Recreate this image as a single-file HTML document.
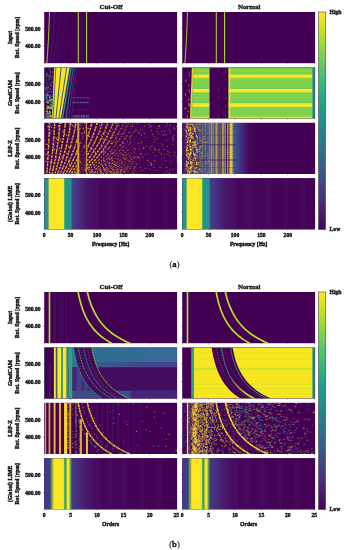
<!DOCTYPE html>
<html><head><meta charset="utf-8"><title>Figure</title>
<style>
html,body{margin:0;padding:0;background:#fff;}
body{width:347px;height:550px;overflow:hidden;}
svg{display:block;}
text{font-family:"Liberation Serif","DejaVu Serif",serif;font-weight:bold;fill:#151515;stroke:#151515;stroke-width:0.42px;}
</style></head><body>
<svg width="347" height="550" viewBox="0 0 347 550">
<defs>
<linearGradient id="vir" x1="0" y1="1" x2="0" y2="0">
<stop offset="0%" stop-color="#440154"/>
<stop offset="10%" stop-color="#482475"/>
<stop offset="20%" stop-color="#414487"/>
<stop offset="30%" stop-color="#355f8d"/>
<stop offset="40%" stop-color="#2a788e"/>
<stop offset="50%" stop-color="#21918c"/>
<stop offset="60%" stop-color="#22a884"/>
<stop offset="70%" stop-color="#44bf70"/>
<stop offset="80%" stop-color="#7ad151"/>
<stop offset="90%" stop-color="#bddf26"/>
<stop offset="100%" stop-color="#fde725"/>
</linearGradient>
</defs>
<rect x="0" y="0" width="347" height="550" fill="#ffffff"/>
<rect x="44.2" y="12" width="132.9" height="51.2" fill="#440154"/>
<clipPath id="c1"><rect x="44.2" y="12" width="132.9" height="51.2"/></clipPath>
<g clip-path="url(#c1)">
<polyline points="54.8,12 54.54,16.27 54.26,20.53 53.94,24.8 53.59,29.07 53.2,33.33 52.78,37.6 52.32,41.87 51.83,46.13 51.31,50.4 50.75,54.67 50.16,58.93 49.53,63.2" fill="none" stroke="#4c2c7c" stroke-width="0.7" opacity="0.75"/>
<polyline points="60.09,12 59.72,16.27 59.29,20.53 58.81,24.8 58.28,29.07 57.7,33.33 57.07,37.6 56.39,41.87 55.65,46.13 54.87,50.4 54.03,54.67 53.14,58.93 52.2,63.2" fill="none" stroke="#4c2c7c" stroke-width="0.7" opacity="0.6"/>
<polyline points="62.74,12 62.3,16.27 61.81,20.53 61.25,24.8 60.63,29.07 59.95,33.33 59.22,37.6 58.42,41.87 57.56,46.13 56.64,50.4 55.67,54.67 54.63,58.93 53.53,63.2" fill="none" stroke="#4c2c7c" stroke-width="0.7" opacity="0.35"/>
<polyline points="66.71,12 66.18,16.27 65.58,20.53 64.9,24.8 64.15,29.07 63.33,33.33 62.43,37.6 61.46,41.87 60.42,46.13 59.31,50.4 58.12,54.67 56.86,58.93 55.53,63.2" fill="none" stroke="#4c2c7c" stroke-width="0.7" opacity="0.45"/>
<polyline points="70.69,12 70.06,16.27 69.35,20.53 68.55,24.8 67.67,29.07 66.7,33.33 65.65,37.6 64.51,41.87 63.29,46.13 61.98,50.4 60.58,54.67 59.1,58.93 57.53,63.2" fill="none" stroke="#4c2c7c" stroke-width="0.7" opacity="0.2"/>
<polyline points="75.99,12 75.23,16.27 74.38,20.53 73.42,24.8 72.37,29.07 71.2,33.33 69.94,37.6 68.57,41.87 67.1,46.13 65.53,50.4 63.86,54.67 62.08,58.93 60.2,63.2" fill="none" stroke="#4c2c7c" stroke-width="0.7" opacity="0.15"/>
<polyline points="49.5,12 49.37,16.27 49.23,20.53 49.07,24.8 48.89,29.07 48.7,33.33 48.49,37.6 48.26,41.87 48.02,46.13 47.76,50.4 47.48,54.67 47.18,58.93 46.87,63.2" fill="none" stroke="#a8d835" stroke-width="0.95"/>
<rect x="77.76" y="12" width="1.1" height="51.2" fill="#a4d437"/>
<rect x="86" y="12" width="1.1" height="51.2" fill="#a4d437"/>
</g>
<rect x="182.2" y="12" width="132.9" height="51.2" fill="#440154"/>
<clipPath id="c2"><rect x="182.2" y="12" width="132.9" height="51.2"/></clipPath>
<g clip-path="url(#c2)">
<polyline points="187.5,12 187.37,16.27 187.23,20.53 187.07,24.8 186.89,29.07 186.7,33.33 186.49,37.6 186.26,41.87 186.02,46.13 185.76,50.4 185.48,54.67 185.18,58.93 184.87,63.2" fill="none" stroke="#a8d835" stroke-width="0.95"/>
<rect x="215.76" y="12" width="1.1" height="51.2" fill="#a4d437"/>
<rect x="224" y="12" width="1.1" height="51.2" fill="#a4d437"/>
</g>
<rect x="44.2" y="67.4" width="132.9" height="51.2" fill="#440154"/>
<clipPath id="c3"><rect x="44.2" y="67.4" width="132.9" height="51.2"/></clipPath>
<g clip-path="url(#c3)">
<path d="M47.75 87.72h1.4M45.17 94.8h1.4M47.38 113.57h1.4M45.94 89.67h1.4M45.34 95.56h1.4M45.93 74.11h1.4M46.53 97.17h1.4M45.68 87.81h1.4M45.95 111h1.4M47.22 95.04h1.4M50.21 108.87h1.4M46 96.57h1.4M46.27 95.4h1.4M45.66 98.97h1.4M49.78 89.37h1.4M47.27 114.26h1.4M47.1 107.78h1.4M51.48 72.01h1.4M47.33 111.83h1.4M51.15 98.47h1.4M45.22 88.89h1.4M48.24 114.75h1.4M49.14 101.44h1.4M48.46 107.51h1.4M48.21 102.8h1.4M50.4 107.9h1.4M45.94 115.32h1.4M49.8 71.16h1.4M51.4 100.39h1.4M51.52 82.19h1.4M49.99 85.32h1.4M49.46 98.57h1.4M49.16 106.47h1.4M46.64 87.87h1.4M48.4 76.25h1.4M49.65 112.25h1.4M48.33 95.52h1.4M51.12 85.91h1.4M50.06 75.48h1.4M46.05 100.96h1.4M45.58 97.47h1.4M47.08 75.21h1.4M50.27 96.33h1.4M46.59 93.78h1.4M50.55 105.04h1.4M50 107.05h1.4M48.58 95.98h1.4M49.5 73.1h1.4M51.1 77.47h1.4M46.34 73.42h1.4" stroke="#2a8f8c" stroke-width="1.4" fill="none" opacity="0.75"/>
<path d="M49.95 67.91h1.4M46.44 115.54h1.4M49.93 111.79h1.4M50.28 99.75h1.4M47.4 91.7h1.4M45.95 117.75h1.4M49.58 83.55h1.4M46 85.1h1.4M47.28 102.64h1.4M49.92 115.64h1.4M50.26 102.54h1.4M45.86 82.86h1.4M51.56 102.85h1.4M47.32 113.49h1.4M47.57 94.64h1.4M48.4 99.85h1.4M50.71 117.34h1.4M48.1 79.92h1.4M49.84 79.28h1.4M50.39 104.6h1.4M45.89 91.61h1.4M46.59 115.92h1.4M49.91 104.2h1.4M47.76 86.2h1.4M46 91.5h1.4" stroke="#3b6a8c" stroke-width="1.4" fill="none" opacity="0.75"/>
<path d="M47 99.23h1.2M50.74 91.97h1.2M51.04 100.19h1.2M48.56 113.57h1.2M48.61 77.91h1.2M46.33 99.82h1.2M45.9 116.68h1.2M49.56 105.22h1.2M45.82 76.43h1.2M45.93 97.56h1.2M49.91 75.24h1.2M48.5 91.71h1.2M46.96 95.42h1.2M45.11 116.64h1.2M50.8 105.52h1.2M46.33 111.66h1.2M48.77 69.31h1.2M46.19 79.98h1.2M50.23 95.23h1.2M48.03 113.58h1.2" stroke="#3fae7a" stroke-width="1.2" fill="none" opacity="0.7"/>
<path d="M47.93 106.61h1.4M49.38 116.07h1.4M48.35 116.36h1.4M48.86 108.17h1.4M49 97.3h1.4M48.47 100.78h1.4M45.72 113.84h1.4M46.79 106.94h1.4M50.27 108.7h1.4M47.75 107.89h1.4M49.2 113.53h1.4M46.37 108.78h1.4M47.27 102.77h1.4M50.57 107.66h1.4M49.24 113.01h1.4M51.45 106.3h1.4M49.56 107.62h1.4M48.93 111.59h1.4M48.55 108.21h1.4M48.71 116.86h1.4M50.11 115.48h1.4M51.64 102.4h1.4M49.22 116.9h1.4M50.99 99.81h1.4M46.47 106.27h1.4M46.16 102h1.4M46.16 111.09h1.4M50.64 115.92h1.4M46.67 112.08h1.4M49.86 99.93h1.4M51.26 117.41h1.4M47.08 117.09h1.4M48.21 107.23h1.4M51.94 114.55h1.4" stroke="#bfcf30" stroke-width="1.4" fill="none" opacity="0.78"/>
<polygon points="53.8,67.4 70,67.4 61.1,118.6 51.7,118.6" fill="#2d8a8c"/>
<polygon points="54.3,67.4 69.4,67.4 60.7,118.6 52.1,118.6" fill="#fde725"/>
<line x1="55.85" y1="67.4" x2="53.1" y2="118.6" stroke="#34587f" stroke-width="0.8"/>
<line x1="61.2" y1="67.4" x2="55.85" y2="118.6" stroke="#34587f" stroke-width="1"/>
<line x1="66.7" y1="67.4" x2="58.85" y2="118.6" stroke="#34587f" stroke-width="1"/>
<polygon points="70.6,67.4 71.8,67.4 63.1,118.6 61.7,118.6" fill="#2a9a89"/>
<polygon points="72.8,67.4 73.8,67.4 66.6,118.6 65.2,118.6" fill="#31688e" opacity="0.9"/>
<polygon points="74.6,67.4 75.3,67.4 69,118.6 68.2,118.6" fill="#3b528b" opacity="0.8"/>
<polygon points="76.4,67.4 77,67.4 71.6,118.6 71,118.6" fill="#3b528b" opacity="0.6"/>
<rect x="72.6" y="97.15" width="0.8" height="1.5" fill="#3f74a0" opacity="0.8"/>
<rect x="74.4" y="97.15" width="1" height="1.5" fill="#3f74a0" opacity="0.8"/>
<rect x="76.4" y="97.15" width="1" height="1.5" fill="#3f74a0" opacity="0.8"/>
<rect x="78.1" y="97.15" width="1" height="1.5" fill="#3f74a0" opacity="0.8"/>
<rect x="79.6" y="97.15" width="1" height="1.5" fill="#3f74a0" opacity="0.8"/>
<rect x="81.3" y="97.15" width="0.8" height="1.5" fill="#3f74a0" opacity="0.8"/>
<rect x="83.1" y="97.15" width="1" height="1.5" fill="#3f74a0" opacity="0.8"/>
<rect x="84.6" y="97.15" width="1" height="1.5" fill="#3f74a0" opacity="0.8"/>
<rect x="86.6" y="97.15" width="1" height="1.5" fill="#3f74a0" opacity="0.8"/>
<rect x="88.3" y="97.15" width="1.3" height="1.5" fill="#3f74a0" opacity="0.8"/>
<rect x="72.6" y="101.65" width="1" height="1.7" fill="#4484a8" opacity="0.9"/>
<rect x="74.3" y="101.65" width="1.3" height="1.7" fill="#4484a8" opacity="0.9"/>
<rect x="76.6" y="101.65" width="1" height="1.7" fill="#4484a8" opacity="0.9"/>
<rect x="78.6" y="101.65" width="0.8" height="1.7" fill="#4484a8" opacity="0.9"/>
<rect x="79.9" y="101.65" width="0.8" height="1.7" fill="#4484a8" opacity="0.9"/>
<rect x="81.2" y="101.65" width="0.8" height="1.7" fill="#4484a8" opacity="0.9"/>
<rect x="82.7" y="101.65" width="1" height="1.7" fill="#4484a8" opacity="0.9"/>
<rect x="84.2" y="101.65" width="0.8" height="1.7" fill="#4484a8" opacity="0.9"/>
<rect x="85.7" y="101.65" width="0.8" height="1.7" fill="#4484a8" opacity="0.9"/>
<rect x="87.2" y="101.65" width="1.3" height="1.7" fill="#4484a8" opacity="0.9"/>
<rect x="72.6" y="109.4" width="1" height="1.2" fill="#3f4f8a" opacity="0.6"/>
<rect x="74.1" y="109.4" width="1.3" height="1.2" fill="#3f4f8a" opacity="0.6"/>
<rect x="76.4" y="109.4" width="1.3" height="1.2" fill="#3f4f8a" opacity="0.6"/>
<rect x="78.4" y="109.4" width="1.3" height="1.2" fill="#3f4f8a" opacity="0.6"/>
<rect x="80.4" y="109.4" width="0.8" height="1.2" fill="#3f4f8a" opacity="0.6"/>
<rect x="81.9" y="109.4" width="0.8" height="1.2" fill="#3f4f8a" opacity="0.6"/>
<rect x="83.7" y="109.4" width="0.8" height="1.2" fill="#3f4f8a" opacity="0.6"/>
<rect x="85.2" y="109.4" width="0.8" height="1.2" fill="#3f4f8a" opacity="0.6"/>
<rect x="86.7" y="109.4" width="0.8" height="1.2" fill="#3f4f8a" opacity="0.6"/>
<rect x="88.5" y="109.4" width="0.8" height="1.2" fill="#3f4f8a" opacity="0.6"/>
<rect x="72.6" y="115" width="0.8" height="2.6" fill="#4484a8" opacity="0.9"/>
<rect x="74.4" y="115" width="0.8" height="2.6" fill="#4484a8" opacity="0.9"/>
<rect x="75.7" y="115" width="1" height="2.6" fill="#4484a8" opacity="0.9"/>
<rect x="77.2" y="115" width="1" height="2.6" fill="#4484a8" opacity="0.9"/>
<rect x="78.7" y="115" width="1" height="2.6" fill="#4484a8" opacity="0.9"/>
<rect x="80.7" y="115" width="1" height="2.6" fill="#4484a8" opacity="0.9"/>
<rect x="82.4" y="115" width="1.3" height="2.6" fill="#4484a8" opacity="0.9"/>
<rect x="84.2" y="115" width="0.8" height="2.6" fill="#4484a8" opacity="0.9"/>
<rect x="86" y="115" width="1.3" height="2.6" fill="#4484a8" opacity="0.9"/>
<rect x="87.8" y="115" width="0.8" height="2.6" fill="#4484a8" opacity="0.9"/>
</g>
<rect x="182.2" y="67.4" width="132.9" height="51.2" fill="#440154"/>
<clipPath id="c4"><rect x="182.2" y="67.4" width="132.9" height="51.2"/></clipPath>
<g clip-path="url(#c4)">
<rect x="185.3" y="79.4" width="1" height="2.2" fill="#a8a04a" opacity="0.8"/>
<rect x="185.2" y="93.4" width="1" height="2.2" fill="#a8a04a" opacity="0.8"/>
<rect x="184.6" y="107.4" width="1" height="2.4" fill="#a8a04a" opacity="0.8"/>
<rect x="187" y="115.4" width="1" height="2" fill="#a8a04a" opacity="0.8"/>
<rect x="188.3" y="84.4" width="1" height="2.2" fill="#a8a04a" opacity="0.8"/>
<rect x="188.4" y="89.2" width="1" height="2.2" fill="#a8a04a" opacity="0.8"/>
<rect x="188.2" y="98.7" width="1" height="2.2" fill="#a8a04a" opacity="0.8"/>
<rect x="188.3" y="102.9" width="1" height="2.6" fill="#a8a04a" opacity="0.8"/>
<rect x="187.6" y="110.4" width="1" height="2" fill="#a8a04a" opacity="0.8"/>
<rect x="189.7" y="71.4" width="1" height="5.5" fill="#e0cf2c" opacity="0.8"/>
<rect x="189.3" y="91.4" width="1" height="2" fill="#a8a04a" opacity="0.8"/>
<rect x="189" y="104.4" width="1" height="2" fill="#a8a04a" opacity="0.8"/>
<rect x="190.6" y="67.4" width="19.1" height="51.2" fill="#7cd250"/>
<rect x="190.6" y="70" width="19.1" height="1.4" fill="#98d640"/>
<rect x="190.6" y="74.6" width="19.1" height="3.1" fill="#fde725"/>
<rect x="190.6" y="78.4" width="19.1" height="0.8" fill="#a5d93a"/>
<rect x="190.6" y="88.9" width="19.1" height="3.4" fill="#fde725"/>
<rect x="190.6" y="103.2" width="19.1" height="3.6" fill="#fde725"/>
<rect x="190.6" y="82" width="19.1" height="0.6" fill="#8dd646"/>
<rect x="190.6" y="87.6" width="19.1" height="1" fill="#6ccd5a"/>
<rect x="190.6" y="97" width="19.1" height="0.6" fill="#8dd646"/>
<rect x="190.6" y="102" width="19.1" height="1" fill="#6ccd5a"/>
<rect x="190.6" y="111" width="19.1" height="0.6" fill="#8dd646"/>
<rect x="190.6" y="116.6" width="19.1" height="2.1" fill="#d5e22a"/>
<rect x="209.2" y="67.4" width="0.8" height="51.2" fill="#2a8d8c"/>
<polygon points="190,67.4 192.6,67.4 190.6,118.6 190,118.6" fill="#440154"/>
<polyline points="192.5,67.4 192.1,81.4 191.5,94.4 191,107.4 190.7,118.6" fill="none" stroke="#e9d829" stroke-width="1.4"/>
<polyline points="193.5,67.4 193.1,81.4 192.5,94.4 192,107.4 191.7,118.6" fill="none" stroke="#a0b545" stroke-width="0.6"/>
<rect x="228.6" y="67.4" width="84.4" height="51.2" fill="#7cd250"/>
<rect x="228.6" y="70" width="84.4" height="1.4" fill="#98d640"/>
<rect x="228.6" y="74.6" width="84.4" height="3.1" fill="#fde725"/>
<rect x="228.6" y="78.4" width="84.4" height="0.8" fill="#a5d93a"/>
<rect x="228.6" y="88.9" width="84.4" height="3.4" fill="#fde725"/>
<rect x="228.6" y="103.2" width="84.4" height="3.6" fill="#fde725"/>
<rect x="228.6" y="82" width="84.4" height="0.6" fill="#8dd646"/>
<rect x="228.6" y="87.6" width="84.4" height="1" fill="#6ccd5a"/>
<rect x="228.6" y="97" width="84.4" height="0.6" fill="#8dd646"/>
<rect x="228.6" y="102" width="84.4" height="1" fill="#6ccd5a"/>
<rect x="228.6" y="111" width="84.4" height="0.6" fill="#8dd646"/>
<rect x="228.6" y="116.6" width="84.4" height="2.1" fill="#d5e22a"/>
<rect x="228.6" y="67.4" width="1.7" height="51.2" fill="#eadf28"/>
<rect x="312.8" y="67.4" width="2.4" height="51.2" fill="#2f6f8e"/>
<rect x="312.4" y="67.4" width="0.7" height="51.2" fill="#35a07f"/>
<rect x="218.2" y="69.4" width="0.7" height="3" fill="#5a4a80" opacity="0.7"/>
<rect x="218.2" y="78.4" width="0.7" height="3" fill="#5a4a80" opacity="0.7"/>
<rect x="218.2" y="87.4" width="0.7" height="3" fill="#5a4a80" opacity="0.7"/>
<rect x="218.2" y="96.4" width="0.7" height="3" fill="#5a4a80" opacity="0.7"/>
<rect x="218.2" y="105.4" width="0.7" height="3" fill="#5a4a80" opacity="0.7"/>
<rect x="218.2" y="114.4" width="0.7" height="3" fill="#5a4a80" opacity="0.7"/>
<rect x="225" y="69.4" width="0.7" height="3" fill="#5a4a80" opacity="0.7"/>
<rect x="225" y="78.4" width="0.7" height="3" fill="#5a4a80" opacity="0.7"/>
<rect x="225" y="87.4" width="0.7" height="3" fill="#5a4a80" opacity="0.7"/>
<rect x="225" y="96.4" width="0.7" height="3" fill="#5a4a80" opacity="0.7"/>
<rect x="225" y="105.4" width="0.7" height="3" fill="#5a4a80" opacity="0.7"/>
<rect x="225" y="114.4" width="0.7" height="3" fill="#5a4a80" opacity="0.7"/>
</g>
<rect x="44.2" y="122.8" width="132.9" height="51.2" fill="#440154"/>
<clipPath id="c5"><rect x="44.2" y="122.8" width="132.9" height="51.2"/></clipPath>
<g clip-path="url(#c5)">
<polyline points="49.5,122.8 49.35,127.92 49.17,133.04 48.97,138.16 48.74,143.28 48.49,148.4 48.21,153.52 47.91,158.64 47.59,163.76 47.24,168.88 46.87,174" fill="none" stroke="#e3a92c" stroke-width="1.5" stroke-dasharray="1.6 1.2 2.6 1.0" stroke-dashoffset="0.2" opacity="0.95"/>
<polyline points="49.5,122.8 49.35,127.92 49.17,133.04 48.97,138.16 48.74,143.28 48.49,148.4 48.21,153.52 47.91,158.64 47.59,163.76 47.24,168.88 46.87,174" fill="none" stroke="#f6d826" stroke-width="1" stroke-dasharray="1.2 4.5" stroke-dashoffset="5.6" opacity="0.95"/>
<polyline points="54.8,122.8 54.49,127.92 54.14,133.04 53.73,138.16 53.28,143.28 52.78,148.4 52.23,153.52 51.63,158.64 50.98,163.76 50.28,168.88 49.53,174" fill="none" stroke="#e3a92c" stroke-width="1.5" stroke-dasharray="1.6 1.2 2.6 1.0" stroke-dashoffset="2.1" opacity="0.95"/>
<polyline points="54.8,122.8 54.49,127.92 54.14,133.04 53.73,138.16 53.28,143.28 52.78,148.4 52.23,153.52 51.63,158.64 50.98,163.76 50.28,168.88 49.53,174" fill="none" stroke="#f6d826" stroke-width="1" stroke-dasharray="1.2 4.5" stroke-dashoffset="1.7" opacity="0.95"/>
<polyline points="60.09,122.8 59.64,127.92 59.11,133.04 58.5,138.16 57.82,143.28 57.07,148.4 56.24,153.52 55.34,158.64 54.37,163.76 53.32,168.88 52.2,174" fill="none" stroke="#e3a92c" stroke-width="1.5" stroke-dasharray="2.4 1.0" stroke-dashoffset="1.1" opacity="0.95"/>
<polyline points="60.09,122.8 59.64,127.92 59.11,133.04 58.5,138.16 57.82,143.28 57.07,148.4 56.24,153.52 55.34,158.64 54.37,163.76 53.32,168.88 52.2,174" fill="none" stroke="#f6d826" stroke-width="1" stroke-dasharray="1.2 4.5" stroke-dashoffset="6.0" opacity="0.95"/>
<polyline points="65.39,122.8 64.78,127.92 64.07,133.04 63.27,138.16 62.36,143.28 61.36,148.4 60.26,153.52 59.06,158.64 57.76,163.76 56.36,168.88 54.87,174" fill="none" stroke="#e3a92c" stroke-width="1.5" stroke-dasharray="2.0 1.1" stroke-dashoffset="0.1" opacity="0.95"/>
<polyline points="65.39,122.8 64.78,127.92 64.07,133.04 63.27,138.16 62.36,143.28 61.36,148.4 60.26,153.52 59.06,158.64 57.76,163.76 56.36,168.88 54.87,174" fill="none" stroke="#f6d826" stroke-width="1" stroke-dasharray="1 3.5 1.6 5" stroke-dashoffset="3.0" opacity="0.95"/>
<polyline points="70.69,122.8 69.93,127.92 69.04,133.04 68.03,138.16 66.9,143.28 65.65,148.4 64.27,153.52 62.77,158.64 61.15,163.76 59.4,168.88 57.53,174" fill="none" stroke="#e3a92c" stroke-width="1.5" stroke-dasharray="2.4 1.0" stroke-dashoffset="2.1" opacity="0.95"/>
<polyline points="70.69,122.8 69.93,127.92 69.04,133.04 68.03,138.16 66.9,143.28 65.65,148.4 64.27,153.52 62.77,158.64 61.15,163.76 59.4,168.88 57.53,174" fill="none" stroke="#f6d826" stroke-width="1" stroke-dasharray="1.2 4.5" stroke-dashoffset="5.6" opacity="0.95"/>
<polyline points="75.99,122.8 75.07,127.92 74.01,133.04 72.8,138.16 71.44,143.28 69.94,148.4 68.29,153.52 66.49,158.64 64.54,163.76 62.44,168.88 60.2,174" fill="none" stroke="#e3a92c" stroke-width="1.5" stroke-dasharray="2.0 1.1" stroke-dashoffset="2.6" opacity="0.95"/>
<polyline points="75.99,122.8 75.07,127.92 74.01,133.04 72.8,138.16 71.44,143.28 69.94,148.4 68.29,153.52 66.49,158.64 64.54,163.76 62.44,168.88 60.2,174" fill="none" stroke="#f6d826" stroke-width="1" stroke-dasharray="1 3.5 1.6 5" stroke-dashoffset="2.6" opacity="0.95"/>
<polyline points="81.28,122.8 80.22,127.92 78.98,133.04 77.57,138.16 75.99,143.28 74.23,148.4 72.3,153.52 70.2,158.64 67.93,163.76 65.48,168.88 62.86,174" fill="none" stroke="#e3a92c" stroke-width="1.5" stroke-dasharray="3.0 1.2 1.5 1.1" stroke-dashoffset="2.2" opacity="0.95"/>
<polyline points="81.28,122.8 80.22,127.92 78.98,133.04 77.57,138.16 75.99,143.28 74.23,148.4 72.3,153.52 70.2,158.64 67.93,163.76 65.48,168.88 62.86,174" fill="none" stroke="#f6d826" stroke-width="1" stroke-dasharray="1.5 6 1 3" stroke-dashoffset="5.8" opacity="0.95"/>
<polyline points="86.58,122.8 85.36,127.92 83.95,133.04 82.34,138.16 80.53,143.28 78.52,148.4 76.32,153.52 73.92,158.64 71.32,163.76 68.52,168.88 65.53,174" fill="none" stroke="#e3a92c" stroke-width="1.5" stroke-dasharray="1.6 1.2 2.6 1.0" stroke-dashoffset="2.8" opacity="0.95"/>
<polyline points="86.58,122.8 85.36,127.92 83.95,133.04 82.34,138.16 80.53,143.28 78.52,148.4 76.32,153.52 73.92,158.64 71.32,163.76 68.52,168.88 65.53,174" fill="none" stroke="#f6d826" stroke-width="1" stroke-dasharray="1.2 4.5" stroke-dashoffset="2.1" opacity="0.95"/>
<polyline points="91.88,122.8 90.51,127.92 88.92,133.04 87.1,138.16 85.07,143.28 82.81,148.4 80.33,153.52 77.63,158.64 74.71,163.76 71.56,168.88 68.2,174" fill="none" stroke="#e3a92c" stroke-width="1.5" stroke-dasharray="2.4 1.0" stroke-dashoffset="1.6" opacity="0.95"/>
<polyline points="91.88,122.8 90.51,127.92 88.92,133.04 87.1,138.16 85.07,143.28 82.81,148.4 80.33,153.52 77.63,158.64 74.71,163.76 71.56,168.88 68.2,174" fill="none" stroke="#f6d826" stroke-width="1" stroke-dasharray="1.5 6 1 3" stroke-dashoffset="5.9" opacity="0.95"/>
<polyline points="97.18,122.8 95.65,127.92 93.88,133.04 91.87,138.16 89.61,143.28 87.1,148.4 84.35,153.52 81.34,158.64 78.1,163.76 74.6,168.88 70.86,174" fill="none" stroke="#e3a92c" stroke-width="1.5" stroke-dasharray="2.4 1.0" stroke-dashoffset="0.1" opacity="0.95"/>
<polyline points="97.18,122.8 95.65,127.92 93.88,133.04 91.87,138.16 89.61,143.28 87.1,148.4 84.35,153.52 81.34,158.64 78.1,163.76 74.6,168.88 70.86,174" fill="none" stroke="#f6d826" stroke-width="1" stroke-dasharray="1 3.5 1.6 5" stroke-dashoffset="4.4" opacity="0.95"/>
<polyline points="102.47,122.8 100.8,127.92 98.85,133.04 96.64,138.16 94.15,143.28 91.39,148.4 88.36,153.52 85.06,158.64 81.49,163.76 77.64,168.88 73.53,174" fill="none" stroke="#e3a92c" stroke-width="1.5" stroke-dasharray="1.6 1.2 2.6 1.0" stroke-dashoffset="1.7" opacity="0.95"/>
<polyline points="102.47,122.8 100.8,127.92 98.85,133.04 96.64,138.16 94.15,143.28 91.39,148.4 88.36,153.52 85.06,158.64 81.49,163.76 77.64,168.88 73.53,174" fill="none" stroke="#f6d826" stroke-width="1" stroke-dasharray="1.2 4.5" stroke-dashoffset="0.5" opacity="0.95"/>
<polyline points="107.77,122.8 105.94,127.92 103.82,133.04 101.4,138.16 98.69,143.28 95.68,148.4 92.37,153.52 88.77,158.64 84.88,163.76 80.68,168.88 76.2,174" fill="none" stroke="#e3a92c" stroke-width="1.5" stroke-dasharray="3.0 1.2 1.5 1.1" stroke-dashoffset="3.5" opacity="0.95"/>
<polyline points="107.77,122.8 105.94,127.92 103.82,133.04 101.4,138.16 98.69,143.28 95.68,148.4 92.37,153.52 88.77,158.64 84.88,163.76 80.68,168.88 76.2,174" fill="none" stroke="#f6d826" stroke-width="1" stroke-dasharray="1 3.5 1.6 5" stroke-dashoffset="5.8" opacity="0.95"/>
<polyline points="113.07,122.8 111.09,127.92 108.79,133.04 106.17,138.16 103.23,143.28 99.97,148.4 96.39,153.52 92.49,158.64 88.27,163.76 83.73,168.88 78.86,174" fill="none" stroke="#e3a92c" stroke-width="1.5" stroke-dasharray="2.4 1.0" stroke-dashoffset="2.8" opacity="0.95"/>
<polyline points="113.07,122.8 111.09,127.92 108.79,133.04 106.17,138.16 103.23,143.28 99.97,148.4 96.39,153.52 92.49,158.64 88.27,163.76 83.73,168.88 78.86,174" fill="none" stroke="#f6d826" stroke-width="1" stroke-dasharray="1.2 4.5" stroke-dashoffset="2.8" opacity="0.95"/>
<polyline points="118.37,122.8 116.24,127.92 113.76,133.04 110.94,138.16 107.77,143.28 104.26,148.4 100.4,153.52 96.2,158.64 91.66,163.76 86.77,168.88 81.53,174" fill="none" stroke="#e3a92c" stroke-width="1.5" stroke-dasharray="2.4 1.0" stroke-dashoffset="1.1" opacity="0.95"/>
<polyline points="118.37,122.8 116.24,127.92 113.76,133.04 110.94,138.16 107.77,143.28 104.26,148.4 100.4,153.52 96.2,158.64 91.66,163.76 86.77,168.88 81.53,174" fill="none" stroke="#f6d826" stroke-width="1" stroke-dasharray="1.2 4.5" stroke-dashoffset="1.6" opacity="0.95"/>
<polyline points="123.66,122.8 121.38,127.92 118.73,133.04 115.7,138.16 112.31,143.28 108.55,148.4 104.42,153.52 99.92,158.64 95.05,163.76 89.81,168.88 84.2,174" fill="none" stroke="#e3a92c" stroke-width="1.1" stroke-dasharray="1.4 1.4 2.4 1.8" stroke-dashoffset="1.3" opacity="0.80"/>
<polyline points="123.66,122.8 121.38,127.92 118.73,133.04 115.7,138.16 112.31,143.28 108.55,148.4 104.42,153.52 99.92,158.64 95.05,163.76 89.81,168.88 84.2,174" fill="none" stroke="#f6d826" stroke-width="1" stroke-dasharray="1.2 4.5" stroke-dashoffset="5.8" opacity="0.80"/>
<polyline points="128.96,122.8 126.53,127.92 123.7,133.04 120.47,138.16 116.85,143.28 112.84,148.4 108.43,153.52 103.63,158.64 98.44,163.76 92.85,168.88 86.86,174" fill="none" stroke="#e3a92c" stroke-width="1.1" stroke-dasharray="1.6 1.6" stroke-dashoffset="1.4" opacity="0.80"/>
<polyline points="128.96,122.8 126.53,127.92 123.7,133.04 120.47,138.16 116.85,143.28 112.84,148.4 108.43,153.52 103.63,158.64 98.44,163.76 92.85,168.88 86.86,174" fill="none" stroke="#f6d826" stroke-width="1" stroke-dasharray="1.2 4.5" stroke-dashoffset="2.0" opacity="0.80"/>
<polyline points="134.26,122.8 131.67,127.92 128.66,133.04 125.24,138.16 121.39,143.28 117.13,148.4 112.45,153.52 107.35,158.64 101.83,163.76 95.89,168.88 89.53,174" fill="none" stroke="#e3a92c" stroke-width="1.1" stroke-dasharray="2.0 1.8" stroke-dashoffset="1.1" opacity="0.80"/>
<polyline points="134.26,122.8 131.67,127.92 128.66,133.04 125.24,138.16 121.39,143.28 117.13,148.4 112.45,153.52 107.35,158.64 101.83,163.76 95.89,168.88 89.53,174" fill="none" stroke="#f6d826" stroke-width="1" stroke-dasharray="1 3.5 1.6 5" stroke-dashoffset="1.2" opacity="0.80"/>
<polyline points="139.56,122.8 136.82,127.92 133.63,133.04 130.01,138.16 125.93,143.28 121.42,148.4 116.46,153.52 111.06,158.64 105.22,163.76 98.93,168.88 92.2,174" fill="none" stroke="#e3a92c" stroke-width="1.1" stroke-dasharray="1.6 1.6" stroke-dashoffset="1.1" opacity="0.80"/>
<polyline points="139.56,122.8 136.82,127.92 133.63,133.04 130.01,138.16 125.93,143.28 121.42,148.4 116.46,153.52 111.06,158.64 105.22,163.76 98.93,168.88 92.2,174" fill="none" stroke="#f6d826" stroke-width="1" stroke-dasharray="1.2 4.5" stroke-dashoffset="0.9" opacity="0.80"/>
<polyline points="144.85,122.8 141.96,127.92 138.6,133.04 134.77,138.16 130.48,143.28 125.71,148.4 120.48,153.52 114.78,158.64 108.61,163.76 101.97,168.88 94.86,174" fill="none" stroke="#e3a92c" stroke-width="1.1" stroke-dasharray="2.0 1.8" stroke-dashoffset="0.1" opacity="0.80"/>
<polyline points="144.85,122.8 141.96,127.92 138.6,133.04 134.77,138.16 130.48,143.28 125.71,148.4 120.48,153.52 114.78,158.64 108.61,163.76 101.97,168.88 94.86,174" fill="none" stroke="#f6d826" stroke-width="1" stroke-dasharray="1.5 6 1 3" stroke-dashoffset="3.8" opacity="0.80"/>
<polyline points="150.15,122.8 147.11,127.92 143.57,133.04 139.54,138.16 135.02,143.28 130,148.4 124.49,153.52 118.49,158.64 112,163.76 105.01,168.88 97.53,174" fill="none" stroke="#e3a92c" stroke-width="1.1" stroke-dasharray="1.4 1.4 2.4 1.8" stroke-dashoffset="3.8" opacity="0.80"/>
<polyline points="150.15,122.8 147.11,127.92 143.57,133.04 139.54,138.16 135.02,143.28 130,148.4 124.49,153.52 118.49,158.64 112,163.76 105.01,168.88 97.53,174" fill="none" stroke="#f6d826" stroke-width="1" stroke-dasharray="1.2 4.5" stroke-dashoffset="3.9" opacity="0.80"/>
<polyline points="155.45,122.8 152.25,127.92 148.54,133.04 144.31,138.16 139.56,143.28 134.29,148.4 128.51,153.52 122.2,158.64 115.38,163.76 108.05,168.88 100.19,174" fill="none" stroke="#e3a92c" stroke-width="1.1" stroke-dasharray="2.0 1.8" stroke-dashoffset="2.9" opacity="0.80"/>
<polyline points="155.45,122.8 152.25,127.92 148.54,133.04 144.31,138.16 139.56,143.28 134.29,148.4 128.51,153.52 122.2,158.64 115.38,163.76 108.05,168.88 100.19,174" fill="none" stroke="#f6d826" stroke-width="1" stroke-dasharray="1.5 6 1 3" stroke-dashoffset="0.9" opacity="0.80"/>
<polyline points="160.75,122.8 157.4,127.92 153.51,133.04 149.07,138.16 144.1,143.28 138.58,148.4 132.52,153.52 125.92,158.64 118.77,163.76 111.09,168.88 102.86,174" fill="none" stroke="#e3a92c" stroke-width="1.1" stroke-dasharray="1.6 1.6" stroke-dashoffset="3.3" opacity="0.80"/>
<polyline points="160.75,122.8 157.4,127.92 153.51,133.04 149.07,138.16 144.1,143.28 138.58,148.4 132.52,153.52 125.92,158.64 118.77,163.76 111.09,168.88 102.86,174" fill="none" stroke="#f6d826" stroke-width="1" stroke-dasharray="1 3.5 1.6 5" stroke-dashoffset="5.4" opacity="0.80"/>
<polyline points="166.04,122.8 162.54,127.92 158.48,133.04 153.84,138.16 148.64,143.28 142.87,148.4 136.53,153.52 129.63,158.64 122.16,163.76 114.13,168.88 105.53,174" fill="none" stroke="#e3a92c" stroke-width="1.1" stroke-dasharray="1.4 1.4 2.4 1.8" stroke-dashoffset="2.8" opacity="0.80"/>
<polyline points="166.04,122.8 162.54,127.92 158.48,133.04 153.84,138.16 148.64,143.28 142.87,148.4 136.53,153.52 129.63,158.64 122.16,163.76 114.13,168.88 105.53,174" fill="none" stroke="#f6d826" stroke-width="1" stroke-dasharray="1 3.5 1.6 5" stroke-dashoffset="0.8" opacity="0.80"/>
<polyline points="171.34,122.8 167.69,127.92 163.44,133.04 158.61,138.16 153.18,143.28 147.16,148.4 140.55,153.52 133.35,158.64 125.55,163.76 117.17,168.88 108.19,174" fill="none" stroke="#e3a92c" stroke-width="1.1" stroke-dasharray="1.4 1.4 2.4 1.8" stroke-dashoffset="2.3" opacity="0.80"/>
<polyline points="171.34,122.8 167.69,127.92 163.44,133.04 158.61,138.16 153.18,143.28 147.16,148.4 140.55,153.52 133.35,158.64 125.55,163.76 117.17,168.88 108.19,174" fill="none" stroke="#f6d826" stroke-width="1" stroke-dasharray="1 3.5 1.6 5" stroke-dashoffset="4.1" opacity="0.80"/>
<polyline points="176.64,122.8 172.83,127.92 168.41,133.04 163.37,138.16 157.72,143.28 151.45,148.4 144.56,153.52 137.06,158.64 128.94,163.76 120.21,168.88 110.86,174" fill="none" stroke="#e3a92c" stroke-width="1.1" stroke-dasharray="1.6 1.6" stroke-dashoffset="0.1" opacity="0.80"/>
<polyline points="176.64,122.8 172.83,127.92 168.41,133.04 163.37,138.16 157.72,143.28 151.45,148.4 144.56,153.52 137.06,158.64 128.94,163.76 120.21,168.88 110.86,174" fill="none" stroke="#f6d826" stroke-width="1" stroke-dasharray="1.2 4.5" stroke-dashoffset="3.8" opacity="0.80"/>
<polyline points="181.94,122.8 177.98,127.92 173.38,133.04 168.14,138.16 162.26,143.28 155.74,148.4 148.58,153.52 140.78,158.64 132.33,163.76 123.25,168.88 113.53,174" fill="none" stroke="#e3a92c" stroke-width="1.1" stroke-dasharray="2.0 1.8" stroke-dashoffset="3.3" opacity="0.80"/>
<polyline points="181.94,122.8 177.98,127.92 173.38,133.04 168.14,138.16 162.26,143.28 155.74,148.4 148.58,153.52 140.78,158.64 132.33,163.76 123.25,168.88 113.53,174" fill="none" stroke="#f6d826" stroke-width="1" stroke-dasharray="1 3.5 1.6 5" stroke-dashoffset="0.3" opacity="0.80"/>
<polyline points="187.24,122.8 183.12,127.92 178.35,133.04 172.91,138.16 166.8,143.28 160.03,148.4 152.59,153.52 144.49,158.64 135.72,163.76 126.29,168.88 116.19,174" fill="none" stroke="#e3a92c" stroke-width="1.1" stroke-dasharray="1.4 1.4 2.4 1.8" stroke-dashoffset="2.1" opacity="0.80"/>
<polyline points="187.24,122.8 183.12,127.92 178.35,133.04 172.91,138.16 166.8,143.28 160.03,148.4 152.59,153.52 144.49,158.64 135.72,163.76 126.29,168.88 116.19,174" fill="none" stroke="#f6d826" stroke-width="1" stroke-dasharray="1.2 4.5" stroke-dashoffset="2.9" opacity="0.80"/>
<polyline points="192.53,122.8 188.27,127.92 183.32,133.04 177.67,138.16 171.34,143.28 164.32,148.4 156.61,153.52 148.21,158.64 139.11,163.76 129.33,168.88 118.86,174" fill="none" stroke="#e3a92c" stroke-width="1.1" stroke-dasharray="2.0 1.8" stroke-dashoffset="3.2" opacity="0.80"/>
<polyline points="192.53,122.8 188.27,127.92 183.32,133.04 177.67,138.16 171.34,143.28 164.32,148.4 156.61,153.52 148.21,158.64 139.11,163.76 129.33,168.88 118.86,174" fill="none" stroke="#f6d826" stroke-width="1" stroke-dasharray="1 3.5 1.6 5" stroke-dashoffset="5.6" opacity="0.80"/>
<polyline points="197.83,122.8 193.42,127.92 188.29,133.04 182.44,138.16 175.88,143.28 168.61,148.4 160.62,153.52 151.92,158.64 142.5,163.76 132.37,168.88 121.53,174" fill="none" stroke="#e3a92c" stroke-width="1.1" stroke-dasharray="1.4 1.4 2.4 1.8" stroke-dashoffset="2.1" opacity="0.50"/>
<polyline points="197.83,122.8 193.42,127.92 188.29,133.04 182.44,138.16 175.88,143.28 168.61,148.4 160.62,153.52 151.92,158.64 142.5,163.76 132.37,168.88 121.53,174" fill="none" stroke="#f6d826" stroke-width="1" stroke-dasharray="1 3.5 1.6 5" stroke-dashoffset="4.4" opacity="0.50"/>
<polyline points="203.13,122.8 198.56,127.92 193.25,133.04 187.21,138.16 180.42,143.28 172.9,148.4 164.64,153.52 155.63,158.64 145.89,163.76 135.41,168.88 124.19,174" fill="none" stroke="#e3a92c" stroke-width="1.1" stroke-dasharray="1.6 1.6" stroke-dashoffset="3.4" opacity="0.50"/>
<polyline points="203.13,122.8 198.56,127.92 193.25,133.04 187.21,138.16 180.42,143.28 172.9,148.4 164.64,153.52 155.63,158.64 145.89,163.76 135.41,168.88 124.19,174" fill="none" stroke="#f6d826" stroke-width="1" stroke-dasharray="1.2 4.5" stroke-dashoffset="4.4" opacity="0.50"/>
<polyline points="208.43,122.8 203.71,127.92 198.22,133.04 191.98,138.16 184.96,143.28 177.19,148.4 168.65,153.52 159.35,158.64 149.28,163.76 138.45,168.88 126.86,174" fill="none" stroke="#e3a92c" stroke-width="1.1" stroke-dasharray="1.6 1.6" stroke-dashoffset="3.0" opacity="0.50"/>
<polyline points="208.43,122.8 203.71,127.92 198.22,133.04 191.98,138.16 184.96,143.28 177.19,148.4 168.65,153.52 159.35,158.64 149.28,163.76 138.45,168.88 126.86,174" fill="none" stroke="#f6d826" stroke-width="1" stroke-dasharray="1.5 6 1 3" stroke-dashoffset="3.0" opacity="0.50"/>
<polyline points="213.72,122.8 208.85,127.92 203.19,133.04 196.74,138.16 189.51,143.28 181.48,148.4 172.67,153.52 163.06,158.64 152.67,163.76 141.49,168.88 129.52,174" fill="none" stroke="#e3a92c" stroke-width="1.1" stroke-dasharray="1.6 1.6" stroke-dashoffset="1.9" opacity="0.50"/>
<polyline points="213.72,122.8 208.85,127.92 203.19,133.04 196.74,138.16 189.51,143.28 181.48,148.4 172.67,153.52 163.06,158.64 152.67,163.76 141.49,168.88 129.52,174" fill="none" stroke="#f6d826" stroke-width="1" stroke-dasharray="1 3.5 1.6 5" stroke-dashoffset="1.7" opacity="0.50"/>
<polyline points="219.02,122.8 214,127.92 208.16,133.04 201.51,138.16 194.05,143.28 185.77,148.4 176.68,153.52 166.78,158.64 156.06,163.76 144.53,168.88 132.19,174" fill="none" stroke="#e3a92c" stroke-width="1.1" stroke-dasharray="1.4 1.4 2.4 1.8" stroke-dashoffset="2.5" opacity="0.50"/>
<polyline points="219.02,122.8 214,127.92 208.16,133.04 201.51,138.16 194.05,143.28 185.77,148.4 176.68,153.52 166.78,158.64 156.06,163.76 144.53,168.88 132.19,174" fill="none" stroke="#f6d826" stroke-width="1" stroke-dasharray="1.2 4.5" stroke-dashoffset="0.5" opacity="0.50"/>
<polyline points="224.32,122.8 219.14,127.92 213.13,133.04 206.28,138.16 198.59,143.28 190.06,148.4 180.7,153.52 170.49,158.64 159.45,163.76 147.57,168.88 134.86,174" fill="none" stroke="#e3a92c" stroke-width="1.1" stroke-dasharray="2.0 1.8" stroke-dashoffset="1.0" opacity="0.50"/>
<polyline points="224.32,122.8 219.14,127.92 213.13,133.04 206.28,138.16 198.59,143.28 190.06,148.4 180.7,153.52 170.49,158.64 159.45,163.76 147.57,168.88 134.86,174" fill="none" stroke="#f6d826" stroke-width="1" stroke-dasharray="1 3.5 1.6 5" stroke-dashoffset="4.2" opacity="0.50"/>
<polyline points="229.62,122.8 224.29,127.92 218.1,133.04 211.04,138.16 203.13,143.28 194.35,148.4 184.71,153.52 174.21,158.64 162.84,163.76 150.61,168.88 137.52,174" fill="none" stroke="#e3a92c" stroke-width="1.1" stroke-dasharray="1.6 1.6" stroke-dashoffset="1.9" opacity="0.50"/>
<polyline points="229.62,122.8 224.29,127.92 218.1,133.04 211.04,138.16 203.13,143.28 194.35,148.4 184.71,153.52 174.21,158.64 162.84,163.76 150.61,168.88 137.52,174" fill="none" stroke="#f6d826" stroke-width="1" stroke-dasharray="1.5 6 1 3" stroke-dashoffset="1.6" opacity="0.50"/>
<polyline points="234.91,122.8 229.43,127.92 223.07,133.04 215.81,138.16 207.67,143.28 198.64,148.4 188.72,153.52 177.92,158.64 166.23,163.76 153.65,168.88 140.19,174" fill="none" stroke="#e3a92c" stroke-width="1.1" stroke-dasharray="1.4 1.4 2.4 1.8" stroke-dashoffset="0.9" opacity="0.50"/>
<polyline points="234.91,122.8 229.43,127.92 223.07,133.04 215.81,138.16 207.67,143.28 198.64,148.4 188.72,153.52 177.92,158.64 166.23,163.76 153.65,168.88 140.19,174" fill="none" stroke="#f6d826" stroke-width="1" stroke-dasharray="1.5 6 1 3" stroke-dashoffset="1.7" opacity="0.50"/>
<polyline points="240.21,122.8 234.58,127.92 228.03,133.04 220.58,138.16 212.21,143.28 202.93,148.4 192.74,153.52 181.64,158.64 169.62,163.76 156.69,168.88 142.86,174" fill="none" stroke="#e3a92c" stroke-width="1.1" stroke-dasharray="2.0 1.8" stroke-dashoffset="1.9" opacity="0.50"/>
<polyline points="240.21,122.8 234.58,127.92 228.03,133.04 220.58,138.16 212.21,143.28 202.93,148.4 192.74,153.52 181.64,158.64 169.62,163.76 156.69,168.88 142.86,174" fill="none" stroke="#f6d826" stroke-width="1" stroke-dasharray="1.2 4.5" stroke-dashoffset="6.0" opacity="0.50"/>
<polyline points="245.51,122.8 239.72,127.92 233,133.04 225.34,138.16 216.75,143.28 207.22,148.4 196.75,153.52 185.35,158.64 173.01,163.76 159.74,168.88 145.52,174" fill="none" stroke="#e3a92c" stroke-width="1.1" stroke-dasharray="2.0 1.8" stroke-dashoffset="3.9" opacity="0.50"/>
<polyline points="245.51,122.8 239.72,127.92 233,133.04 225.34,138.16 216.75,143.28 207.22,148.4 196.75,153.52 185.35,158.64 173.01,163.76 159.74,168.88 145.52,174" fill="none" stroke="#f6d826" stroke-width="1" stroke-dasharray="1.5 6 1 3" stroke-dashoffset="0.1" opacity="0.50"/>
<polyline points="250.81,122.8 244.87,127.92 237.97,133.04 230.11,138.16 221.29,143.28 211.51,148.4 200.77,153.52 189.06,158.64 176.4,163.76 162.78,168.88 148.19,174" fill="none" stroke="#e3a92c" stroke-width="1.1" stroke-dasharray="1.6 1.6" stroke-dashoffset="3.3" opacity="0.50"/>
<polyline points="250.81,122.8 244.87,127.92 237.97,133.04 230.11,138.16 221.29,143.28 211.51,148.4 200.77,153.52 189.06,158.64 176.4,163.76 162.78,168.88 148.19,174" fill="none" stroke="#f6d826" stroke-width="1" stroke-dasharray="1.5 6 1 3" stroke-dashoffset="6.0" opacity="0.50"/>
<polyline points="256.1,122.8 250.01,127.92 242.94,133.04 234.88,138.16 225.83,143.28 215.8,148.4 204.78,153.52 192.78,158.64 179.79,163.76 165.82,168.88 150.86,174" fill="none" stroke="#e3a92c" stroke-width="1.1" stroke-dasharray="1.6 1.6" stroke-dashoffset="3.7" opacity="0.50"/>
<polyline points="256.1,122.8 250.01,127.92 242.94,133.04 234.88,138.16 225.83,143.28 215.8,148.4 204.78,153.52 192.78,158.64 179.79,163.76 165.82,168.88 150.86,174" fill="none" stroke="#f6d826" stroke-width="1" stroke-dasharray="1.2 4.5" stroke-dashoffset="0.4" opacity="0.50"/>
<polyline points="261.4,122.8 255.16,127.92 247.91,133.04 239.65,138.16 230.37,143.28 220.09,148.4 208.8,153.52 196.49,158.64 183.18,163.76 168.86,168.88 153.52,174" fill="none" stroke="#e3a92c" stroke-width="1.1" stroke-dasharray="1.6 1.6" stroke-dashoffset="3.0" opacity="0.50"/>
<polyline points="261.4,122.8 255.16,127.92 247.91,133.04 239.65,138.16 230.37,143.28 220.09,148.4 208.8,153.52 196.49,158.64 183.18,163.76 168.86,168.88 153.52,174" fill="none" stroke="#f6d826" stroke-width="1" stroke-dasharray="1.5 6 1 3" stroke-dashoffset="5.7" opacity="0.50"/>
<polyline points="266.7,122.8 260.31,127.92 252.88,133.04 244.41,138.16 234.91,143.28 224.38,148.4 212.81,153.52 200.21,158.64 186.57,163.76 171.9,168.88 156.19,174" fill="none" stroke="#e3a92c" stroke-width="1.1" stroke-dasharray="1.4 1.4 2.4 1.8" stroke-dashoffset="3.3" opacity="0.50"/>
<polyline points="266.7,122.8 260.31,127.92 252.88,133.04 244.41,138.16 234.91,143.28 224.38,148.4 212.81,153.52 200.21,158.64 186.57,163.76 171.9,168.88 156.19,174" fill="none" stroke="#f6d826" stroke-width="1" stroke-dasharray="1 3.5 1.6 5" stroke-dashoffset="1.7" opacity="0.50"/>
<polyline points="272,122.8 265.45,127.92 257.84,133.04 249.18,138.16 239.45,143.28 228.67,148.4 216.83,153.52 203.92,158.64 189.96,163.76 174.94,168.88 158.86,174" fill="none" stroke="#e3a92c" stroke-width="1.1" stroke-dasharray="1.4 1.4 2.4 1.8" stroke-dashoffset="1.5" opacity="0.50"/>
<polyline points="272,122.8 265.45,127.92 257.84,133.04 249.18,138.16 239.45,143.28 228.67,148.4 216.83,153.52 203.92,158.64 189.96,163.76 174.94,168.88 158.86,174" fill="none" stroke="#f6d826" stroke-width="1" stroke-dasharray="1.5 6 1 3" stroke-dashoffset="5.4" opacity="0.50"/>
<polyline points="277.29,122.8 270.6,127.92 262.81,133.04 253.95,138.16 244,143.28 232.96,148.4 220.84,153.52 207.64,158.64 193.35,163.76 177.98,168.88 161.52,174" fill="none" stroke="#e3a92c" stroke-width="1.1" stroke-dasharray="2.0 1.8" stroke-dashoffset="0.1" opacity="0.50"/>
<polyline points="277.29,122.8 270.6,127.92 262.81,133.04 253.95,138.16 244,143.28 232.96,148.4 220.84,153.52 207.64,158.64 193.35,163.76 177.98,168.88 161.52,174" fill="none" stroke="#f6d826" stroke-width="1" stroke-dasharray="1.2 4.5" stroke-dashoffset="5.7" opacity="0.50"/>
<polyline points="282.59,122.8 275.74,127.92 267.78,133.04 258.71,138.16 248.54,143.28 237.25,148.4 224.86,153.52 211.35,158.64 196.74,163.76 181.02,168.88 164.19,174" fill="none" stroke="#e3a92c" stroke-width="1.1" stroke-dasharray="2.0 1.8" stroke-dashoffset="1.2" opacity="0.50"/>
<polyline points="282.59,122.8 275.74,127.92 267.78,133.04 258.71,138.16 248.54,143.28 237.25,148.4 224.86,153.52 211.35,158.64 196.74,163.76 181.02,168.88 164.19,174" fill="none" stroke="#f6d826" stroke-width="1" stroke-dasharray="1.2 4.5" stroke-dashoffset="2.5" opacity="0.50"/>
<polyline points="287.89,122.8 280.89,127.92 272.75,133.04 263.48,138.16 253.08,143.28 241.54,148.4 228.87,153.52 215.07,158.64 200.13,163.76 184.06,168.88 166.85,174" fill="none" stroke="#e3a92c" stroke-width="1.1" stroke-dasharray="2.0 1.8" stroke-dashoffset="0.5" opacity="0.50"/>
<polyline points="287.89,122.8 280.89,127.92 272.75,133.04 263.48,138.16 253.08,143.28 241.54,148.4 228.87,153.52 215.07,158.64 200.13,163.76 184.06,168.88 166.85,174" fill="none" stroke="#f6d826" stroke-width="1" stroke-dasharray="1.5 6 1 3" stroke-dashoffset="0.0" opacity="0.50"/>
<polyline points="293.19,122.8 286.03,127.92 277.72,133.04 268.25,138.16 257.62,143.28 245.83,148.4 232.88,153.52 218.78,158.64 203.52,163.76 187.1,168.88 169.52,174" fill="none" stroke="#e3a92c" stroke-width="1.1" stroke-dasharray="2.0 1.8" stroke-dashoffset="0.5" opacity="0.50"/>
<polyline points="293.19,122.8 286.03,127.92 277.72,133.04 268.25,138.16 257.62,143.28 245.83,148.4 232.88,153.52 218.78,158.64 203.52,163.76 187.1,168.88 169.52,174" fill="none" stroke="#f6d826" stroke-width="1" stroke-dasharray="1.2 4.5" stroke-dashoffset="4.3" opacity="0.50"/>
<polyline points="298.48,122.8 291.18,127.92 282.69,133.04 273.01,138.16 262.16,143.28 250.12,148.4 236.9,153.52 222.5,158.64 206.91,163.76 190.14,168.88 172.19,174" fill="none" stroke="#e3a92c" stroke-width="1.1" stroke-dasharray="2.0 1.8" stroke-dashoffset="1.5" opacity="0.50"/>
<polyline points="298.48,122.8 291.18,127.92 282.69,133.04 273.01,138.16 262.16,143.28 250.12,148.4 236.9,153.52 222.5,158.64 206.91,163.76 190.14,168.88 172.19,174" fill="none" stroke="#f6d826" stroke-width="1" stroke-dasharray="1.5 6 1 3" stroke-dashoffset="2.3" opacity="0.50"/>
<polyline points="303.78,122.8 296.32,127.92 287.66,133.04 277.78,138.16 266.7,143.28 254.41,148.4 240.91,153.52 226.21,158.64 210.3,163.76 193.18,168.88 174.85,174" fill="none" stroke="#e3a92c" stroke-width="1.1" stroke-dasharray="2.0 1.8" stroke-dashoffset="3.7" opacity="0.50"/>
<polyline points="303.78,122.8 296.32,127.92 287.66,133.04 277.78,138.16 266.7,143.28 254.41,148.4 240.91,153.52 226.21,158.64 210.3,163.76 193.18,168.88 174.85,174" fill="none" stroke="#f6d826" stroke-width="1" stroke-dasharray="1.5 6 1 3" stroke-dashoffset="5.1" opacity="0.50"/>
<polyline points="309.08,122.8 301.47,127.92 292.62,133.04 282.55,138.16 271.24,143.28 258.7,148.4 244.93,153.52 229.92,158.64 213.69,163.76 196.22,168.88 177.52,174" fill="none" stroke="#e3a92c" stroke-width="1.1" stroke-dasharray="1.6 1.6" stroke-dashoffset="0.2" opacity="0.50"/>
<polyline points="309.08,122.8 301.47,127.92 292.62,133.04 282.55,138.16 271.24,143.28 258.7,148.4 244.93,153.52 229.92,158.64 213.69,163.76 196.22,168.88 177.52,174" fill="none" stroke="#f6d826" stroke-width="1" stroke-dasharray="1 3.5 1.6 5" stroke-dashoffset="1.7" opacity="0.50"/>
<polyline points="314.38,122.8 306.61,127.92 297.59,133.04 287.31,138.16 275.78,143.28 262.99,148.4 248.94,153.52 233.64,158.64 217.08,163.76 199.26,168.88 180.19,174" fill="none" stroke="#e3a92c" stroke-width="1.1" stroke-dasharray="1.6 1.6" stroke-dashoffset="3.9" opacity="0.50"/>
<polyline points="314.38,122.8 306.61,127.92 297.59,133.04 287.31,138.16 275.78,143.28 262.99,148.4 248.94,153.52 233.64,158.64 217.08,163.76 199.26,168.88 180.19,174" fill="none" stroke="#f6d826" stroke-width="1" stroke-dasharray="1.5 6 1 3" stroke-dashoffset="3.1" opacity="0.50"/>
<polyline points="319.68,122.8 311.76,127.92 302.56,133.04 292.08,138.16 280.32,143.28 267.28,148.4 252.96,153.52 237.35,158.64 220.47,163.76 202.3,168.88 182.85,174" fill="none" stroke="#e3a92c" stroke-width="1.1" stroke-dasharray="2.0 1.8" stroke-dashoffset="3.1" opacity="0.50"/>
<polyline points="319.68,122.8 311.76,127.92 302.56,133.04 292.08,138.16 280.32,143.28 267.28,148.4 252.96,153.52 237.35,158.64 220.47,163.76 202.3,168.88 182.85,174" fill="none" stroke="#f6d826" stroke-width="1" stroke-dasharray="1.5 6 1 3" stroke-dashoffset="5.3" opacity="0.50"/>
<polyline points="324.97,122.8 316.9,127.92 307.53,133.04 296.85,138.16 284.86,143.28 271.57,148.4 256.97,153.52 241.07,158.64 223.86,163.76 205.34,168.88 185.52,174" fill="none" stroke="#e3a92c" stroke-width="1.1" stroke-dasharray="1.4 1.4 2.4 1.8" stroke-dashoffset="2.2" opacity="0.50"/>
<polyline points="324.97,122.8 316.9,127.92 307.53,133.04 296.85,138.16 284.86,143.28 271.57,148.4 256.97,153.52 241.07,158.64 223.86,163.76 205.34,168.88 185.52,174" fill="none" stroke="#f6d826" stroke-width="1" stroke-dasharray="1 3.5 1.6 5" stroke-dashoffset="0.5" opacity="0.50"/>
<polyline points="330.27,122.8 322.05,127.92 312.5,133.04 301.62,138.16 289.4,143.28 275.86,148.4 260.99,153.52 244.78,158.64 227.25,163.76 208.38,168.88 188.19,174" fill="none" stroke="#e3a92c" stroke-width="1.1" stroke-dasharray="2.0 1.8" stroke-dashoffset="2.5" opacity="0.50"/>
<polyline points="330.27,122.8 322.05,127.92 312.5,133.04 301.62,138.16 289.4,143.28 275.86,148.4 260.99,153.52 244.78,158.64 227.25,163.76 208.38,168.88 188.19,174" fill="none" stroke="#f6d826" stroke-width="1" stroke-dasharray="1.2 4.5" stroke-dashoffset="3.9" opacity="0.50"/>
<polyline points="335.57,122.8 327.19,127.92 317.47,133.04 306.38,138.16 293.94,143.28 280.15,148.4 265,153.52 248.5,158.64 230.64,163.76 211.42,168.88 190.85,174" fill="none" stroke="#e3a92c" stroke-width="1.1" stroke-dasharray="2.0 1.8" stroke-dashoffset="0.2" opacity="0.50"/>
<polyline points="335.57,122.8 327.19,127.92 317.47,133.04 306.38,138.16 293.94,143.28 280.15,148.4 265,153.52 248.5,158.64 230.64,163.76 211.42,168.88 190.85,174" fill="none" stroke="#f6d826" stroke-width="1" stroke-dasharray="1 3.5 1.6 5" stroke-dashoffset="0.8" opacity="0.50"/>
<polyline points="340.87,122.8 332.34,127.92 322.43,133.04 311.15,138.16 298.48,143.28 284.44,148.4 269.02,153.52 252.21,158.64 234.03,163.76 214.46,168.88 193.52,174" fill="none" stroke="#e3a92c" stroke-width="1.1" stroke-dasharray="2.0 1.8" stroke-dashoffset="1.4" opacity="0.50"/>
<polyline points="340.87,122.8 332.34,127.92 322.43,133.04 311.15,138.16 298.48,143.28 284.44,148.4 269.02,153.52 252.21,158.64 234.03,163.76 214.46,168.88 193.52,174" fill="none" stroke="#f6d826" stroke-width="1" stroke-dasharray="1.5 6 1 3" stroke-dashoffset="1.5" opacity="0.50"/>
<polyline points="346.16,122.8 337.49,127.92 327.4,133.04 315.92,138.16 303.03,143.28 288.73,148.4 273.03,153.52 255.93,158.64 237.42,163.76 217.5,168.88 196.18,174" fill="none" stroke="#e3a92c" stroke-width="1.1" stroke-dasharray="2.0 1.8" stroke-dashoffset="2.6" opacity="0.50"/>
<polyline points="346.16,122.8 337.49,127.92 327.4,133.04 315.92,138.16 303.03,143.28 288.73,148.4 273.03,153.52 255.93,158.64 237.42,163.76 217.5,168.88 196.18,174" fill="none" stroke="#f6d826" stroke-width="1" stroke-dasharray="1.5 6 1 3" stroke-dashoffset="2.9" opacity="0.50"/>
<polyline points="351.46,122.8 342.63,127.92 332.37,133.04 320.68,138.16 307.57,143.28 293.02,148.4 277.04,153.52 259.64,158.64 240.81,163.76 220.54,168.88 198.85,174" fill="none" stroke="#e3a92c" stroke-width="1.1" stroke-dasharray="1.6 1.6" stroke-dashoffset="0.7" opacity="0.50"/>
<polyline points="351.46,122.8 342.63,127.92 332.37,133.04 320.68,138.16 307.57,143.28 293.02,148.4 277.04,153.52 259.64,158.64 240.81,163.76 220.54,168.88 198.85,174" fill="none" stroke="#f6d826" stroke-width="1" stroke-dasharray="1.2 4.5" stroke-dashoffset="0.5" opacity="0.50"/>
<polyline points="356.76,122.8 347.78,127.92 337.34,133.04 325.45,138.16 312.11,143.28 297.31,148.4 281.06,153.52 263.35,158.64 244.2,163.76 223.58,168.88 201.52,174" fill="none" stroke="#e3a92c" stroke-width="1.1" stroke-dasharray="1.4 1.4 2.4 1.8" stroke-dashoffset="0.9" opacity="0.50"/>
<polyline points="356.76,122.8 347.78,127.92 337.34,133.04 325.45,138.16 312.11,143.28 297.31,148.4 281.06,153.52 263.35,158.64 244.2,163.76 223.58,168.88 201.52,174" fill="none" stroke="#f6d826" stroke-width="1" stroke-dasharray="1.5 6 1 3" stroke-dashoffset="6.0" opacity="0.50"/>
<polyline points="362.06,122.8 352.92,127.92 342.31,133.04 330.22,138.16 316.65,143.28 301.6,148.4 285.07,153.52 267.07,158.64 247.59,163.76 226.62,168.88 204.18,174" fill="none" stroke="#e3a92c" stroke-width="1.1" stroke-dasharray="2.0 1.8" stroke-dashoffset="0.6" opacity="0.50"/>
<polyline points="362.06,122.8 352.92,127.92 342.31,133.04 330.22,138.16 316.65,143.28 301.6,148.4 285.07,153.52 267.07,158.64 247.59,163.76 226.62,168.88 204.18,174" fill="none" stroke="#f6d826" stroke-width="1" stroke-dasharray="1.2 4.5" stroke-dashoffset="1.5" opacity="0.50"/>
<polyline points="367.35,122.8 358.07,127.92 347.28,133.04 334.98,138.16 321.19,143.28 305.89,148.4 289.09,153.52 270.78,158.64 250.98,163.76 229.66,168.88 206.85,174" fill="none" stroke="#e3a92c" stroke-width="1.1" stroke-dasharray="2.0 1.8" stroke-dashoffset="2.2" opacity="0.50"/>
<polyline points="367.35,122.8 358.07,127.92 347.28,133.04 334.98,138.16 321.19,143.28 305.89,148.4 289.09,153.52 270.78,158.64 250.98,163.76 229.66,168.88 206.85,174" fill="none" stroke="#f6d826" stroke-width="1" stroke-dasharray="1.5 6 1 3" stroke-dashoffset="1.4" opacity="0.50"/>
<linearGradient id="fade" x1="0" y1="0" x2="1" y2="0"><stop offset="0" stop-color="#440154" stop-opacity="0"/><stop offset="0.4" stop-color="#440154" stop-opacity="0.08"/><stop offset="0.52" stop-color="#440154" stop-opacity="0.3"/><stop offset="0.62" stop-color="#440154" stop-opacity="0.62"/><stop offset="0.7" stop-color="#440154" stop-opacity="0.9"/><stop offset="0.78" stop-color="#440154" stop-opacity="1"/><stop offset="1" stop-color="#440154" stop-opacity="1"/></linearGradient>
<rect x="44.2" y="122.8" width="132.9" height="51.2" fill="url(#fade)"/>
<rect x="79.31" y="122.8" width="6.64" height="51.2" fill="#440154" opacity="0.72"/>
<path d="M124.25 152.3h1M140.81 153.3h1M123.36 155.3h1M131.34 135.3h1M123.47 172.3h1M168.54 129.3h1M146.29 146.3h1M110.13 137.3h1M158.41 126.3h1M169.5 169.3h1M106.66 132.3h1M149.81 149.3h1M169.49 131.3h1M148.85 125.3h1M104.39 145.3h1M142.33 157.3h1M146.74 160.3h1M130.9 153.3h1M105.23 174.3h1M115.08 129.3h1M147.56 160.3h1M172.52 169.3h1M116.24 123.3h1M142.95 148.3h1M115.81 172.3h1M114.57 135.3h1M163.5 134.3h1M108.85 163.3h1M169.03 173.3h1M158.52 152.3h1M151.99 134.3h1M125.75 136.3h1M141.19 133.3h1M121.41 170.3h1M115.8 143.3h1M132.54 161.3h1M175.76 157.3h1M165.41 167.3h1M106.13 169.3h1M168.7 173.3h1M149.59 127.3h1M116.71 125.3h1M111.98 133.3h1M114.54 124.3h1M155.01 170.3h1M166.64 171.3h1M173.04 129.3h1M119.01 125.3h1M125.15 129.3h1M161.93 164.3h1M127.47 150.3h1M129.78 141.3h1M129.48 168.3h1M110.83 141.3h1M104.29 135.3h1M158.91 126.3h1M173.98 155.3h1M172.6 137.3h1M139.94 167.3h1M111.82 143.3h1M106.04 136.3h1M135.41 157.3h1M131.85 163.3h1M129.6 143.3h1M158.29 133.3h1M154.43 139.3h1M154.98 155.3h1M149.2 169.3h1M129.62 138.3h1M116.2 165.3h1M157.66 150.3h1M112.17 129.3h1M168.73 152.3h1M133.29 173.3h1M120.42 163.3h1M133.7 170.3h1M166.38 167.3h1M137.29 143.3h1M155.28 149.3h1M122.43 150.3h1M105.63 149.3h1M128.12 123.3h1M139.91 129.3h1M173.55 135.3h1M111.57 159.3h1M119.14 153.3h1M150.8 146.3h1M134.11 152.3h1M154.09 148.3h1M130.11 126.3h1M132.04 126.3h1M153.4 160.3h1M120.56 170.3h1M174.25 152.3h1M113.63 172.3h1M162.4 135.3h1M163.89 149.3h1M161.05 153.3h1M127.55 154.3h1M161.36 131.3h1M129.36 160.3h1M122.43 129.3h1M129.46 132.3h1M133.54 157.3h1M165.35 135.3h1M136.17 130.3h1M138.7 158.3h1M122.17 133.3h1M167.1 123.3h1M127.58 167.3h1M152.7 152.3h1M134.73 166.3h1M111.05 153.3h1M169.63 125.3h1M134.5 131.3h1M167.02 146.3h1M119.56 150.3h1M125.55 154.3h1M161.93 144.3h1M143.96 126.3h1M112.11 125.3h1M148.8 162.3h1M153.84 136.3h1M114.31 142.3h1M123.01 142.3h1M106.7 124.3h1M150.98 126.3h1M138.86 149.3h1M110.25 153.3h1M115.26 123.3h1M104.88 165.3h1M174.65 128.3h1M113.05 153.3h1M156.64 138.3h1M158.45 126.3h1M157.4 128.3h1M144.84 154.3h1M108.04 125.3h1M149.27 147.3h1M165.07 161.3h1M138.45 133.3h1M116.16 174.3h1M132.32 173.3h1M124.03 171.3h1M124.85 123.3h1M163.69 173.3h1M176.58 132.3h1M166.25 174.3h1M160.85 154.3h1M110.4 158.3h1M172.12 137.3h1M108.4 148.3h1M104.88 147.3h1M110.59 174.3h1M108.77 148.3h1M169.59 156.3h1M141.1 135.3h1M125.33 159.3h1M122.16 154.3h1M111.94 163.3h1M119.77 172.3h1M163.89 131.3h1M131.77 124.3h1M144.83 168.3h1M110.76 143.3h1M150.9 165.3h1M117.52 133.3h1M121.34 169.3h1M165.23 126.3h1M176.04 126.3h1M136.37 164.3h1" stroke="#e3a92c" stroke-width="1" fill="none" opacity="0.6"/>
<path d="M116.24 173.3h1M120.32 145.3h1M115.95 140.3h1M137.23 156.3h1M143.25 148.3h1M141.82 142.3h1M151.05 164.3h1M111.88 137.3h1M172.93 139.3h1M123.59 158.3h1M114.29 164.3h1M110.58 171.3h1M139.98 154.3h1M164.37 154.3h1M137.8 157.3h1M154.45 161.3h1M167.48 151.3h1M113.39 152.3h1M122.25 143.3h1M105.81 139.3h1M160.63 167.3h1M120.87 134.3h1M133.37 168.3h1M143.81 133.3h1M134.71 149.3h1M114.86 165.3h1M125.66 158.3h1M166.21 140.3h1M154.32 150.3h1M139.31 174.3h1M124.7 138.3h1M105.04 127.3h1M138.25 132.3h1M150.64 163.3h1M105.7 125.3h1M129.34 136.3h1M156.19 131.3h1M153.31 167.3h1M136.75 123.3h1M105.27 164.3h1M131 159.3h1M125.52 126.3h1M128.41 161.3h1M105.33 132.3h1M122.14 147.3h1M123.74 133.3h1M119.26 139.3h1M110.16 143.3h1M129.34 156.3h1M167.34 154.3h1M150.84 130.3h1M141.62 170.3h1M153.55 142.3h1" stroke="#f2cf27" stroke-width="1" fill="none" opacity="0.6"/>
<path d="M140.06 174.3h1M122.59 143.3h1M169.48 133.3h1M175.94 160.3h1M114.75 165.3h1M108.29 158.3h1M143.45 147.3h1M113.19 170.3h1M170.36 163.3h1M163.8 157.3h1M109.01 171.3h1M166 174.3h1M159.59 143.3h1M148.09 153.3h1M149.27 124.3h1M106.48 156.3h1M145.47 168.3h1M173.01 141.3h1M112.21 163.3h1M133.45 148.3h1M158.53 150.3h1M126.18 168.3h1M132.21 132.3h1M158.81 149.3h1M152.89 164.3h1M152.39 134.3h1M145.17 137.3h1M150.66 165.3h1M115.34 142.3h1M108.36 159.3h1M166.47 134.3h1M110.79 158.3h1M119.74 128.3h1M123.48 137.3h1M172.11 144.3h1M160.95 158.3h1M122.54 126.3h1M140.92 140.3h1M133.28 158.3h1M171.37 161.3h1M108.58 155.3h1M150.39 163.3h1M111.59 134.3h1M134.93 129.3h1M152 146.3h1M142.27 130.3h1M134.9 167.3h1M158.67 167.3h1M172.17 139.3h1M151.65 174.3h1M148.07 137.3h1M164.94 174.3h1M132.03 173.3h1M118.22 134.3h1M133.54 156.3h1M111.28 151.3h1M173.25 127.3h1M108.52 158.3h1" stroke="#9c7c4c" stroke-width="1" fill="none" opacity="0.6"/>
<path d="M148.86 165.3h1M157.38 133.3h1M162.33 146.3h1M107.02 139.3h1M127.36 123.3h1" stroke="#3a8a8a" stroke-width="1" fill="none" opacity="0.6"/>
<path d="M150.59 146.3h1M131.28 147.3h1M133.5 139.3h1M154.19 156.3h1M118 169.3h1M172.19 169.3h1M173.72 137.3h1M169.16 161.3h1M150.48 173.3h1M147.49 165.3h1M126.7 150.3h1M111.06 136.3h1M106.96 135.3h1" stroke="#6a4a78" stroke-width="1" fill="none" opacity="0.6"/>
<path d="M59.7 159.3h1M45.4 149.3h1M88.95 136.3h1M64.49 126.3h1M78.66 146.3h1M95.12 128.3h1M96.57 124.3h1M72.6 160.3h1M57.63 132.3h1M94.99 152.3h1M50.93 127.3h1M100.81 135.3h1M57.61 161.3h1M76.45 152.3h1M63.18 138.3h1M58.29 138.3h1M68.91 164.3h1M83.03 128.3h1M84.24 146.3h1M65.94 148.3h1M62.9 135.3h1M50.74 162.3h1M55.44 137.3h1M52.98 148.3h1M45.62 161.3h1M47.31 126.3h1M75.69 152.3h1M103.3 151.3h1M44.37 140.3h1M69.41 130.3h1M89.73 147.3h1M93.49 174.3h1M47.16 153.3h1M76.69 151.3h1M66.05 153.3h1M68.49 147.3h1M47.95 126.3h1M89.04 161.3h1M60.54 162.3h1M88.99 167.3h1M99.01 154.3h1M48.94 135.3h1M53.8 149.3h1M46.23 158.3h1M56.7 149.3h1M86.79 151.3h1M84.65 170.3h1M90.63 171.3h1M94.65 141.3h1M56.15 138.3h1M78.9 143.3h1M59.3 138.3h1M58.08 174.3h1M72.03 125.3h1M58.17 126.3h1M102.58 160.3h1M84.09 123.3h1M79.97 162.3h1M46.45 144.3h1M56.44 139.3h1M55.31 142.3h1M46.09 154.3h1M49.67 133.3h1M69.27 126.3h1M78.19 145.3h1M66.03 135.3h1M68.5 123.3h1M68.57 146.3h1M53.95 123.3h1M88.43 133.3h1M61.2 156.3h1M48.23 147.3h1M92.49 174.3h1M95.6 162.3h1M94.98 153.3h1M53.59 145.3h1M51.26 161.3h1M95.14 172.3h1M69.4 160.3h1M67.55 146.3h1M70.5 124.3h1M103.37 152.3h1M94.39 174.3h1M50.62 131.3h1M66.12 174.3h1M74.81 125.3h1M52.02 169.3h1M87.42 128.3h1" stroke="#e3a92c" stroke-width="1" fill="none"/>
<path d="M59.11 148.3h1M85.12 169.3h1M58.15 125.3h1M62.43 131.3h1M75.9 150.3h1M46.25 144.3h1M63.95 134.3h1M68.85 174.3h1M60.74 123.3h1M79.93 174.3h1M103.47 139.3h1M52.18 152.3h1M60.26 139.3h1M93.33 149.3h1M84.04 132.3h1M60.47 141.3h1M73.16 126.3h1M81.42 133.3h1M74.44 147.3h1M103.97 169.3h1" stroke="#f2cf27" stroke-width="1" fill="none"/>
<path d="M74.4 163.3h1M70.11 142.3h1M69.71 171.3h1M48.59 156.3h1M102.53 138.3h1M90.81 123.3h1M45.51 154.3h1M92.02 170.3h1M57.49 171.3h1M71.18 168.3h1M84.07 147.3h1M100.8 124.3h1M101.43 147.3h1M73.99 123.3h1M88.51 167.3h1M80.64 143.3h1M71.85 173.3h1M53.84 150.3h1M58.33 141.3h1M72.69 137.3h1M99.06 125.3h1M48.71 155.3h1M71.15 139.3h1M88.13 136.3h1M48 129.3h1M53.59 130.3h1M52.75 174.3h1M49.54 162.3h1M82.38 128.3h1M59.02 169.3h1M55.76 158.3h1M84.54 165.3h1M90.01 172.3h1M91.25 124.3h1" stroke="#9c7c4c" stroke-width="1" fill="none"/>
<path d="M98.82 126.3h1M88.16 128.3h1M50.64 168.3h1M57.29 148.3h1M58.01 130.3h1M71.77 146.3h1M68.34 138.3h1M47.05 174.3h1M81.64 123.3h1M91.33 152.3h1M49.59 125.3h1M70 133.3h1M69.57 162.3h1M56.59 146.3h1M61 151.3h1M58.33 129.3h1M79.45 124.3h1M61.9 163.3h1M139.61 143.3h1M92.93 137.3h1M99.91 132.3h1M52.11 144.3h1" stroke="#3a8a8a" stroke-width="1" fill="none"/>
<path d="M48.25 154.3h1M45.29 172.3h1M51.8 125.3h1M50.78 131.3h1" stroke="#6a4a78" stroke-width="1" fill="none"/>
<rect x="77.31" y="122.8" width="1.9" height="51.2" fill="#dcae2e" opacity="0.92"/>
<rect x="85.95" y="122.8" width="1.1" height="51.2" fill="#d39a35" opacity="0.9"/>
</g>
<rect x="182.2" y="122.8" width="132.9" height="51.2" fill="#440154"/>
<clipPath id="c6"><rect x="182.2" y="122.8" width="132.9" height="51.2"/></clipPath>
<g clip-path="url(#c6)">
<linearGradient id="lz" x1="0" y1="0" x2="1" y2="0"><stop offset="0" stop-color="#440154"/><stop offset="0.03" stop-color="#46237a"/><stop offset="0.10" stop-color="#3f3d86"/><stop offset="0.2" stop-color="#3b4c8a"/><stop offset="0.36" stop-color="#404187"/><stop offset="0.41" stop-color="#3b4c8a"/><stop offset="0.45" stop-color="#46287a"/><stop offset="0.5" stop-color="#450a5c"/><stop offset="0.56" stop-color="#440154"/><stop offset="1" stop-color="#440154"/></linearGradient>
<rect x="182.2" y="122.8" width="132.9" height="51.2" fill="url(#lz)"/>
<rect x="196.6" y="122.8" width="1.2" height="51.2" fill="#b98f45" opacity="0.41"/>
<rect x="199.3" y="122.8" width="1.2" height="51.2" fill="#b98f45" opacity="0.36"/>
<rect x="202" y="122.8" width="1.2" height="51.2" fill="#b98f45" opacity="0.53"/>
<rect x="204.7" y="122.8" width="1.2" height="51.2" fill="#b98f45" opacity="0.49"/>
<rect x="207.4" y="122.8" width="1.2" height="51.2" fill="#b98f45" opacity="0.39"/>
<rect x="209" y="122.8" width="1" height="51.2" fill="#d6a136" opacity="0.50"/>
<rect x="210.7" y="122.8" width="1.7" height="51.2" fill="#d6a136" opacity="0.81"/>
<rect x="213.2" y="122.8" width="1" height="51.2" fill="#d6a136" opacity="0.68"/>
<rect x="215.4" y="122.8" width="2.2" height="51.2" fill="#d6a136" opacity="0.85"/>
<rect x="218.6" y="122.8" width="0.8" height="51.2" fill="#d6a136" opacity="0.32"/>
<rect x="220.4" y="122.8" width="0.8" height="51.2" fill="#d6a136" opacity="0.32"/>
<rect x="222" y="122.8" width="1.9" height="51.2" fill="#d6a136" opacity="0.83"/>
<rect x="224.6" y="122.8" width="1.2" height="51.2" fill="#d6a136" opacity="0.81"/>
<rect x="227" y="122.8" width="1.5" height="51.2" fill="#d6a136" opacity="0.83"/>
<rect x="226" y="122.8" width="0.8" height="51.2" fill="#3a0a50"/>
<rect x="228.7" y="122.8" width="0.9" height="51.2" fill="#3a0a50" opacity="0.8"/>
<polyline points="230.4,122.8 231.8,123.8 230.4,124.8 231.8,125.8 230.4,126.8 231.8,127.8 230.4,128.8 231.8,129.8 230.4,130.8 231.8,131.8 230.4,132.8 231.8,133.8 230.4,134.8 231.8,135.8 230.4,136.8 231.8,137.8 230.4,138.8 231.8,139.8 230.4,140.8 231.8,141.8 230.4,142.8 231.8,143.8 230.4,144.8 231.8,145.8 230.4,146.8 231.8,147.8 230.4,148.8 231.8,149.8 230.4,150.8 231.8,151.8 230.4,152.8 231.8,153.8 230.4,154.8 231.8,155.8 230.4,156.8 231.8,157.8 230.4,158.8 231.8,159.8 230.4,160.8 231.8,161.8 230.4,162.8 231.8,163.8 230.4,164.8 231.8,165.8 230.4,166.8 231.8,167.8 230.4,168.8 231.8,169.8 230.4,170.8 231.8,171.8 230.4,172.8 231.8,173.8 230.4,174.8" fill="none" stroke="#ecc32a" stroke-width="1.9"/>
<rect x="232.9" y="122.8" width="1.4" height="51.2" fill="#3f8a8a" opacity="0.55"/>
<rect x="234.6" y="122.8" width="1.2" height="51.2" fill="#3b6a90" opacity="0.45"/>
<rect x="194.2" y="134.6" width="42" height="0.8" fill="#3f1466" opacity="0.35"/>
<rect x="194.2" y="144.3" width="42" height="1" fill="#3f1466" opacity="0.70"/>
<rect x="194.2" y="159.5" width="42" height="1" fill="#3f1466" opacity="0.70"/>
<rect x="194.2" y="167" width="42" height="0.8" fill="#3f1466" opacity="0.30"/>
<polyline points="186.47,122.8 187.26,123.8 187.97,124.8 187.98,125.8 187.72,126.8 187.97,127.8 188.62,128.8 188.79,129.8 188.09,130.8 187.25,131.8 187.07,132.8 187.37,133.8 187.31,134.8 186.74,135.8 186.41,136.8 186.95,137.8 187.88,138.8 188.25,139.8 187.98,140.8 187.85,141.8 188.3,142.8 188.73,143.8 188.38,144.8 187.44,145.8 186.87,146.8 187.06,147.8 187.33,148.8 187.05,149.8 186.56,150.8 186.73,151.8 187.62,152.8 188.36,153.8 188.31,154.8 187.93,155.8 188.02,156.8 188.5,157.8 188.52,158.8 187.73,159.8 186.87,160.8 186.74,161.8 187.16,162.8 187.26,163.8 186.86,164.8 186.68,165.8 187.32,166.8 188.26,167.8 188.58,168.8 188.19,169.8 187.9,170.8 188.18,171.8 188.47,172.8 188.01,173.8 187.06,174.8" fill="none" stroke="#e2ad2c" stroke-width="1.5" stroke-dasharray="5 1.2 2.5 0.8" stroke-dashoffset="2.1"/>
<polyline points="191.99,122.8 191.61,123.8 190.76,124.8 190.34,125.8 190.44,126.8 190.28,127.8 189.52,128.8 188.85,129.8 189.06,130.8 189.94,131.8 190.54,132.8 190.53,133.8 190.53,134.8 191.13,135.8 191.87,136.8 191.85,137.8 191,138.8 190.22,139.8 190.1,140.8 190.21,141.8 189.8,142.8 189.06,143.8 188.89,144.8 189.64,145.8 190.57,146.8 190.85,147.8 190.7,148.8 190.91,149.8 191.59,150.8 191.91,151.8 191.31,152.8 190.3,153.8 189.82,154.8 189.95,155.8 189.93,156.8 189.37,157.8 188.93,158.8 189.36,159.8 190.4,160.8 191.07,161.8 191.01,162.8 190.88,163.8 191.27,164.8 191.78,165.8 191.54,166.8 190.54,167.8 189.69,168.8 189.62,169.8 189.86,170.8 189.66,171.8 189.15,172.8 189.2,173.8 190.11,174.8" fill="none" stroke="#efc828" stroke-width="1.7" stroke-dasharray="4 1" stroke-dashoffset="1.4"/>
<polyline points="191.69,122.8 192.47,123.8 193.38,124.8 193.66,125.8 193.57,126.8 193.88,127.8 194.63,128.8 194.93,129.8 194.28,130.8 193.27,131.8 192.8,132.8 192.89,133.8 192.77,134.8 192.13,135.8 191.7,136.8 192.18,137.8 193.24,138.8 193.9,139.8 193.87,140.8 193.83,141.8 194.31,142.8 194.83,143.8 194.53,144.8 193.49,145.8 192.65,146.8 192.56,147.8 192.73,148.8 192.43,149.8 191.9,150.8 192,151.8 192.96,152.8 193.95,153.8 194.2,154.8 193.97,155.8 194.07,156.8 194.55,157.8 194.62,158.8 193.79,159.8 192.7,160.8 192.26,161.8 192.5,162.8 192.59,163.8 192.21,164.8 192.01,165.8 192.67,166.8 193.81,167.8 194.44,168.8 194.26,169.8 194,170.8 194.23,171.8 194.5,172.8 194.04,173.8 192.92,174.8" fill="none" stroke="#e2ad2c" stroke-width="1.6" stroke-dasharray="5 1.2 2.5 0.8" stroke-dashoffset="4.0"/>
<polyline points="197.5,122.8 197.04,123.8 196.2,124.8 195.86,125.8 196.01,126.8 195.87,127.8 195.13,128.8 194.53,129.8 194.82,130.8 195.7,131.8 196.24,132.8 196.15,133.8 196.13,134.8 196.72,135.8 197.4,136.8 197.3,137.8 196.43,138.8 195.71,139.8 195.68,140.8 195.82,141.8 195.42,142.8 194.72,143.8 194.63,144.8 195.42,145.8 196.29,146.8 196.48,147.8 196.28,148.8 196.48,149.8 197.13,150.8 197.39,151.8 196.74,152.8 195.77,153.8 195.38,154.8 195.58,155.8 195.57,156.8 195.03,157.8 194.64,158.8 195.12,159.8 196.14,160.8 196.72,161.8 196.58,162.8 196.42,163.8 196.81,164.8 197.28,165.8 196.99,166.8 195.99,167.8 195.23,168.8 195.25,169.8 195.53,170.8 195.33,171.8 194.84,172.8 194.95,173.8 195.86,174.8" fill="none" stroke="#d9a532" stroke-width="1.2" stroke-dasharray="4 1" stroke-dashoffset="1.6"/>
<path d="M187.72 155.3h1M187.01 141.3h1M191.58 171.3h1M198.22 129.3h1M186.5 151.3h1M188.82 134.3h1M187.18 123.3h1M195.8 144.3h1M194.01 128.3h1M195.68 171.3h1M188.62 146.3h1M187.63 123.3h1M190.37 126.3h1M185.72 131.3h1M189.33 134.3h1M186.3 142.3h1M186.74 170.3h1M192.89 159.3h1M194.36 168.3h1M192.19 140.3h1M191.98 140.3h1M185.76 130.3h1M190.3 137.3h1M191.08 159.3h1M191.63 125.3h1M194.12 158.3h1M190.76 156.3h1M190.15 123.3h1M187.55 150.3h1M185.9 165.3h1M189.66 125.3h1M185.52 150.3h1M192.17 125.3h1M188.21 130.3h1M191.84 132.3h1M189.22 155.3h1M187.02 141.3h1M190.91 170.3h1M190.15 138.3h1M186 154.3h1M192.5 136.3h1M188.7 145.3h1M190.54 151.3h1M187.57 171.3h1M199.25 149.3h1M186.5 153.3h1M190.8 168.3h1M191.19 129.3h1M186.22 154.3h1M192.77 159.3h1M187.1 145.3h1M189.99 154.3h1M187.61 174.3h1M191.99 159.3h1M186.66 144.3h1M186.45 123.3h1M197.19 172.3h1M189.54 150.3h1M190.13 145.3h1M195.62 149.3h1M189.83 128.3h1M187.02 135.3h1M192.09 129.3h1M190.96 173.3h1M185.62 165.3h1M189.76 159.3h1M188.55 135.3h1M185.78 130.3h1M192.02 124.3h1M192.13 145.3h1M193.08 160.3h1M187.09 135.3h1M186.71 125.3h1M188.53 125.3h1M190.16 152.3h1M196.31 161.3h1M197.12 127.3h1M188.39 154.3h1M187.09 133.3h1M187.23 134.3h1M189.58 146.3h1M189.6 130.3h1M190.19 145.3h1M189.51 125.3h1M187.07 128.3h1M194.8 158.3h1M188.27 169.3h1M189.02 155.3h1M189.99 138.3h1M188.25 155.3h1M187.46 155.3h1M186.82 142.3h1M193.72 143.3h1M186.8 171.3h1M189.85 137.3h1M187.41 168.3h1M188.49 124.3h1M190.06 152.3h1M188.43 163.3h1M189.71 141.3h1M190.17 148.3h1M187.42 142.3h1M188.61 170.3h1M189.62 159.3h1M192.66 137.3h1M191.16 128.3h1M189.59 155.3h1M192.04 167.3h1M190.45 172.3h1M194.93 171.3h1M195.31 158.3h1M188.53 157.3h1M186.28 139.3h1M189.46 126.3h1M186.89 163.3h1M191.79 168.3h1M190.78 167.3h1M191.34 168.3h1M188.92 146.3h1M188.5 125.3h1M201.33 156.3h1M199.54 146.3h1M201.03 153.3h1M204.57 169.3h1M203 139.3h1M207.47 172.3h1M201.35 141.3h1M200.65 171.3h1M198.73 169.3h1M204.02 142.3h1M206.1 163.3h1M199.36 169.3h1M208.56 161.3h1M197.95 174.3h1M204.68 124.3h1M204.79 148.3h1M198.05 162.3h1M197.31 143.3h1M201.29 146.3h1M206.31 142.3h1M204.5 130.3h1M203.52 136.3h1M198.29 169.3h1M197.79 164.3h1M199.74 147.3h1" stroke="#e3a92c" stroke-width="1" fill="none"/>
<path d="M187.05 173.3h1M195.43 144.3h1M185.74 131.3h1M188.91 168.3h1M189.91 169.3h1M188.5 134.3h1M193.59 147.3h1M187.68 150.3h1M196.67 152.3h1M196.14 164.3h1M192.19 163.3h1M189.29 125.3h1M195.58 162.3h1M188.52 137.3h1M193.75 142.3h1M186.42 135.3h1M185.95 127.3h1M190.45 162.3h1M188.12 162.3h1M189.74 148.3h1M191.26 123.3h1M187.98 146.3h1M185.9 164.3h1M191.4 167.3h1M191.82 142.3h1M199.36 130.3h1M190.34 149.3h1M195.51 136.3h1M188.12 163.3h1M186.99 168.3h1M190.19 129.3h1M185.87 126.3h1M186.89 148.3h1M195.51 147.3h1M192.35 145.3h1M198.54 151.3h1M185.62 168.3h1M188.77 174.3h1M193.14 168.3h1M188.43 134.3h1M192.78 137.3h1M186.38 150.3h1M195.93 172.3h1M192.8 138.3h1M197.32 149.3h1M191.15 144.3h1M187.35 170.3h1M187.49 131.3h1M186.04 155.3h1M190.07 130.3h1" stroke="#f2cf27" stroke-width="1" fill="none"/>
<path d="M196.61 138.3h1M188.32 169.3h1M187.15 132.3h1M191.35 125.3h1M192.37 151.3h1M190.81 129.3h1M186.06 129.3h1M196.16 124.3h1M194.81 172.3h1M192.97 155.3h1M188.11 152.3h1M190.92 123.3h1M190.39 133.3h1M187.66 170.3h1M194.46 170.3h1M189.1 147.3h1M189.09 150.3h1M185.98 142.3h1M186.9 155.3h1M193.89 164.3h1M186.26 133.3h1M188.35 160.3h1M190.39 148.3h1M189.22 157.3h1M189.82 163.3h1M192.38 161.3h1M187.57 172.3h1M193.85 163.3h1M185.56 125.3h1M188.52 170.3h1M187.42 171.3h1M200.74 131.3h1M199.72 138.3h1M200.27 140.3h1M203.83 156.3h1M208.91 125.3h1M207.47 132.3h1M205.87 155.3h1M201.21 158.3h1M205.06 173.3h1M208.96 132.3h1M199.46 165.3h1M208.15 160.3h1M200.03 159.3h1M197.88 135.3h1M208.85 145.3h1M207.77 157.3h1M199.84 124.3h1M197.57 151.3h1M207.71 141.3h1M205.63 123.3h1M200.25 164.3h1M200.86 170.3h1M199.09 149.3h1M206.31 161.3h1M197.67 162.3h1M198.88 124.3h1M199.53 156.3h1M204.89 161.3h1M199.76 162.3h1M206.76 153.3h1M198.58 123.3h1M198.81 163.3h1M201.81 128.3h1M200.11 161.3h1M205.85 134.3h1M203.34 145.3h1M202.3 154.3h1M204.63 145.3h1" stroke="#9c7c4c" stroke-width="1" fill="none"/>
<path d="M207.12 133.3h1M201.72 162.3h1M200.98 152.3h1M208.25 143.3h1M207.52 161.3h1M204.6 163.3h1M201.01 168.3h1M203.04 138.3h1M201.86 148.3h1M205.65 127.3h1M200.83 134.3h1M200.08 152.3h1M201.13 166.3h1M203.71 146.3h1M198.2 174.3h1M202.52 143.3h1M205.09 145.3h1" stroke="#3a8a8a" stroke-width="1" fill="none"/>
<path d="M186.92 131.3h1M192.52 156.3h1M186.37 128.3h1M189.03 161.3h1M192.13 156.3h1M190.16 138.3h1M187.74 143.3h1M192.1 156.3h1M186.33 138.3h1M189.78 126.3h1M187.65 144.3h1M188.96 159.3h1M192.1 140.3h1M192.06 123.3h1M195.65 161.3h1M189.8 156.3h1M190.58 151.3h1M191.66 150.3h1M188.39 132.3h1M195.32 138.3h1M188.19 173.3h1M187.52 140.3h1M187.1 146.3h1M192.05 152.3h1M188.88 165.3h1M189.83 125.3h1M186.91 152.3h1M188.36 148.3h1M192.56 146.3h1M195.72 139.3h1M189.13 125.3h1M187.68 174.3h1M193.41 168.3h1M190.94 126.3h1M196.89 154.3h1M191.15 169.3h1M188.23 142.3h1M193.13 163.3h1M187.38 167.3h1M189 131.3h1M191.38 148.3h1M187.49 125.3h1M195.86 153.3h1M188.6 169.3h1M190.6 125.3h1M195.75 173.3h1M192.12 132.3h1M189.62 165.3h1M187.11 168.3h1M191.13 144.3h1M187.19 123.3h1M193.83 134.3h1M196.44 133.3h1M190.67 123.3h1M191.37 159.3h1M193.93 159.3h1M188.65 128.3h1M192.47 156.3h1M191.57 157.3h1M196.5 132.3h1M197.22 161.3h1M193.32 174.3h1M195.41 169.3h1M193.94 161.3h1M193.74 159.3h1M192.78 146.3h1M191.79 164.3h1M188.01 144.3h1M192.33 163.3h1M186.81 135.3h1M188.95 170.3h1M191.42 128.3h1M188.12 160.3h1M190.59 160.3h1M196.87 146.3h1M192.33 159.3h1M191.36 139.3h1M187.76 134.3h1M197.15 135.3h1M192.53 130.3h1M188.93 139.3h1M193.65 135.3h1M192.34 139.3h1M194.3 137.3h1M192.59 137.3h1M192.45 167.3h1M187.74 155.3h1M196.5 159.3h1M187.38 149.3h1M193.97 174.3h1M191.33 155.3h1M192.56 168.3h1M195.72 130.3h1M193.39 169.3h1M192.17 152.3h1M195.63 148.3h1M192.49 135.3h1M192.69 172.3h1M187.52 146.3h1M195.04 126.3h1M190.95 126.3h1M190.6 123.3h1M194.22 136.3h1M191.56 130.3h1M194.28 150.3h1M196.49 128.3h1M193.33 135.3h1M192.69 169.3h1M196.08 133.3h1M190.54 144.3h1M195.35 170.3h1M193.99 139.3h1M187.85 146.3h1M192.14 156.3h1M196.93 169.3h1M191.88 161.3h1M190.39 145.3h1M192.54 174.3h1M193.13 125.3h1M196.68 166.3h1M189.17 145.3h1M188.62 151.3h1M186.73 160.3h1M191.34 173.3h1M186.73 130.3h1M187.31 139.3h1M188.54 158.3h1M196.74 166.3h1M193.87 132.3h1M192.97 139.3h1M192.42 167.3h1M194.88 140.3h1M196.94 123.3h1M186.77 132.3h1M191.86 153.3h1M196.1 174.3h1M195.71 127.3h1M188.51 164.3h1" stroke="#45105c" stroke-width="1" fill="none"/>
<path d="M183.32 135.3h1M182.64 142.3h1M183.99 130.3h1M182.85 151.3h1M184.07 146.3h1M183.36 158.3h1M182.49 123.3h1M184.07 171.3h1M184.14 170.3h1M185.07 170.3h1M184.45 129.3h1M184.78 150.3h1M184.15 173.3h1M184.37 123.3h1M183.64 128.3h1M184.78 163.3h1M184.65 169.3h1M184.81 139.3h1M184.81 128.3h1M182.75 124.3h1M182.3 148.3h1M185.56 141.3h1M183.67 163.3h1M184.3 166.3h1M182.87 173.3h1M185.08 142.3h1M185.17 143.3h1M183.72 164.3h1M185.5 143.3h1M183.12 131.3h1" stroke="#3b528b" stroke-width="1" fill="none"/>
</g>
<linearGradient id="lg" x1="0" y1="0" x2="1" y2="0"><stop offset="0" stop-color="#433c84"/><stop offset="0.04" stop-color="#443882"/><stop offset="0.09" stop-color="#46287a"/><stop offset="0.16" stop-color="#471466"/><stop offset="0.28" stop-color="#450558"/><stop offset="1" stop-color="#440154"/></linearGradient>
<rect x="44.2" y="178.2" width="132.9" height="51.2" fill="#440154"/>
<clipPath id="c7"><rect x="44.2" y="178.2" width="132.9" height="51.2"/></clipPath>
<g clip-path="url(#c7)">
<rect x="71.2" y="178.2" width="105.9" height="51.2" fill="url(#lg)"/>
<rect x="44.2" y="178.2" width="27.6" height="51.2" fill="#25928b"/>
<rect x="48.6" y="178.2" width="15.4" height="51.2" fill="#fde725"/>
<rect x="64" y="178.2" width="0.8" height="51.2" fill="#5ec962" opacity="0.7"/>
<rect x="71.4" y="178.2" width="0.8" height="51.2" fill="#31708e"/>
<rect x="90.2" y="178.2" width="9" height="51.2" fill="#4c1d70" opacity="0.22"/>
<rect x="107.2" y="178.2" width="8" height="51.2" fill="#4c1d70" opacity="0.22"/>
<rect x="126.2" y="178.2" width="7" height="51.2" fill="#4c1d70" opacity="0.22"/>
<rect x="145.2" y="178.2" width="5" height="51.2" fill="#4c1d70" opacity="0.22"/>
<rect x="162.2" y="178.2" width="6" height="51.2" fill="#4c1d70" opacity="0.22"/>
</g>
<rect x="182.2" y="178.2" width="132.9" height="51.2" fill="#440154"/>
<clipPath id="c8"><rect x="182.2" y="178.2" width="132.9" height="51.2"/></clipPath>
<g clip-path="url(#c8)">
<rect x="209.2" y="178.2" width="105.9" height="51.2" fill="url(#lg)"/>
<rect x="182.2" y="178.2" width="27.6" height="51.2" fill="#25928b"/>
<rect x="186.6" y="178.2" width="15.4" height="51.2" fill="#fde725"/>
<rect x="202" y="178.2" width="0.8" height="51.2" fill="#5ec962" opacity="0.7"/>
<rect x="209.4" y="178.2" width="0.8" height="51.2" fill="#31708e"/>
<rect x="228.2" y="178.2" width="9" height="51.2" fill="#4c1d70" opacity="0.22"/>
<rect x="245.2" y="178.2" width="8" height="51.2" fill="#4c1d70" opacity="0.22"/>
<rect x="264.2" y="178.2" width="7" height="51.2" fill="#4c1d70" opacity="0.22"/>
<rect x="283.2" y="178.2" width="5" height="51.2" fill="#4c1d70" opacity="0.22"/>
<rect x="300.2" y="178.2" width="6" height="51.2" fill="#4c1d70" opacity="0.22"/>
</g>
<rect x="44.2" y="292" width="132.9" height="51.2" fill="#440154"/>
<clipPath id="c9"><rect x="44.2" y="292" width="132.9" height="51.2"/></clipPath>
<g clip-path="url(#c9)">
<rect x="54.36" y="292" width="0.8" height="51.2" fill="#4c2c7c" opacity="0.75"/>
<rect x="59.64" y="292" width="0.8" height="51.2" fill="#4c2c7c" opacity="0.6"/>
<rect x="62.28" y="292" width="0.8" height="51.2" fill="#4c2c7c" opacity="0.4"/>
<rect x="66.24" y="292" width="0.8" height="51.2" fill="#4c2c7c" opacity="0.55"/>
<rect x="70.2" y="292" width="0.8" height="51.2" fill="#4c2c7c" opacity="0.2"/>
<rect x="75.48" y="292" width="0.8" height="51.2" fill="#4c2c7c" opacity="0.15"/>
<rect x="48.68" y="292" width="1.6" height="51.2" fill="#b7de29"/>
<polyline points="78.2,292 78.43,293.28 78.67,294.56 78.93,295.84 79.2,297.12 79.49,298.4 79.79,299.68 80.11,300.96 80.45,302.24 80.8,303.52 81.17,304.8 81.57,306.08 81.98,307.36 82.41,308.64 82.87,309.92 83.35,311.2 83.86,312.48 84.4,313.76 84.96,315.04 85.55,316.32 86.18,317.6 86.84,318.88 87.54,320.16 88.28,321.44 89.06,322.72 89.89,324 90.76,325.28 91.7,326.56 92.68,327.84 93.74,329.12 94.86,330.4 96.05,331.68 97.33,332.96 98.7,334.24 100.16,335.52 101.74,336.8 103.43,338.08 105.27,339.36 107.25,340.64 109.4,341.92 111.74,343.2" fill="none" stroke="#b9df28" stroke-width="1.7"/>
<polyline points="87.35,292 87.65,293.28 87.96,294.56 88.28,295.84 88.63,297.12 88.99,298.4 89.38,299.68 89.78,300.96 90.21,302.24 90.66,303.52 91.13,304.8 91.63,306.08 92.16,307.36 92.71,308.64 93.29,309.92 93.9,311.2 94.54,312.48 95.22,313.76 95.94,315.04 96.69,316.32 97.49,317.6 98.33,318.88 99.21,320.16 100.15,321.44 101.14,322.72 102.19,324 103.31,325.28 104.49,326.56 105.74,327.84 107.08,329.12 108.5,330.4 110.02,331.68 111.64,332.96 113.37,334.24 115.24,335.52 117.23,336.8 119.39,338.08 121.71,339.36 124.23,340.64 126.96,341.92 129.93,343.2" fill="none" stroke="#b9df28" stroke-width="1.7"/>
</g>
<rect x="182.2" y="292" width="132.9" height="51.2" fill="#440154"/>
<clipPath id="c10"><rect x="182.2" y="292" width="132.9" height="51.2"/></clipPath>
<g clip-path="url(#c10)">
<rect x="186.68" y="292" width="1.6" height="51.2" fill="#b7de29"/>
<polyline points="216.2,292 216.43,293.28 216.67,294.56 216.93,295.84 217.2,297.12 217.49,298.4 217.79,299.68 218.11,300.96 218.45,302.24 218.8,303.52 219.17,304.8 219.57,306.08 219.98,307.36 220.41,308.64 220.87,309.92 221.35,311.2 221.86,312.48 222.4,313.76 222.96,315.04 223.55,316.32 224.18,317.6 224.84,318.88 225.54,320.16 226.28,321.44 227.06,322.72 227.89,324 228.76,325.28 229.7,326.56 230.68,327.84 231.74,329.12 232.86,330.4 234.05,331.68 235.33,332.96 236.7,334.24 238.16,335.52 239.74,336.8 241.43,338.08 243.27,339.36 245.25,340.64 247.4,341.92 249.74,343.2" fill="none" stroke="#b9df28" stroke-width="1.7"/>
<polyline points="225.35,292 225.65,293.28 225.96,294.56 226.28,295.84 226.63,297.12 226.99,298.4 227.38,299.68 227.78,300.96 228.21,302.24 228.66,303.52 229.13,304.8 229.63,306.08 230.16,307.36 230.71,308.64 231.29,309.92 231.9,311.2 232.54,312.48 233.22,313.76 233.94,315.04 234.69,316.32 235.49,317.6 236.33,318.88 237.21,320.16 238.15,321.44 239.14,322.72 240.19,324 241.31,325.28 242.49,326.56 243.74,327.84 245.08,329.12 246.5,330.4 248.02,331.68 249.64,332.96 251.37,334.24 253.24,335.52 255.23,336.8 257.39,338.08 259.71,339.36 262.23,340.64 264.96,341.92 267.93,343.2" fill="none" stroke="#b9df28" stroke-width="1.7"/>
</g>
<rect x="44.2" y="347.4" width="132.9" height="51.2" fill="#440154"/>
<clipPath id="c11"><rect x="44.2" y="347.4" width="132.9" height="51.2"/></clipPath>
<g clip-path="url(#c11)">
<linearGradient id="gb1" x1="0" y1="0" x2="1" y2="0"><stop offset="0" stop-color="#2c738e"/><stop offset="0.35" stop-color="#2f6c8f"/><stop offset="0.75" stop-color="#38699a"/><stop offset="1" stop-color="#3a689c"/></linearGradient>
<linearGradient id="gb2" x1="0" y1="0" x2="1" y2="0"><stop offset="0" stop-color="#3b5a8c"/><stop offset="0.4" stop-color="#3f4f8b"/><stop offset="0.8" stop-color="#4a3d8c"/><stop offset="1" stop-color="#4a3d8c"/></linearGradient>
<rect x="67.2" y="347.4" width="109.9" height="14.6" fill="url(#gb1)"/>
<rect x="67.2" y="362" width="109.9" height="5.6" fill="url(#gb2)"/>
<rect x="67.2" y="367.6" width="109.9" height="22.6" fill="#440c5e"/>
<rect x="67.2" y="390.2" width="109.9" height="8.5" fill="#46247b"/>
<rect x="71.2" y="347.4" width="1" height="20" fill="#2a7a8e" opacity="0.28"/>
<rect x="71.2" y="367.4" width="1" height="31.2" fill="#3b3a80" opacity="0.09"/>
<rect x="73.86" y="347.4" width="1" height="20" fill="#2a7a8e" opacity="0.28"/>
<rect x="73.86" y="367.4" width="1" height="31.2" fill="#3b3a80" opacity="0.09"/>
<rect x="76.52" y="347.4" width="1" height="20" fill="#2a7a8e" opacity="0.28"/>
<rect x="76.52" y="367.4" width="1" height="31.2" fill="#3b3a80" opacity="0.09"/>
<rect x="79.18" y="347.4" width="1" height="20" fill="#2a7a8e" opacity="0.28"/>
<rect x="79.18" y="367.4" width="1" height="31.2" fill="#3b3a80" opacity="0.09"/>
<rect x="81.84" y="347.4" width="1" height="20" fill="#2a7a8e" opacity="0.28"/>
<rect x="81.84" y="367.4" width="1" height="31.2" fill="#3b3a80" opacity="0.09"/>
<rect x="84.5" y="347.4" width="1" height="20" fill="#2a7a8e" opacity="0.28"/>
<rect x="84.5" y="367.4" width="1" height="31.2" fill="#3b3a80" opacity="0.09"/>
<rect x="87.16" y="347.4" width="1" height="20" fill="#2a7a8e" opacity="0.28"/>
<rect x="87.16" y="367.4" width="1" height="31.2" fill="#3b3a80" opacity="0.09"/>
<rect x="89.82" y="347.4" width="1" height="20" fill="#2a7a8e" opacity="0.28"/>
<rect x="89.82" y="367.4" width="1" height="31.2" fill="#3b3a80" opacity="0.09"/>
<rect x="92.48" y="347.4" width="1" height="20" fill="#2a7a8e" opacity="0.28"/>
<rect x="92.48" y="367.4" width="1" height="31.2" fill="#3b3a80" opacity="0.09"/>
<rect x="95.14" y="347.4" width="1" height="20" fill="#2a7a8e" opacity="0.28"/>
<rect x="95.14" y="367.4" width="1" height="31.2" fill="#3b3a80" opacity="0.09"/>
<rect x="97.8" y="347.4" width="1" height="20" fill="#2a7a8e" opacity="0.28"/>
<rect x="97.8" y="367.4" width="1" height="31.2" fill="#3b3a80" opacity="0.09"/>
<rect x="100.46" y="347.4" width="1" height="20" fill="#2a7a8e" opacity="0.28"/>
<rect x="100.46" y="367.4" width="1" height="31.2" fill="#3b3a80" opacity="0.09"/>
<rect x="103.12" y="347.4" width="1" height="20" fill="#2a7a8e" opacity="0.28"/>
<rect x="103.12" y="367.4" width="1" height="31.2" fill="#3b3a80" opacity="0.09"/>
<rect x="105.78" y="347.4" width="1" height="20" fill="#2a7a8e" opacity="0.28"/>
<rect x="105.78" y="367.4" width="1" height="31.2" fill="#3b3a80" opacity="0.09"/>
<rect x="108.44" y="347.4" width="1" height="20" fill="#2a7a8e" opacity="0.28"/>
<rect x="108.44" y="367.4" width="1" height="31.2" fill="#3b3a80" opacity="0.09"/>
<rect x="111.1" y="347.4" width="1" height="20" fill="#2a7a8e" opacity="0.28"/>
<rect x="111.1" y="367.4" width="1" height="31.2" fill="#3b3a80" opacity="0.09"/>
<rect x="113.76" y="347.4" width="1" height="20" fill="#2a7a8e" opacity="0.28"/>
<rect x="113.76" y="367.4" width="1" height="31.2" fill="#3b3a80" opacity="0.09"/>
<rect x="116.42" y="347.4" width="1" height="20" fill="#2a7a8e" opacity="0.28"/>
<rect x="116.42" y="367.4" width="1" height="31.2" fill="#3b3a80" opacity="0.09"/>
<rect x="119.08" y="347.4" width="1" height="20" fill="#2a7a8e" opacity="0.28"/>
<rect x="119.08" y="367.4" width="1" height="31.2" fill="#3b3a80" opacity="0.09"/>
<rect x="121.74" y="347.4" width="1" height="20" fill="#2a7a8e" opacity="0.28"/>
<rect x="121.74" y="367.4" width="1" height="31.2" fill="#3b3a80" opacity="0.09"/>
<rect x="124.4" y="347.4" width="1" height="20" fill="#2a7a8e" opacity="0.28"/>
<rect x="124.4" y="367.4" width="1" height="31.2" fill="#3b3a80" opacity="0.09"/>
<rect x="127.06" y="347.4" width="1" height="20" fill="#2a7a8e" opacity="0.28"/>
<rect x="127.06" y="367.4" width="1" height="31.2" fill="#3b3a80" opacity="0.09"/>
<rect x="129.72" y="347.4" width="1" height="20" fill="#2a7a8e" opacity="0.28"/>
<rect x="129.72" y="367.4" width="1" height="31.2" fill="#3b3a80" opacity="0.09"/>
<rect x="132.38" y="347.4" width="1" height="20" fill="#2a7a8e" opacity="0.28"/>
<rect x="132.38" y="367.4" width="1" height="31.2" fill="#3b3a80" opacity="0.09"/>
<rect x="135.04" y="347.4" width="1" height="20" fill="#2a7a8e" opacity="0.28"/>
<rect x="135.04" y="367.4" width="1" height="31.2" fill="#3b3a80" opacity="0.09"/>
<rect x="137.7" y="347.4" width="1" height="20" fill="#2a7a8e" opacity="0.28"/>
<rect x="137.7" y="367.4" width="1" height="31.2" fill="#3b3a80" opacity="0.09"/>
<rect x="140.36" y="347.4" width="1" height="20" fill="#2a7a8e" opacity="0.28"/>
<rect x="140.36" y="367.4" width="1" height="31.2" fill="#3b3a80" opacity="0.09"/>
<rect x="143.02" y="347.4" width="1" height="20" fill="#2a7a8e" opacity="0.28"/>
<rect x="143.02" y="367.4" width="1" height="31.2" fill="#3b3a80" opacity="0.09"/>
<rect x="145.68" y="347.4" width="1" height="20" fill="#2a7a8e" opacity="0.28"/>
<rect x="145.68" y="367.4" width="1" height="31.2" fill="#3b3a80" opacity="0.09"/>
<rect x="148.34" y="347.4" width="1" height="20" fill="#2a7a8e" opacity="0.28"/>
<rect x="148.34" y="367.4" width="1" height="31.2" fill="#3b3a80" opacity="0.09"/>
<rect x="151" y="347.4" width="1" height="20" fill="#2a7a8e" opacity="0.28"/>
<rect x="151" y="367.4" width="1" height="31.2" fill="#3b3a80" opacity="0.09"/>
<rect x="153.66" y="347.4" width="1" height="20" fill="#2a7a8e" opacity="0.28"/>
<rect x="153.66" y="367.4" width="1" height="31.2" fill="#3b3a80" opacity="0.09"/>
<rect x="156.32" y="347.4" width="1" height="20" fill="#2a7a8e" opacity="0.28"/>
<rect x="156.32" y="367.4" width="1" height="31.2" fill="#3b3a80" opacity="0.09"/>
<rect x="158.98" y="347.4" width="1" height="20" fill="#2a7a8e" opacity="0.28"/>
<rect x="158.98" y="367.4" width="1" height="31.2" fill="#3b3a80" opacity="0.09"/>
<rect x="161.64" y="347.4" width="1" height="20" fill="#2a7a8e" opacity="0.28"/>
<rect x="161.64" y="367.4" width="1" height="31.2" fill="#3b3a80" opacity="0.09"/>
<rect x="164.3" y="347.4" width="1" height="20" fill="#2a7a8e" opacity="0.28"/>
<rect x="164.3" y="367.4" width="1" height="31.2" fill="#3b3a80" opacity="0.09"/>
<rect x="166.96" y="347.4" width="1" height="20" fill="#2a7a8e" opacity="0.28"/>
<rect x="166.96" y="367.4" width="1" height="31.2" fill="#3b3a80" opacity="0.09"/>
<rect x="169.62" y="347.4" width="1" height="20" fill="#2a7a8e" opacity="0.28"/>
<rect x="169.62" y="367.4" width="1" height="31.2" fill="#3b3a80" opacity="0.09"/>
<rect x="172.28" y="347.4" width="1" height="20" fill="#2a7a8e" opacity="0.28"/>
<rect x="172.28" y="367.4" width="1" height="31.2" fill="#3b3a80" opacity="0.09"/>
<rect x="174.94" y="347.4" width="1" height="20" fill="#2a7a8e" opacity="0.28"/>
<rect x="174.94" y="367.4" width="1" height="31.2" fill="#3b3a80" opacity="0.09"/>
<rect x="70.6" y="347.4" width="9" height="20" fill="#2f7a8e" opacity="0.5"/>
<rect x="72" y="367.4" width="24" height="23.6" fill="#452c7a" opacity="0.9"/>
<rect x="77" y="367.4" width="4.6" height="23.6" fill="#3b4f8a" opacity="0.72"/>
<rect x="84.3" y="367.4" width="3.2" height="23.6" fill="#3b4f8a" opacity="0.72"/>
<rect x="90.5" y="367.4" width="2.5" height="23.6" fill="#3b4f8a" opacity="0.72"/>
<rect x="70.6" y="391" width="60" height="7.7" fill="#38608c" opacity="0.7"/>
<polygon points="73.62,347.4 73.82,348.68 74.03,349.96 74.25,351.24 74.49,352.52 74.74,353.8 75,355.08 75.27,356.36 75.57,357.64 75.87,358.92 76.19,360.2 76.53,361.48 76.89,362.76 77.27,364.04 77.66,365.32 78.08,366.6 78.52,367.88 78.98,369.16 79.47,370.44 79.98,371.72 80.53,373 81.1,374.28 81.7,375.56 82.34,376.84 83.02,378.12 83.73,379.4 84.49,380.68 85.3,381.96 86.15,383.24 87.06,384.52 88.03,385.8 89.07,387.08 90.17,388.36 91.36,389.64 92.63,390.92 93.99,392.2 95.46,393.48 97.04,394.76 98.76,396.04 100.62,397.32 102.65,398.6 128.89,398.6 126.19,397.32 123.72,396.04 121.44,394.76 119.34,393.48 117.4,392.2 115.6,390.92 113.93,389.64 112.38,388.36 110.93,387.08 109.58,385.8 108.32,384.52 107.13,383.24 106.02,381.96 104.98,380.68 104.01,379.4 103.09,378.12 102.22,376.84 101.41,375.56 100.65,374.28 99.92,373 99.24,371.72 98.6,370.44 98,369.16 97.43,367.88 96.89,366.6 96.39,365.32 95.91,364.04 95.46,362.76 95.04,361.48 94.64,360.2 94.27,358.92 93.91,357.64 93.58,356.36 93.28,355.08 92.99,353.8 92.72,352.52 92.47,351.24 92.24,349.96 92.02,348.68 91.83,347.4" fill="#45085a"/>
<polyline points="73.62,347.4 73.82,348.68 74.03,349.96 74.25,351.24 74.49,352.52 74.74,353.8 75,355.08 75.27,356.36 75.57,357.64 75.87,358.92 76.19,360.2 76.53,361.48 76.89,362.76 77.27,364.04 77.66,365.32 78.08,366.6 78.52,367.88 78.98,369.16 79.47,370.44 79.98,371.72 80.53,373 81.1,374.28 81.7,375.56 82.34,376.84 83.02,378.12 83.73,379.4 84.49,380.68 85.3,381.96 86.15,383.24 87.06,384.52 88.03,385.8 89.07,387.08 90.17,388.36 91.36,389.64 92.63,390.92 93.99,392.2 95.46,393.48 97.04,394.76 98.76,396.04 100.62,397.32 102.65,398.6" fill="none" stroke="#2e8f8b" stroke-width="0.8"/>
<polyline points="75.77,347.4 75.99,348.68 76.22,349.96 76.46,351.24 76.71,352.52 76.98,353.8 77.26,355.08 77.55,356.36 77.87,357.64 78.2,358.92 78.54,360.2 78.91,361.48 79.29,362.76 79.69,364.04 80.12,365.32 80.57,366.6 81.04,367.88 81.53,369.16 82.06,370.44 82.61,371.72 83.19,373 83.81,374.28 84.45,375.56 85.14,376.84 85.87,378.12 86.63,379.4 87.45,380.68 88.31,381.96 89.23,383.24 90.21,384.52 91.25,385.8 92.36,387.08 93.55,388.36 94.82,389.64 96.18,390.92 97.64,392.2 99.22,393.48 100.92,394.76 102.76,396.04 104.76,397.32 106.93,398.6" fill="none" stroke="#3a7a8c" stroke-width="0.55" stroke-dasharray="0.9 1.8"/>
<polyline points="78.2,347.4 78.43,348.68 78.67,349.96 78.93,351.24 79.2,352.52 79.49,353.8 79.79,355.08 80.11,356.36 80.45,357.64 80.8,358.92 81.17,360.2 81.57,361.48 81.98,362.76 82.41,364.04 82.87,365.32 83.35,366.6 83.86,367.88 84.4,369.16 84.96,370.44 85.55,371.72 86.18,373 86.84,374.28 87.54,375.56 88.28,376.84 89.06,378.12 89.89,379.4 90.76,380.68 91.7,381.96 92.68,383.24 93.74,384.52 94.86,385.8 96.05,387.08 97.33,388.36 98.7,389.64 100.16,390.92 101.74,392.2 103.43,393.48 105.27,394.76 107.25,396.04 109.4,397.32 111.74,398.6" fill="none" stroke="#6cc45c" stroke-width="0.85" stroke-dasharray="1.7 0.9"/>
<polyline points="81.04,347.4 81.29,348.68 81.55,349.96 81.83,351.24 82.13,352.52 82.44,353.8 82.77,355.08 83.11,356.36 83.48,357.64 83.86,358.92 84.27,360.2 84.69,361.48 85.14,362.76 85.61,364.04 86.1,365.32 86.63,366.6 87.18,367.88 87.76,369.16 88.37,370.44 89.01,371.72 89.69,373 90.41,374.28 91.16,375.56 91.96,376.84 92.81,378.12 93.71,379.4 94.66,380.68 95.67,381.96 96.74,383.24 97.88,384.52 99.09,385.8 100.39,387.08 101.77,388.36 103.25,389.64 104.84,390.92 106.55,392.2 108.39,393.48 110.37,394.76 112.52,396.04 114.85,397.32 117.39,398.6" fill="none" stroke="#3a6a8c" stroke-width="0.6" stroke-dasharray="0.9 1.6"/>
<polyline points="83.67,347.4 83.87,348.68 84.09,349.96 84.32,351.24 84.57,352.52 84.83,353.8 85.11,355.08 85.41,356.36 85.72,357.64 86.06,358.92 86.41,360.2 86.79,361.48 87.18,362.76 87.61,364.04 88.05,365.32 88.52,366.6 89.02,367.88 89.54,369.16 90.1,370.44 90.69,371.72 91.31,373 91.97,374.28 92.67,375.56 93.41,376.84 94.2,378.12 95.03,379.4 95.92,380.68 96.86,381.96 97.86,383.24 98.93,384.52 100.07,385.8 101.29,387.08 102.59,388.36 103.99,389.64 105.49,390.92 107.1,392.2 108.84,393.48 110.72,394.76 112.76,396.04 114.98,397.32 117.39,398.6" fill="none" stroke="#2e8f8b" stroke-width="0.7"/>
<polyline points="87.35,347.4 87.54,348.68 87.74,349.96 87.96,351.24 88.2,352.52 88.45,353.8 88.72,355.08 89.01,356.36 89.31,357.64 89.64,358.92 89.99,360.2 90.36,361.48 90.75,362.76 91.17,364.04 91.61,365.32 92.08,366.6 92.58,367.88 93.11,369.16 93.67,370.44 94.26,371.72 94.89,373 95.55,374.28 96.26,375.56 97.01,376.84 97.81,378.12 98.66,379.4 99.56,380.68 100.52,381.96 101.54,383.24 102.63,384.52 103.8,385.8 105.04,387.08 106.38,388.36 107.81,389.64 109.34,390.92 111,392.2 112.79,393.48 114.72,394.76 116.81,396.04 119.09,397.32 121.57,398.6" fill="none" stroke="#3a8a8c" stroke-width="0.6" stroke-dasharray="1.2 1.4"/>
<polyline points="91.83,347.4 92.02,348.68 92.24,349.96 92.47,351.24 92.72,352.52 92.99,353.8 93.28,355.08 93.58,356.36 93.91,357.64 94.27,358.92 94.64,360.2 95.04,361.48 95.46,362.76 95.91,364.04 96.39,365.32 96.89,366.6 97.43,367.88 98,369.16 98.6,370.44 99.24,371.72 99.92,373 100.65,374.28 101.41,375.56 102.22,376.84 103.09,378.12 104.01,379.4 104.98,380.68 106.02,381.96 107.13,383.24 108.32,384.52 109.58,385.8 110.93,387.08 112.38,388.36 113.93,389.64 115.6,390.92 117.4,392.2 119.34,393.48 121.44,394.76 123.72,396.04 126.19,397.32 128.89,398.6" fill="none" stroke="#9ad33c" stroke-width="0.95" stroke-dasharray="1.8 0.7"/>
<rect x="44.2" y="347.4" width="9.7" height="51.2" fill="#440154"/>
<rect x="44.2" y="347.4" width="0.6" height="51.2" fill="#3a9a70" opacity="0.8"/>
<rect x="49.4" y="363.4" width="1.2" height="35.2" fill="#472c7a" opacity="0.8"/>
<rect x="53.9" y="347.4" width="2" height="51.2" fill="#fde725"/>
<rect x="55.9" y="347.4" width="1.4" height="51.2" fill="#2f5f8e"/>
<rect x="57.3" y="347.4" width="3.7" height="51.2" fill="#fde725"/>
<rect x="61" y="347.4" width="2" height="51.2" fill="#2fa184"/>
<rect x="63" y="347.4" width="3.7" height="51.2" fill="#fde725"/>
<rect x="66.7" y="347.4" width="1.7" height="51.2" fill="#2a8a8c"/>
<rect x="68.4" y="347.4" width="3.9" height="51.2" fill="#2fa888"/>
<rect x="69.8" y="347.4" width="0.8" height="51.2" fill="#2a8f8c" opacity="0.7"/>
<rect x="72.3" y="347.4" width="1.2" height="20" fill="#2c7f8e"/>
<rect x="72.3" y="367.4" width="1.4" height="23.6" fill="#45287a"/>
<rect x="72.3" y="391" width="1.2" height="7.7" fill="#33638d"/>
</g>
<rect x="182.2" y="347.4" width="132.9" height="51.2" fill="#440154"/>
<clipPath id="c12"><rect x="182.2" y="347.4" width="132.9" height="51.2"/></clipPath>
<g clip-path="url(#c12)">
<rect x="193.4" y="347.4" width="121.7" height="51.2" fill="#f8e621"/>
<rect x="193.4" y="352.4" width="121.7" height="0.7" fill="#b2dc2f" opacity="0.2"/>
<rect x="193.4" y="358.9" width="121.7" height="0.7" fill="#b2dc2f" opacity="0.2"/>
<rect x="193.4" y="366.4" width="121.7" height="6" fill="#b2dc2f" opacity="0.14"/>
<rect x="193.4" y="368.4" width="121.7" height="0.8" fill="#b2dc2f" opacity="0.85"/>
<rect x="193.4" y="377.4" width="121.7" height="0.7" fill="#b2dc2f" opacity="0.22"/>
<rect x="193.4" y="383.7" width="121.7" height="0.8" fill="#b2dc2f" opacity="0.4"/>
<rect x="193.4" y="388" width="121.7" height="0.8" fill="#b2dc2f" opacity="0.35"/>
<rect x="193.4" y="393.4" width="121.7" height="0.7" fill="#b2dc2f" opacity="0.2"/>
<rect x="191.1" y="347.4" width="2.5" height="51.2" fill="#2c8e8c"/>
<rect x="191.8" y="347.4" width="1" height="51.2" fill="#36a882" opacity="0.8"/>
<polygon points="211.62,347.4 211.82,348.68 212.03,349.96 212.25,351.24 212.49,352.52 212.74,353.8 213,355.08 213.27,356.36 213.57,357.64 213.87,358.92 214.19,360.2 214.53,361.48 214.89,362.76 215.27,364.04 215.66,365.32 216.08,366.6 216.52,367.88 216.98,369.16 217.47,370.44 217.98,371.72 218.53,373 219.1,374.28 219.7,375.56 220.34,376.84 221.02,378.12 221.73,379.4 222.49,380.68 223.3,381.96 224.15,383.24 225.06,384.52 226.03,385.8 227.07,387.08 228.17,388.36 229.36,389.64 230.63,390.92 231.99,392.2 233.46,393.48 235.04,394.76 236.76,396.04 238.62,397.32 240.65,398.6 271.07,398.6 268.27,397.32 265.69,396.04 263.33,394.76 261.15,393.48 259.13,392.2 257.26,390.92 255.53,389.64 253.92,388.36 252.41,387.08 251.01,385.8 249.7,384.52 248.47,383.24 247.32,381.96 246.24,380.68 245.23,379.4 244.28,378.12 243.39,376.84 242.55,375.56 241.76,374.28 241.01,373 240.31,371.72 239.65,370.44 239.03,369.16 238.44,367.88 237.89,366.6 237.36,365.32 236.87,364.04 236.41,362.76 235.98,361.48 235.57,360.2 235.19,358.92 234.83,357.64 234.5,356.36 234.18,355.08 233.89,353.8 233.62,352.52 233.37,351.24 233.13,349.96 232.92,348.68 232.72,347.4" fill="#440154"/>
<polygon points="229.68,375.56 229.98,376.14 230.28,376.71 230.6,377.29 230.93,377.86 231.26,378.44 231.6,379.02 231.96,379.59 232.32,380.17 232.7,380.74 233.08,381.32 233.48,381.9 233.88,382.47 234.3,383.05 234.73,383.62 235.18,384.2 235.64,384.78 236.11,385.35 236.59,385.93 237.09,386.5 237.61,387.08 238.14,387.66 238.69,388.23 239.26,388.81 239.84,389.38 240.45,389.96 241.07,390.54 241.72,391.11 242.39,391.69 243.08,392.26 243.79,392.84 244.53,393.42 245.3,393.99 246.09,394.57 246.92,395.14 247.77,395.72 248.66,396.3 249.58,396.87 250.53,397.45 251.53,398.02 252.57,398.6 256.22,398.6 255.04,398.02 253.9,397.45 252.81,396.87 251.75,396.3 250.74,395.72 249.76,395.14 248.81,394.57 247.9,393.99 247.02,393.42 246.17,392.84 245.35,392.26 244.55,391.69 243.78,391.11 243.04,390.54 242.32,389.96 241.62,389.38 240.94,388.81 240.28,388.23 239.65,387.66 239.03,387.08 238.43,386.5 237.85,385.93 237.28,385.35 236.73,384.78 236.2,384.2 235.68,383.62 235.17,383.05 234.68,382.47 234.2,381.9 233.74,381.32 233.28,380.74 232.84,380.17 232.41,379.59 232,379.02 231.59,378.44 231.19,377.86 230.8,377.29 230.43,376.71 230.06,376.14 229.7,375.56" fill="#f8e621"/>
<polyline points="213.77,347.4 213.99,348.68 214.22,349.96 214.46,351.24 214.71,352.52 214.98,353.8 215.26,355.08 215.55,356.36 215.87,357.64 216.2,358.92 216.54,360.2 216.91,361.48 217.29,362.76 217.69,364.04 218.12,365.32 218.57,366.6 219.04,367.88 219.53,369.16 220.06,370.44 220.61,371.72 221.19,373 221.81,374.28 222.45,375.56 223.14,376.84 223.87,378.12 224.63,379.4 225.45,380.68 226.31,381.96 227.23,383.24 228.21,384.52 229.25,385.8 230.36,387.08 231.55,388.36 232.82,389.64 234.18,390.92 235.64,392.2 237.22,393.48 238.92,394.76 240.76,396.04 242.76,397.32 244.93,398.6" fill="none" stroke="#8a7a5a" stroke-width="0.6" stroke-dasharray="0.9 1.7"/>
<polyline points="216.2,347.4 216.43,348.68 216.67,349.96 216.93,351.24 217.2,352.52 217.49,353.8 217.79,355.08 218.11,356.36 218.45,357.64 218.8,358.92 219.17,360.2 219.57,361.48 219.98,362.76 220.41,364.04 220.87,365.32 221.35,366.6 221.86,367.88 222.4,369.16 222.96,370.44 223.55,371.72 224.18,373 224.84,374.28 225.54,375.56 226.28,376.84 227.06,378.12 227.89,379.4 228.76,380.68 229.7,381.96 230.68,383.24 231.74,384.52 232.86,385.8 234.05,387.08 235.33,388.36 236.7,389.64 238.16,390.92 239.74,392.2 241.43,393.48 243.27,394.76 245.25,396.04 247.4,397.32 249.74,398.6" fill="none" stroke="#a08a50" stroke-width="0.65" stroke-dasharray="1 1.5"/>
<polyline points="221.67,347.4 221.83,348.68 222.01,349.96 222.21,351.24 222.42,352.52 222.64,353.8 222.89,355.08 223.14,356.36 223.42,357.64 223.71,358.92 224.03,360.2 224.36,361.48 224.71,362.76 225.09,364.04 225.48,365.32 225.91,366.6 226.36,367.88 226.83,369.16 227.34,370.44 227.87,371.72 228.44,373 229.04,374.28 229.68,375.56 230.35,376.84 231.07,378.12 231.84,379.4 232.65,380.68 233.52,381.96 234.44,383.24 235.43,384.52 236.48,385.8 237.61,387.08 238.82,388.36 240.11,389.64 241.5,390.92 243,392.2 244.62,393.48 246.36,394.76 248.26,396.04 250.32,397.32 252.57,398.6" fill="none" stroke="#2fa184" stroke-width="0.9"/>
<polyline points="219.88,347.4 220.14,348.68 220.41,349.96 220.69,351.24 220.99,352.52 221.31,353.8 221.65,355.08 222,356.36 222.38,357.64 222.77,358.92 223.18,360.2 223.62,361.48 224.07,362.76 224.56,364.04 225.06,365.32 225.6,366.6 226.16,367.88 226.75,369.16 227.38,370.44 228.03,371.72 228.73,373 229.46,374.28 230.24,375.56 231.06,376.84 231.92,378.12 232.84,379.4 233.81,380.68 234.84,381.96 235.94,383.24 237.1,384.52 238.35,385.8 239.67,387.08 241.09,388.36 242.6,389.64 244.23,390.92 245.97,392.2 247.85,393.48 249.88,394.76 252.08,396.04 254.46,397.32 257.06,398.6" fill="none" stroke="#2d8a8c" stroke-width="0.6" stroke-dasharray="1 1.6"/>
<polyline points="224.3,347.4 224.56,348.68 224.83,349.96 225.13,351.24 225.44,352.52 225.76,353.8 226.11,355.08 226.48,356.36 226.86,357.64 227.27,358.92 227.7,360.2 228.16,361.48 228.64,362.76 229.14,364.04 229.67,365.32 230.23,366.6 230.83,367.88 231.45,369.16 232.11,370.44 232.8,371.72 233.54,373 234.31,374.28 235.13,375.56 236,376.84 236.92,378.12 237.9,379.4 238.93,380.68 240.03,381.96 241.19,383.24 242.43,384.52 243.76,385.8 245.17,387.08 246.68,388.36 248.3,389.64 250.03,390.92 251.89,392.2 253.9,393.48 256.07,394.76 258.42,396.04 260.97,397.32 263.75,398.6" fill="none" stroke="#8a7a5a" stroke-width="0.6" stroke-dasharray="0.9 1.8"/>
<polyline points="230.61,347.4 230.8,348.68 231.01,349.96 231.24,351.24 231.48,352.52 231.74,353.8 232.02,355.08 232.32,356.36 232.64,357.64 232.99,358.92 233.35,360.2 233.75,361.48 234.16,362.76 234.6,364.04 235.07,365.32 235.57,366.6 236.11,367.88 236.67,369.16 237.27,370.44 237.9,371.72 238.57,373 239.29,374.28 240.05,375.56 240.86,376.84 241.71,378.12 242.62,379.4 243.6,380.68 244.63,381.96 245.73,383.24 246.91,384.52 248.17,385.8 249.51,387.08 250.96,388.36 252.5,389.64 254.17,390.92 255.96,392.2 257.89,393.48 259.99,394.76 262.25,396.04 264.72,397.32 267.41,398.6" fill="none" stroke="#2fa184" stroke-width="0.9"/>
<rect x="312.8" y="347.4" width="2.3" height="51.2" fill="#2f6f8e"/>
<rect x="312.4" y="347.4" width="0.7" height="51.2" fill="#35a07f"/>
</g>
<rect x="44.2" y="402.8" width="132.9" height="51.2" fill="#440154"/>
<clipPath id="c13"><rect x="44.2" y="402.8" width="132.9" height="51.2"/></clipPath>
<g clip-path="url(#c13)">
<rect x="91.32" y="402.8" width="0.8" height="51.2" fill="#4a3a80" opacity="0.50"/>
<rect x="96.6" y="402.8" width="0.8" height="51.2" fill="#4a3a80" opacity="0.50"/>
<rect x="101.88" y="402.8" width="0.8" height="51.2" fill="#4a3a80" opacity="0.50"/>
<rect x="107.16" y="402.8" width="0.8" height="51.2" fill="#4a3a80" opacity="0.50"/>
<rect x="112.44" y="402.8" width="0.8" height="51.2" fill="#4a3a80" opacity="0.50"/>
<rect x="117.72" y="402.8" width="0.8" height="51.2" fill="#4a3a80" opacity="0.50"/>
<rect x="123" y="402.8" width="0.8" height="51.2" fill="#4a3a80" opacity="0.28"/>
<rect x="128.28" y="402.8" width="0.8" height="51.2" fill="#4a3a80" opacity="0.28"/>
<rect x="133.56" y="402.8" width="0.8" height="51.2" fill="#4a3a80" opacity="0.28"/>
<rect x="138.84" y="402.8" width="0.8" height="51.2" fill="#4a3a80" opacity="0.28"/>
<rect x="44.8" y="402.8" width="1.4" height="51.2" fill="#d9a532"/>
<rect x="48.6" y="402.8" width="1.7" height="51.2" fill="#e0ab2d"/>
<rect x="53.6" y="402.8" width="2" height="51.2" fill="#e6b52b"/>
<rect x="58.95" y="402.8" width="2" height="51.2" fill="#e3b02c"/>
<rect x="64.05" y="402.8" width="3.1" height="51.2" fill="#f5d626"/>
<rect x="69.25" y="402.8" width="1.9" height="51.2" fill="#dea92e"/>
<rect x="79.9" y="419.3" width="2" height="34.7" fill="#e0ab2d"/>
<rect x="86" y="432.3" width="1.9" height="21.7" fill="#efc928"/>
<polyline points="78.2,402.8 78.43,404.08 78.67,405.36 78.93,406.64 79.2,407.92 79.49,409.2 79.79,410.48 80.11,411.76 80.45,413.04 80.8,414.32 81.17,415.6 81.57,416.88 81.98,418.16 82.41,419.44 82.87,420.72 83.35,422 83.86,423.28 84.4,424.56 84.96,425.84 85.55,427.12 86.18,428.4 86.84,429.68 87.54,430.96 88.28,432.24 89.06,433.52 89.89,434.8 90.76,436.08 91.7,437.36 92.68,438.64 93.74,439.92 94.86,441.2 96.05,442.48 97.33,443.76 98.7,445.04 100.16,446.32 101.74,447.6 103.43,448.88 105.27,450.16 107.25,451.44 109.4,452.72 111.74,454" fill="none" stroke="#f0cd27" stroke-width="1.45" stroke-dasharray="3 0.5 1.5 0.4" stroke-dashoffset="4.0"/>
<polyline points="87.35,402.8 87.65,404.08 87.96,405.36 88.28,406.64 88.63,407.92 88.99,409.2 89.38,410.48 89.78,411.76 90.21,413.04 90.66,414.32 91.13,415.6 91.63,416.88 92.16,418.16 92.71,419.44 93.29,420.72 93.9,422 94.54,423.28 95.22,424.56 95.94,425.84 96.69,427.12 97.49,428.4 98.33,429.68 99.21,430.96 100.15,432.24 101.14,433.52 102.19,434.8 103.31,436.08 104.49,437.36 105.74,438.64 107.08,439.92 108.5,441.2 110.02,442.48 111.64,443.76 113.37,445.04 115.24,446.32 117.23,447.6 119.39,448.88 121.71,450.16 124.23,451.44 126.96,452.72 129.93,454" fill="none" stroke="#f0cd27" stroke-width="1.45" stroke-dasharray="3 0.5 1.5 0.4" stroke-dashoffset="3.8"/>
<path d="M67.78 403.3h1M67.41 405.3h1M67.48 407.3h1M67.49 410.3h1M67.78 412.3h1M67.51 413.3h1M67.75 414.3h1M67.67 415.3h1M67.42 418.3h1M67.75 420.3h1M67.44 424.3h1M67.44 425.3h1M67.75 426.3h1M67.68 431.3h1M67.43 433.3h1M67.79 434.3h1M67.51 443.3h1M67.62 448.3h1M67.62 454.3h1M75.47 403.3h1M75.35 412.3h1M75.57 415.3h1M75.41 419.3h1M75.24 421.3h1M75.66 431.3h1M75.31 442.3h1M75.51 444.3h1M75.76 452.3h1M120.62 453.3h1M105.41 446.3h1M172.55 454.3h1M119.1 414.3h1M175.66 450.3h1M168.48 434.3h1M165.51 446.3h1M135.98 431.3h1" stroke="#e3a92c" stroke-width="1" fill="none"/>
<path d="M67.75 417.3h1M67.72 422.3h1M67.45 423.3h1M67.48 428.3h1M67.6 430.3h1M67.67 436.3h1M67.61 437.3h1M67.74 440.3h1M67.51 442.3h1M67.56 445.3h1M67.53 447.3h1" stroke="#f2cf27" stroke-width="1" fill="none"/>
<path d="M72.61 404.3h1M72.59 437.3h1M72.19 447.3h1M75.66 406.3h1M75.42 407.3h1M75.57 408.3h1M75.38 411.3h1M75.75 420.3h1M75.71 433.3h1M75.54 435.3h1M75.63 436.3h1M75.72 448.3h1M75.28 451.3h1M75.42 453.3h1M78.93 422.3h1M78.92 426.3h1M79.28 433.3h1M79.22 438.3h1M78.89 439.3h1M78.99 446.3h1M78.89 449.3h1M78.87 453.3h1M76.67 414.75h1M76.9 415.6h1M78.71 421.57h1M79 422.43h1M79.63 424.13h1M79.95 424.99h1M81.39 428.4h1M81.78 429.25h1M82.19 430.11h1M90.63 442.91h1M94.88 447.17h1M97.96 449.73h1M104.34 454h1M82.51 407.07h1M82.71 407.92h1M84.1 413.04h1M86.13 419.01h1M94.31 434.37h1M96.28 436.93h1M97.74 438.64h1M100.16 441.2h1M118.98 454h1M153.94 417.3h1M102.6 432.3h1M165.73 439.3h1M160.91 428.3h1M145.82 430.3h1M84.62 434.3h1M126.7 424.3h1M91.92 428.3h1M92.37 420.3h1M149.34 431.3h1M95.41 446.3h1M99.75 425.3h1M163.79 413.3h1M93.84 418.3h1M152.63 446.3h1M146.1 407.3h1M125.46 421.3h1M112.57 448.3h1M153.97 412.3h1" stroke="#9c7c4c" stroke-width="1" fill="none"/>
<path d="M72.55 443.3h1M72.02 444.3h1M75.37 404.3h1M75.47 405.3h1M75.35 409.3h1M75.54 410.3h1M75.25 413.3h1M75.32 414.3h1M75.63 416.3h1M75.63 417.3h1M75.46 418.3h1M75.25 422.3h1M75.52 423.3h1M75.26 424.3h1M75.62 425.3h1M75.31 426.3h1M75.49 427.3h1M75.6 428.3h1M75.76 430.3h1M75.26 434.3h1M75.53 437.3h1M75.69 440.3h1M75.35 445.3h1M75.61 447.3h1M79.24 419.3h1M79.05 420.3h1M79.23 423.3h1M79.06 427.3h1M79.29 429.3h1M79.35 430.3h1M79.11 435.3h1M79.27 436.3h1M78.83 440.3h1M79.32 442.3h1M79.03 448.3h1M78.92 450.3h1M79.06 451.3h1M75.13 407.92h1M75.84 411.33h1M78.14 419.87h1M83.98 433.52h1M87.23 438.64h1M88.5 440.35h1M89.89 442.05h1M93.06 445.47h1M93.94 446.32h1M81.59 402.8h1M81.76 403.65h1M83.37 410.48h1M87.16 421.57h1M88.3 424.13h1M88.71 424.99h1M89.13 425.84h1M157.93 446.3h1M123.09 441.3h1M141.73 421.3h1M145.61 454.3h1M109.42 412.3h1M112.87 423.3h1M133.18 403.3h1M136.71 445.3h1M96.74 451.3h1M171.32 454.3h1M117.99 404.3h1" stroke="#3a8a8a" stroke-width="1" fill="none"/>
<path d="M72.64 408.3h1M72.48 409.3h1M72.53 413.3h1M72.35 415.3h1M72.11 431.3h1M72.43 434.3h1M72.19 442.3h1M72.59 446.3h1" stroke="#6a4a78" stroke-width="1" fill="none"/>
</g>
<rect x="182.2" y="402.8" width="132.9" height="51.2" fill="#440154"/>
<clipPath id="c14"><rect x="182.2" y="402.8" width="132.9" height="51.2"/></clipPath>
<g clip-path="url(#c14)">
<rect x="188.2" y="402.8" width="2.4" height="51.2" fill="#7a5560" opacity="0.55"/>
<path d="M248.62 424.3h1.6M272.04 454.3h1M240.23 411.3h1M287.43 437.3h1M261.66 447.3h1.6M265.25 415.3h1M251.56 438.3h1.6M288.79 409.3h1.6M244.91 430.3h1M274.06 442.3h1.6M237.54 445.3h2.2M253.78 417.3h1.6M267.93 435.3h1.6M257.4 415.3h1.6M264.35 448.3h1M285.91 417.3h1.6M295.01 422.3h1M239.03 434.3h1.6M270.92 447.3h2.2M304.2 453.3h1M247.88 434.3h1.6M280.52 416.3h1.6M255.7 448.3h2.2M238.22 419.3h1M243.18 453.3h1M296.71 448.3h1M260.34 431.3h1M248.13 432.3h2.2M279.82 443.3h2.2M256.79 410.3h2.2M246.91 438.3h1M279.04 440.3h1M259.07 419.3h1M270.93 434.3h1M255.95 423.3h2.2M264.75 416.3h1M253.92 432.3h1M262.9 414.3h2.2M256.21 410.3h1.6M258.29 428.3h1M289.92 447.3h2.2M265.07 447.3h1M258.62 411.3h1.6M307.86 452.3h1M260.22 432.3h1M277.83 414.3h1.6M286.82 437.3h1M256.15 450.3h1.6M260.91 407.3h1.6M257.27 451.3h1M264.18 448.3h1M243.54 437.3h2.2M263.03 452.3h1.6M247.41 433.3h1.6M271.92 429.3h1M298.15 412.3h1.6M270.8 431.3h1M260.67 454.3h1M247.31 428.3h2.2M255.56 442.3h1M284.31 443.3h1M250.66 431.3h1M265.49 419.3h2.2M297.18 443.3h1.6M252.67 453.3h1M271.78 406.3h1.6M288.38 446.3h1M266.43 403.3h1M273.91 451.3h1M264.28 409.3h1M252.19 417.3h2.2M255.62 434.3h1.6M266.49 416.3h1.6M255.41 412.3h1M238.84 417.3h1M243.97 427.3h1M278.15 403.3h2.2M256.34 447.3h1M267.35 452.3h1.6M256.09 445.3h1M270.93 427.3h2.2M261.33 441.3h1M238.77 424.3h1M296.4 421.3h2.2M258.59 446.3h1M248.51 406.3h1" stroke="#e3a92c" stroke-width="1" fill="none" opacity="0.72"/>
<path d="M287.22 450.3h2.2M269.44 444.3h1M277.34 450.3h1M276.28 426.3h1M264.14 424.3h2.2M302.99 428.3h1.6M291.74 437.3h1M294.56 406.3h1.6M250.8 418.3h1.6M248.35 403.3h1.6M277.41 451.3h1M264.53 452.3h1.6M312.86 412.3h2.2M252.78 419.3h1.6M288.65 440.3h1M239.33 417.3h1M300.21 450.3h1M297.71 438.3h1M264.66 451.3h1M258.23 417.3h1M277.77 405.3h2.2M295.51 403.3h1.6M247.1 421.3h1.6" stroke="#f2cf27" stroke-width="1" fill="none" opacity="0.72"/>
<path d="M270.09 445.3h1M283.73 431.3h1.6M304.37 419.3h2.2M281.35 451.3h1M245.01 434.3h1M264.76 416.3h2.2M238.12 407.3h2.2M275.49 454.3h1.6M294.99 446.3h1M244.91 435.3h2.2M239.94 428.3h1M287.31 439.3h1.6M263.65 452.3h1.6M265.21 431.3h1M243.11 421.3h2.2M271.12 446.3h1.6M269.04 413.3h1M241.59 446.3h1.6M271.33 417.3h1.6M290.45 433.3h1M250.78 441.3h1M245.88 403.3h1M264.14 411.3h2.2M273.7 437.3h1M289.94 449.3h1.6M292.67 418.3h1M281.23 448.3h1M271.69 430.3h2.2M282.89 420.3h1.6M249.79 410.3h1.6M269.48 445.3h1M280.54 410.3h1.6M246.94 431.3h2.2M289.93 426.3h1M237.6 419.3h1.6M257.89 435.3h2.2M243.23 424.3h2.2M252.65 433.3h1M259.55 435.3h1M265.69 441.3h1M307.05 431.3h1M254.33 430.3h2.2M269.16 417.3h1M279.16 439.3h1.6M311.27 449.3h1M238.98 408.3h1M283.86 433.3h1M271.87 420.3h1M237.77 405.3h1M304.61 444.3h1M282.79 439.3h1.6M250.36 441.3h2.2M246.89 454.3h1M246.85 449.3h1.6M296.09 428.3h1.6M307.68 419.3h2.2M292.1 424.3h1.6M293.07 424.3h1M302.2 453.3h1M248.7 434.3h1M310.1 432.3h1M271.69 417.3h1.6M238.65 436.3h1M283.2 416.3h1M245.73 420.3h1M259.62 432.3h2.2M241.48 423.3h1M250.94 410.3h1M259.41 418.3h1M240.87 446.3h1.6M304.25 433.3h2.2M305.41 451.3h1.6M268.91 435.3h2.2M254.67 431.3h2.2M310.93 453.3h2.2M255.1 425.3h2.2M264.86 440.3h1M289.47 433.3h1M270.58 437.3h1M268.94 442.3h2.2M261.99 431.3h1.6M288.14 453.3h1.6M247.67 403.3h1.6M242.18 430.3h1M274.19 443.3h1M253.31 425.3h1M267.68 425.3h1M245.25 409.3h2.2M249.68 422.3h2.2M246.96 427.3h1M258.67 404.3h1.6M273.92 439.3h1M245.34 407.3h2.2M249.34 438.3h1.6M238.5 411.3h1.6M245.94 451.3h1.6M261.63 446.3h2.2M280.19 446.3h2.2M253.88 418.3h1M260.55 412.3h1.6M239.03 428.3h1M269.32 403.3h2.2M305.68 436.3h1M283.87 406.3h1M240 452.3h1.6M240.08 424.3h2.2M244.06 410.3h1.6M244.04 422.3h1M249.38 408.3h1.6M312.03 425.3h1M262.38 438.3h1M246.5 431.3h2.2M244.48 414.3h1M258.7 436.3h1.6M240.49 433.3h1.6M280.71 454.3h1M280.69 452.3h1.6M255.4 447.3h1M285.23 425.3h1M247.14 439.3h1M279.67 404.3h1M262.48 433.3h1.6M267.89 439.3h1.6M269.24 405.3h1M268.39 404.3h2.2M257.57 404.3h1M248.95 419.3h1M246.86 412.3h1M272.98 404.3h1M278.87 414.3h2.2M275.35 403.3h1M291 446.3h2.2M251.93 438.3h1M277.14 437.3h1M238.95 405.3h1M287.16 433.3h1M255.62 441.3h2.2M275.9 428.3h1M282.4 429.3h1M268.06 443.3h1M244.31 416.3h1M272.33 447.3h1M245.12 411.3h1M261.67 420.3h1M273.79 419.3h1.6M276.78 433.3h1.6M265.77 426.3h2.2M261.58 434.3h1M265.85 452.3h2.2M274.83 430.3h1.6M265.9 442.3h2.2M268.23 442.3h2.2M244.04 426.3h2.2M251.72 428.3h1M290.17 433.3h1M259.79 403.3h2.2M306.38 429.3h1M297.67 444.3h1.6M264.08 437.3h2.2M261.06 435.3h1M284.63 405.3h1.6M241.68 422.3h1M279.06 451.3h1M254.77 438.3h1M268.45 436.3h2.2M278.95 421.3h1M272.91 454.3h1.6M275.06 403.3h1M268.58 418.3h1M250.43 417.3h2.2" stroke="#9c7c4c" stroke-width="1" fill="none" opacity="0.72"/>
<path d="M299.93 438.3h2.2M244.89 412.3h1.6M238.68 424.3h1.6M253.39 407.3h1M238.79 406.3h1M251.95 418.3h1M246.2 414.3h1M276.79 411.3h1M242.33 429.3h2.2M252.54 452.3h1M244.11 442.3h1M262.49 417.3h1M280.11 411.3h2.2M247.83 449.3h1M270.57 414.3h1.6M285.06 451.3h1M239.19 413.3h1M266.62 447.3h2.2M284.83 423.3h1M237.55 426.3h1.6M274.32 407.3h1.6M250.79 448.3h1M247.81 426.3h1M288.63 437.3h1.6M268.96 409.3h1M263.58 412.3h1M245.33 437.3h2.2M299.24 403.3h1M289.6 410.3h2.2M238.66 426.3h1M288.53 449.3h1.6M281.51 426.3h1M258.66 451.3h1M272.39 438.3h1M278.89 441.3h1M265.7 407.3h2.2M257.4 445.3h2.2M260.05 430.3h2.2M274.32 426.3h1.6M241.27 422.3h1M306.68 409.3h1M264.71 429.3h1M291.08 433.3h1M291.17 411.3h1M247.8 413.3h2.2M293.05 422.3h1M291.24 412.3h1M261.22 406.3h1M303.42 444.3h1M285.8 410.3h1M259.99 409.3h1.6M256.32 424.3h1M243.36 438.3h1.6M245.8 412.3h2.2M239.22 408.3h1M264.55 430.3h1M258.58 452.3h1M264.27 448.3h2.2M249.99 439.3h2.2M264.58 435.3h1.6M251.88 429.3h2.2M265.03 417.3h1M308 403.3h1.6M275.75 420.3h2.2M241.72 406.3h1M282.56 426.3h1.6M295.04 430.3h1.6M237.53 414.3h1.6M253.12 406.3h1.6M280.88 425.3h1M285.44 433.3h1M254.68 436.3h1.6M243.18 432.3h2.2M257.43 411.3h2.2M287.64 447.3h1M261.89 420.3h1.6M272.6 446.3h1M255.18 428.3h1M258.35 410.3h2.2M290.2 440.3h2.2M247.93 435.3h2.2M250.05 433.3h1.6M263.73 431.3h2.2M243.29 411.3h1M250.83 427.3h1M313.07 452.3h1M280.98 449.3h1M288.88 453.3h2.2M276.84 405.3h1M261.93 435.3h1M243.04 431.3h1M246.16 430.3h2.2M258.45 448.3h1M269.59 454.3h1M260.29 428.3h2.2M256.53 434.3h1.6M248.59 410.3h1.6M258.09 444.3h1.6M271.64 454.3h1.6M244.24 420.3h1.6M248.33 420.3h1M267.15 404.3h1.6M259.94 445.3h2.2M238.57 407.3h1.6M269.01 425.3h1.6M302.92 451.3h1.6M246.69 430.3h1M287.87 430.3h1M244.83 416.3h2.2M277.16 425.3h1M306.32 440.3h2.2M249.1 405.3h1M240.96 425.3h2.2M287.9 409.3h1M254.98 447.3h1M253.55 409.3h1M278.43 433.3h2.2M273.47 418.3h2.2M270.77 417.3h2.2M270.15 442.3h1M283.57 428.3h1M241.91 441.3h1M291.07 432.3h1M297.14 451.3h2.2" stroke="#3a8a8a" stroke-width="1" fill="none" opacity="0.72"/>
<path d="M252.41 419.3h2.2M240.63 407.3h1.6M290.06 432.3h1M257.9 417.3h2.2M251.6 440.3h1M251.62 423.3h1M298.46 424.3h1M248.82 436.3h1M240.32 408.3h2.2M250.72 414.3h1.6M288.97 430.3h1.6M288.88 448.3h1.6M258.29 403.3h2.2M270.28 450.3h1M238.99 403.3h1M274.92 430.3h1.6M256.69 429.3h1M249.06 405.3h1M238.5 422.3h1M263.91 439.3h2.2M252.9 423.3h1M314.51 422.3h2.2M256.36 408.3h2.2M244.08 408.3h2.2M244.47 409.3h1M253.09 448.3h1.6M297.47 419.3h1M289.37 437.3h1M270.12 413.3h1M244.6 416.3h1.6M263.05 409.3h1.6M275.31 418.3h1M272.21 430.3h1M279.2 451.3h2.2M260.07 420.3h2.2M284.51 419.3h2.2M291.81 453.3h1M250.52 411.3h1.6M274.25 418.3h1M255.33 403.3h1M271.74 438.3h2.2M259.55 425.3h1M277.57 422.3h1.6M261.18 424.3h1M254.31 439.3h1M260.8 430.3h1.6M261.79 426.3h1M258.48 422.3h2.2M252.59 424.3h1M244.3 443.3h1.6M273.42 437.3h1M293.09 432.3h1.6M245.41 426.3h1M283.01 444.3h2.2M249.37 405.3h2.2M251.59 403.3h1M299.17 441.3h1.6M244.32 435.3h1.6M242.62 412.3h1.6M273.18 431.3h1.6M257.2 451.3h1M242.97 403.3h1M269.66 417.3h1.6M275.63 410.3h1.6M280.07 427.3h1.6M252.13 433.3h1.6M268.89 412.3h1M280.55 421.3h1M260.87 433.3h1M259.87 416.3h2.2M249.75 438.3h1.6M255.5 440.3h1M264.11 429.3h1M311.22 448.3h2.2M281.31 406.3h2.2M271.3 440.3h1.6M255.43 447.3h1M245.09 439.3h1M253.12 425.3h1.6M283.44 417.3h1.6M242.04 406.3h1.6M260.63 425.3h1M299.61 452.3h2.2M284.65 428.3h2.2M253.85 446.3h2.2M238.23 416.3h2.2M239.48 406.3h1.6M237.44 405.3h1M277.56 418.3h1M247.25 403.3h1M242.09 410.3h1.6M296.17 449.3h1M240.91 412.3h2.2M249.62 417.3h2.2M286.07 454.3h1.6M286.65 438.3h1.6M256.37 435.3h1M264.73 411.3h2.2M275.31 420.3h2.2M281.84 432.3h1.6M258.63 426.3h1.6M285.97 454.3h1M258.12 406.3h1M255.31 423.3h2.2M269.48 435.3h2.2M258.87 425.3h2.2M256.01 437.3h1M294.56 449.3h1.6M238 440.3h1M250.5 430.3h1.6M269.65 419.3h1M259.25 410.3h1M292.69 451.3h1M270.72 417.3h2.2M256.27 422.3h2.2M254.47 421.3h1.6M252.28 433.3h1.6M241.38 433.3h1.6M275.53 417.3h2.2M273.2 425.3h1.6M286.67 437.3h1" stroke="#31688e" stroke-width="1" fill="none" opacity="0.72"/>
<path d="M252.88 436.3h2.2M280.46 447.3h2.2M279.54 427.3h1M280.76 405.3h1M263.42 427.3h2.2M294.88 452.3h2.2M239.66 448.3h1.6M262.44 406.3h2.2M238.6 435.3h1.6M276.01 414.3h1M242.83 423.3h1.6M290.02 421.3h2.2M246.09 443.3h2.2M276.98 403.3h1.6M247.11 415.3h1.6M256.99 431.3h1M273.33 447.3h1M244.6 427.3h1M244.91 435.3h1M246.81 409.3h1.6M268.51 446.3h1M271.17 413.3h1M245.73 442.3h1.6M267.29 404.3h1M255.34 451.3h1M252.4 420.3h1.6M252.02 446.3h1.6M253.73 409.3h1.6M258.49 415.3h1.6M289.69 409.3h2.2M252.91 404.3h1M253.98 433.3h1.6M286.62 414.3h1M247.02 403.3h1.6M247.59 408.3h1M272 427.3h1M243.73 449.3h2.2M244.49 405.3h1.6M281.77 452.3h1M250.13 407.3h2.2M271.64 407.3h1M264.38 444.3h1.6M259.38 441.3h1M254.28 436.3h1.6M270.6 408.3h1.6M259.23 441.3h1.6M271.88 430.3h1.6M294.67 453.3h1.6M249.1 441.3h1.6M288.94 454.3h2.2M249.13 406.3h1.6M251.78 422.3h1.6M249.26 406.3h1M292.49 451.3h2.2M239.24 431.3h1.6M259.4 429.3h1M238.86 407.3h1M254.55 424.3h1M241.73 451.3h1M269.97 453.3h1.6M285.36 407.3h1M250.32 435.3h1M305.75 406.3h1M246.4 435.3h1M270.42 425.3h1.6M237.47 418.3h1.6M239.51 413.3h2.2M255.18 417.3h1M268.78 446.3h2.2M253.37 441.3h2.2M292.22 436.3h1.6M276.93 440.3h2.2M295.33 443.3h2.2M247.82 413.3h1M265.72 451.3h1.6M244.96 406.3h1.6M276.63 426.3h2.2M291.97 423.3h1M246.67 420.3h1.6M258.36 429.3h1M280.66 422.3h2.2M243.63 425.3h2.2M264.74 450.3h2.2M257.85 431.3h1M239.79 421.3h2.2M237.76 403.3h1.6M255.07 412.3h1" stroke="#3f3f85" stroke-width="1" fill="none" opacity="0.72"/>
<path d="M238.11 429.3h2.2M261.36 405.3h2.2M256.61 416.3h1M252.9 409.3h1.6M307.87 450.3h1M257.77 452.3h1.6M275.82 430.3h1M303.87 434.3h1M290.4 447.3h1M276.84 448.3h1M293.87 444.3h1M286.65 419.3h1.6M288.66 424.3h1.6M245.03 410.3h1M250.63 445.3h2.2M278.29 425.3h1.6M271.86 418.3h1M240.73 408.3h1.6M269.07 418.3h1M262.52 407.3h1.6M249.21 408.3h1M247.73 410.3h2.2M243.28 451.3h2.2M271.53 437.3h2.2M255.95 427.3h1.6M274.79 427.3h1.6M238.63 416.3h1M245 446.3h2.2M252.97 417.3h1M247.18 418.3h1.6M314.17 419.3h2.2M283.85 420.3h2.2M273.99 424.3h1M243.03 428.3h1M255.48 408.3h1.6M286.89 451.3h1M267.74 415.3h1M270.77 409.3h1M307.26 452.3h1M257.54 437.3h1M251.78 418.3h1M246.35 412.3h1M239.56 442.3h1M268.56 412.3h2.2M254.94 449.3h2.2M283.74 424.3h1M290.31 451.3h1M274.92 435.3h1.6M238.72 439.3h1.6M238.86 415.3h2.2M255.85 441.3h1M248.22 416.3h2.2M243.46 437.3h1M239.88 429.3h1.6M252.52 405.3h1M249.59 425.3h1" stroke="#7a9a50" stroke-width="1" fill="none" opacity="0.72"/>
<path d="M233.44 433.3h1M190.96 429.3h1M231.96 443.3h1M227.61 415.3h1M208.8 403.3h1M191.7 417.3h1M218.6 429.3h1M222.18 419.3h1M201.09 432.3h1M203.72 416.3h1M198.41 449.3h1M201.33 438.3h1M187.26 406.3h1M197.13 413.3h1M193.01 431.3h1M193.75 453.3h1M198.11 423.3h1M190.76 403.3h1M199.93 426.3h1M233.7 424.3h1M211.78 420.3h1M206.84 437.3h1M196.63 453.3h1M206.57 413.3h1M202.45 453.3h1M234.29 414.3h1M199.04 405.3h1M204.07 426.3h1M194.74 420.3h1M195.46 449.3h1M197.36 417.3h1M226.95 411.3h1M213.84 438.3h1M217.53 428.3h1M195.98 409.3h1M201.84 448.3h1M202.64 422.3h1M203.71 407.3h1M198.61 443.3h1M231.93 416.3h1M236.6 407.3h1M213.16 414.3h1M209.58 437.3h1M207.14 448.3h1M201.95 427.3h1M192.59 409.3h1M199.67 429.3h1M197.52 444.3h1M194.46 417.3h1M221.74 441.3h1M198.38 417.3h1M209.48 422.3h1M225.25 420.3h1M201.22 441.3h1M203.77 428.3h1M232.76 431.3h1M193.11 451.3h1M194.33 409.3h1M192.86 433.3h1M232.43 407.3h1M229.71 404.3h1M199.95 404.3h1M202.25 433.3h1M191.36 427.3h1M193.63 428.3h1M197.93 416.3h1M200.02 452.3h1M191.66 443.3h1M209.15 409.3h1M193.54 428.3h1M219.51 435.3h1M220.48 437.3h1M202.53 408.3h1M208.26 442.3h1M202.05 437.3h1M210.87 419.3h1M200.1 418.3h1M222.05 428.3h1M225.8 404.3h1M203.16 418.3h1M187.26 453.3h1M198.96 450.3h1M198.88 436.3h1M194.51 410.3h1M214.61 417.3h1M205.47 425.3h1M196.13 451.3h1M207.78 424.3h1M200.75 450.3h1M190.23 425.3h1M202.28 436.3h1M194.56 431.3h1M219.79 421.3h1M202.64 416.3h1M199.83 406.3h1M209.33 411.3h1M192.18 453.3h1M196.32 427.3h1M235 414.3h1M208.3 451.3h1M193.32 426.3h1M192.43 445.3h1M196.44 443.3h1M199.52 451.3h1M201.48 413.3h1M209.02 450.3h1M237.2 407.3h1M196.33 417.3h1M206.57 435.3h1M200.73 447.3h1M198.12 429.3h1M206.05 453.3h1M227.21 409.3h1M213.11 409.3h1M228.86 414.3h1M206.83 454.3h1M212.14 412.3h1M235.24 424.3h1M220.09 413.3h1M214.25 444.3h1M205.33 417.3h1M192.02 411.3h1M205.2 409.3h1M236.88 425.3h1M203.95 431.3h1M196.25 425.3h1M203.91 434.3h1M207.68 426.3h1M231.99 425.3h1M194.21 405.3h1M197.38 452.3h1M215.28 410.3h1M209.9 417.3h1M228.46 423.3h1M195.85 442.3h1M231.06 421.3h1M213.74 428.3h1M205.74 432.3h1M202.66 419.3h1M210.04 410.3h1M231.67 424.3h1M196.52 416.3h1M228.41 409.3h1M208.02 420.3h1M236.66 425.3h1M236.31 403.3h1M192.2 432.3h1M202.31 436.3h1M204.71 451.3h1M208.91 443.3h1M197.77 449.3h1M194.28 427.3h1M195.81 416.3h1M231.2 412.3h1M196.53 444.3h1M196.6 444.3h1M203.1 437.3h1M206.55 452.3h1M192.84 437.3h1M192.72 451.3h1M211.34 431.3h1M202.26 433.3h1M207 421.3h1M229.39 449.3h1M212.7 405.3h1M219.45 415.3h1M200.73 426.3h1M198.33 411.3h1M202.72 445.3h1M212.29 421.3h1M205.64 420.3h1M207.14 425.3h1M210.61 443.3h1M225.88 426.3h1M228.21 409.3h1M203.99 439.3h1M194.85 436.3h1M214.41 422.3h1M195.01 427.3h1M203.81 418.3h1M198.38 452.3h1M207.57 414.3h1M197.31 409.3h1M208.26 403.3h1M203.97 418.3h1M205.1 425.3h1M202.27 440.3h1M201.66 424.3h1M202.19 410.3h1M210.85 445.3h1M198.64 420.3h1M199.56 436.3h1M202.37 454.3h1M200.22 431.3h1M202.52 411.3h1M202.35 434.3h1M199.46 409.3h1M206.01 422.3h1M198.58 410.3h1M198.73 445.3h1M200.83 443.3h1M201.18 417.3h1M210.6 430.3h1M204.81 433.3h1M201.47 403.3h1M197.36 414.3h1M198.2 412.3h1M211.69 435.3h1M204.6 443.3h1M200.1 433.3h1M210.07 448.3h1M203.67 425.3h1M197 421.3h1M205.98 422.3h1M200.21 445.3h1M203.42 437.3h1M205.59 438.3h1M200.24 443.3h1M198.62 414.3h1M208.89 439.3h1M211.45 421.3h1M200.42 410.3h1M200.84 417.3h1M211.11 452.3h1M214 435.3h1M199.21 430.3h1M210.63 438.3h1M206.78 436.3h1M200.56 425.3h1M206.89 430.3h1M198.16 437.3h1M200.2 450.3h1M200.78 420.3h1M210.36 446.3h1M199.1 450.3h1M203.29 416.3h1M209.03 439.3h1M215.01 440.3h1M202.12 430.3h1M208.39 430.3h1M211.52 433.3h1M200.8 422.3h1M202.55 416.3h1M198.51 428.3h1M198.05 403.3h1M208.44 415.3h1M204.33 410.3h1M201.53 416.3h1M197.85 452.3h1M211.15 403.3h1M220.08 415.3h1M201.97 437.3h1M198.85 452.3h1M202.84 446.3h1M210.69 427.3h1M210.68 451.3h1M203.5 446.3h1M212.7 422.3h1M198.1 411.3h1M199.73 408.3h1M210.73 410.3h1M205.96 410.3h1M208.41 407.3h1M210.6 427.3h1M198.13 438.3h1M204.73 404.3h1M198.76 434.3h1M211.74 427.3h1M200.37 430.3h1M198.95 447.3h1M210.15 411.3h1M203.11 414.3h1M202.58 404.3h1M198.54 440.3h1M216.42 439.3h1M199.2 438.3h1M211.99 403.3h1M197.45 450.3h1M210.67 413.3h1M201.47 434.3h1M197.34 428.3h1M205.51 435.3h1M197.55 454.3h1M199.74 428.3h1M198.54 410.3h1M201.62 431.3h1M197.98 411.3h1M224.39 415.3h1M201.38 405.3h1M206.82 411.3h1M199.64 415.3h1M200.42 413.3h1M202.63 423.3h1M210.04 407.3h1M201.97 407.3h1M208.67 439.3h1M206.29 441.3h1M199.14 426.3h1M202.91 413.3h1M206.85 415.3h1M215.46 413.3h1M197.74 446.3h1M203.95 423.3h1M200.05 426.3h1M201.82 420.3h1M198.68 436.3h1M198.73 448.3h1M198.08 403.3h1M210.88 429.3h1M200.16 446.3h1M205.68 452.3h1M204.04 429.3h1M200.11 410.3h1M205.85 444.3h1M199.63 440.3h1M211.99 416.3h1M198.86 416.3h1M204.89 419.3h1M197.4 443.3h1M200.27 405.3h1M217.31 449.3h1M201.15 405.3h1M201.58 434.3h1M198.68 415.3h1M218 434.3h1M203.62 450.3h1M210.03 437.3h1M207.52 441.3h1M202.13 429.3h1M211.51 450.3h1M209.52 440.3h1M202.67 424.3h1M205.46 413.3h1M211.17 437.3h1M202.46 414.3h1M209.25 405.3h1M199.34 445.3h1M199.97 441.3h1M216.05 429.3h1M205.89 405.3h1M197.65 416.3h1M198.15 445.3h1M200.67 413.3h1M201.72 421.3h1M202.48 452.3h1M202.89 437.3h1M198.16 424.3h1M203.81 449.3h1M201.24 430.3h1M198.06 414.3h1M204.27 434.3h1M204.96 430.3h1M213.32 403.3h1M202.6 403.3h1M207.69 406.3h1M191.63 443.3h1M192.23 444.3h1M191.52 421.3h1M191.28 432.3h1M192.35 407.3h1M191.35 428.3h1M191.95 445.3h1M192.56 452.3h1M191.51 412.3h1M191.71 423.3h1M192.21 403.3h1M192.15 434.3h1M192.13 448.3h1M191.25 452.3h1M192.47 409.3h1M191.86 418.3h1M192.89 429.3h1M191.46 408.3h1M190.72 438.3h1M191.73 452.3h1M192.17 426.3h1M192.78 414.3h1M192.83 428.3h1M191.83 421.3h1M191.14 449.3h1M192.18 453.3h1M191.13 439.3h1M192.63 442.3h1M191.45 438.3h1M192.45 445.3h1M192.14 429.3h1M192.39 429.3h1M192.63 451.3h1M191.98 424.3h1M190.85 416.3h1M192.51 410.3h1M191.59 405.3h1M192.46 444.3h1M192.65 448.3h1M192.22 445.3h1M191.78 408.3h1M192.76 448.3h1M191.93 444.3h1M191.44 443.3h1M192.28 418.3h1M192.35 424.3h1M191.23 452.3h1M191.75 410.3h1M191.53 452.3h1M192.63 436.3h1M191.9 406.3h1M191.18 415.3h1M192.57 440.3h1M192.23 425.3h1M191.82 409.3h1M209.06 402.8h1M210.57 411.58h1M211.04 413.77h1M211.92 417.43h1M212.11 418.16h1M212.31 418.89h1M212.51 419.62h1M214.64 426.21h1M216.1 429.86h1M216.75 431.33h1M219.82 437.18h1M221.21 439.37h1M225.73 445.22h1M233.93 452.54h1M234.97 453.27h1M211.96 402.8h1M212.32 404.99h1M212.45 405.73h1M212.58 406.46h1M213.96 413.04h1M214.71 415.97h1M215.77 419.62h1M216.24 421.09h1M216.49 421.82h1M218.13 426.21h1M219.74 429.86h1M221.23 432.79h1M221.63 433.52h1M224.86 438.64h1M226.5 440.83h1M229.67 444.49h1M231.9 446.69h1M233.55 448.15h1M234.42 448.88h1M237.3 451.07h1M238.35 451.81h1M230.31 410.85h1M231.08 413.04h1M232.52 416.7h1M259.76 447.42h1M266.79 451.07h1M270.08 452.54h1" stroke="#e3a92c" stroke-width="1" fill="none"/>
<path d="M224.23 409.3h1M234.62 421.3h1M211.85 453.3h1M203.01 443.3h1M194.35 432.3h1M220.43 426.3h1M191.56 437.3h1M197.51 427.3h1M205.01 435.3h1M188.91 418.3h1M220.59 426.3h1M197.71 428.3h1M230.27 428.3h1M205.46 410.3h1M225.72 441.3h1M236.5 412.3h1M209.92 418.3h1M218.83 417.3h1M203.5 450.3h1M202.23 436.3h1M203.08 416.3h1M209.54 432.3h1M201.65 444.3h1M226.88 424.3h1M210.82 403.3h1M199.72 416.3h1M224.33 446.3h1M201.33 407.3h1M205.16 440.3h1M206.27 441.3h1M206.19 431.3h1M205.99 451.3h1M219.01 435.3h1M211.1 410.3h1M213.25 420.3h1M220.2 440.3h1M203.44 444.3h1M198.86 440.3h1M206.46 426.3h1M237.17 415.3h1M199.69 451.3h1M235.79 407.3h1M235.5 418.3h1M198.21 435.3h1M198.89 411.3h1M225.5 405.3h1M232.8 437.3h1M192.44 441.3h1M192.71 411.3h1M200.78 439.3h1M206.49 450.3h1M236.3 404.3h1M208.52 403.3h1M218.59 450.3h1M205.01 447.3h1M204.61 431.3h1M207.61 427.3h1M205.18 446.3h1M199.09 444.3h1M197.49 422.3h1M199.39 408.3h1M211.65 431.3h1M200.19 404.3h1M203.23 453.3h1M202.65 414.3h1M204.59 437.3h1M208.23 441.3h1M198.07 426.3h1M201.54 413.3h1M217.12 427.3h1M201.87 450.3h1M208.27 436.3h1M208.7 427.3h1M209.64 406.3h1M203.91 415.3h1M209.75 404.3h1M203.93 432.3h1M201.84 405.3h1M215.81 412.3h1M199.1 444.3h1M206.42 422.3h1M198.94 441.3h1M197.45 453.3h1M201.16 451.3h1M207.63 404.3h1M197 418.3h1M200.18 426.3h1M202.35 440.3h1M199.35 431.3h1M207.34 413.3h1M206.22 424.3h1M207.18 426.3h1M222.54 427.3h1M205.43 447.3h1M205.43 447.3h1M197.26 454.3h1M211.26 404.3h1M200.67 431.3h1M198.37 441.3h1M202.4 451.3h1M204.56 419.3h1M210.3 435.3h1M203.65 435.3h1M200.07 415.3h1M197.4 432.3h1M201.7 448.3h1M204.33 420.3h1M210.96 413.3h1M198.54 415.3h1M206.63 412.3h1M202 430.3h1M205.56 419.3h1M198.83 448.3h1M211.35 405.3h1M201.93 451.3h1M206.65 417.3h1M197.47 453.3h1M213.42 427.3h1M203.67 409.3h1M206.3 429.3h1M209.59 448.3h1" stroke="#f2cf27" stroke-width="1" fill="none"/>
<path d="M198.39 423.3h1M209.54 418.3h1M196.87 408.3h1M199.71 454.3h1M200.87 415.3h1M194.02 416.3h1M197.23 435.3h1M193.96 415.3h1M202.3 443.3h1M200.15 409.3h1M230.16 407.3h1M233.16 407.3h1M216.72 435.3h1M229.7 452.3h1M236.24 420.3h1M202.53 425.3h1M222.81 453.3h1M211.5 427.3h1M208.47 437.3h1M227.23 404.3h1M193.57 454.3h1M222.12 454.3h1M189.89 431.3h1M204.09 419.3h1M199.11 427.3h1M221 410.3h1M207.56 403.3h1M230.78 409.3h1M235.76 449.3h1M211.49 416.3h1M195.45 440.3h1M227.73 405.3h1M232.95 439.3h1M196.93 414.3h1M231.69 408.3h1M205.55 431.3h1M199.07 427.3h1M193.87 424.3h1M195.15 424.3h1M198.57 407.3h1M216.32 451.3h1M197.23 430.3h1M193.36 446.3h1M235.78 440.3h1M198.99 451.3h1M194.33 410.3h1M200.12 419.3h1M230.93 412.3h1M217.31 410.3h1M196.4 419.3h1M193.68 404.3h1M212.56 413.3h1M191.96 433.3h1M211.84 403.3h1M191.39 416.3h1M190.77 435.3h1M203.82 439.3h1M236.17 407.3h1M210.46 423.3h1M203.66 432.3h1M191.86 434.3h1M196.8 423.3h1M200.81 406.3h1M191.11 445.3h1M208.42 405.3h1M207.02 422.3h1M189.61 428.3h1M202.04 408.3h1M187.86 415.3h1M216 415.3h1M191.42 444.3h1M199.99 430.3h1M206.18 424.3h1M202.87 439.3h1M197.53 435.3h1M235.02 423.3h1M226.36 409.3h1M200.21 441.3h1M230.9 413.3h1M236.77 410.3h1M194.64 421.3h1M201.47 410.3h1M193.02 448.3h1M196.77 425.3h1M200.79 451.3h1M236.43 424.3h1M193.93 421.3h1M210.52 448.3h1M212.87 406.3h1M205.16 453.3h1M201.94 441.3h1M216.93 454.3h1M193.38 446.3h1M225.94 420.3h1M191.33 405.3h1M188.96 429.3h1M224.55 408.3h1M211.2 408.3h1M206.03 418.3h1M211.05 407.3h1M233.08 435.3h1M209.78 410.3h1M195.24 422.3h1M200.62 410.3h1M202.58 449.3h1M190.61 427.3h1M193.2 412.3h1M199.54 415.3h1M237.13 440.3h1M214.02 414.3h1M207.73 440.3h1M218.34 432.3h1M206.33 436.3h1M232.5 422.3h1M229.06 407.3h1M202.13 408.3h1M221.48 440.3h1M197.01 418.3h1M194.39 440.3h1M202.45 407.3h1M197.74 441.3h1M236.96 436.3h1M199.5 406.3h1M211.12 415.3h1M212.17 419.3h1M212.34 439.3h1M191.4 409.3h1M221.29 445.3h1M187.75 441.3h1M197.66 445.3h1M196.46 403.3h1M208.94 434.3h1M203.33 414.3h1M191.65 426.3h1M199.35 428.3h1M188.99 432.3h1M203.7 423.3h1M215.73 440.3h1M194.52 443.3h1M205.52 429.3h1M194.15 403.3h1M212.92 448.3h1M198.88 405.3h1M202.24 415.3h1M231.79 405.3h1M225.08 425.3h1M188.97 447.3h1M207.7 413.3h1M225.66 435.3h1M210.11 408.3h1M194.3 415.3h1M188.9 412.3h1M217.89 429.3h1M200.37 437.3h1M187.32 440.3h1M208.79 418.3h1M192.58 417.3h1M209.17 403.53h1M209.51 405.73h1M210.72 412.31h1M214.92 426.94h1M215.79 429.13h1M217.81 433.52h1M218.19 434.25h1M221.7 440.1h1M222.74 441.57h1M223.87 443.03h1M224.47 443.76h1M228.59 448.15h1M212.08 403.53h1M212.85 407.92h1M215.12 417.43h1M215.33 418.16h1M216 420.35h1M217.55 424.74h1M222.92 435.71h1M227.7 442.3h1M236.3 450.34h1M239.45 452.54h1M241.82 454h1M228.56 404.99h1M229.38 407.92h1M232.84 417.43h1M235.33 422.55h1M236.14 424.01h1M238.39 427.67h1M252.09 442.3h1M262.39 448.88h1" stroke="#9c7c4c" stroke-width="1" fill="none"/>
<path d="M204.88 422.3h1M224.03 412.3h1M197.14 427.3h1M191.63 423.3h1M198.98 415.3h1M222.43 451.3h1M210 419.3h1M232.8 451.3h1M204.49 430.3h1M203.59 426.3h1M224.13 421.3h1M227.23 418.3h1M217.55 426.3h1M202.21 422.3h1M232.79 422.3h1M198.79 439.3h1M204 404.3h1M202.72 416.3h1M230.5 404.3h1M197.65 419.3h1M193.18 429.3h1M195.88 420.3h1M219.76 424.3h1M193.84 420.3h1M233.25 447.3h1M198.78 422.3h1M235.14 415.3h1M198.99 425.3h1M195.77 415.3h1M214.15 430.3h1M232.33 405.3h1M212.48 442.3h1M191.53 436.3h1M208.68 405.3h1M199.61 422.3h1M187.92 421.3h1M231.2 414.3h1M212.51 415.3h1M209.18 431.3h1M195.17 445.3h1M207.98 432.3h1M201.67 428.3h1M236.6 407.3h1M201.64 449.3h1M202.9 411.3h1M234.35 412.3h1M237.17 425.3h1M197.71 426.3h1M228.62 434.3h1M205.38 453.3h1M215.84 404.3h1M194.35 409.3h1M198.99 442.3h1M192.59 437.3h1M192.17 437.3h1M196.51 417.3h1M205.04 425.3h1M196.16 426.3h1M198.82 435.3h1M192.43 439.3h1M225.6 403.3h1M207.71 426.3h1M218.99 407.3h1M213.05 443.3h1M231.7 442.3h1M196.9 445.3h1M193.99 438.3h1M202.86 440.3h1M201.6 445.3h1M236.73 421.3h1M226.92 405.3h1M199.37 429.3h1M201.18 425.3h1M216.3 430.3h1M230.31 441.3h1M212.7 423.3h1M199.5 420.3h1M204.71 436.3h1M237 404.3h1M199.36 417.3h1M193.89 448.3h1M194.34 442.3h1M200.8 444.3h1M204.49 451.3h1M210.4 421.3h1M203.34 404.3h1M196.4 436.3h1M206.7 454.3h1M196.02 429.3h1M232.67 412.3h1M194.51 436.3h1M194.27 403.3h1M207.76 423.3h1M203.67 411.3h1M204.43 436.3h1M227.5 405.3h1M205.53 448.3h1M210.01 438.3h1M209.66 454.3h1M213.19 420.3h1M213.16 441.3h1M200.56 416.3h1M230.44 431.3h1M232.53 447.3h1M187.51 404.3h1M187.44 438.3h1M200.82 414.3h1M191.71 452.3h1M222.86 419.3h1M201.91 404.3h1M212.24 453.3h1M230.35 417.3h1M216.25 454.3h1M216.82 452.3h1M205.41 416.3h1M195.14 448.3h1M208.41 424.3h1M200.3 433.3h1M205.04 444.3h1M234.44 410.3h1M199.42 430.3h1M205.94 451.3h1M235.37 403.3h1M197.1 415.3h1M209.34 411.3h1M206.61 450.3h1M194.37 443.3h1M207.02 421.3h1M222.38 420.3h1M196.33 453.3h1M207.36 430.3h1M205.39 441.3h1M196.24 433.3h1M189.89 414.3h1M188.29 422.3h1M211.32 449.3h1M232.32 421.3h1M205.37 426.3h1M223.83 423.3h1M190.4 403.3h1M226.27 422.3h1M225.79 428.3h1M192.36 441.3h1M198.3 410.3h1M192.02 406.3h1M192.98 415.3h1M193.92 425.3h1M202.89 418.3h1M193.01 416.3h1M206.3 444.3h1M206.02 407.3h1M222.77 405.3h1M200.13 423.3h1M216.48 410.3h1M236.06 424.3h1M197.35 449.3h1M195.72 443.3h1M201.52 450.3h1" stroke="#3a8a8a" stroke-width="1" fill="none"/>
<path d="M192.81 404.3h1M206.1 421.3h1M229.62 424.3h1M194.11 416.3h1M217.14 403.3h1M208.69 407.3h1M236.29 424.3h1M200 450.3h1M221.42 404.3h1M196.54 443.3h1M208.48 410.3h1M231.38 442.3h1M206.63 421.3h1M220.47 434.3h1M233.47 408.3h1M207.57 416.3h1M206.83 411.3h1M203.22 412.3h1M187.47 406.3h1M212.62 416.3h1M206.08 411.3h1M236.73 432.3h1M198.26 413.3h1M208.34 417.3h1M204.78 446.3h1M195.74 430.3h1M211.86 418.3h1M214.16 440.3h1M195.77 424.3h1M205.49 410.3h1M199.4 414.3h1M195.25 421.3h1M201.83 409.3h1M226.99 412.3h1M190.64 445.3h1M196.07 440.3h1M187.82 447.3h1M197.79 444.3h1M198.97 430.3h1M188.68 448.3h1M211.59 448.3h1M192.19 429.3h1M206.31 415.3h1M194.04 452.3h1M201.22 437.3h1M228.62 442.3h1M232.49 441.3h1M187.86 432.3h1M212.11 411.3h1M209.69 442.3h1M199.34 407.3h1M203.65 451.3h1M228.19 450.3h1M200.44 447.3h1M205.76 433.3h1M192.99 430.3h1M203.29 437.3h1M214.06 436.3h1M236 408.3h1M236.15 434.3h1M205.66 453.3h1M223.37 423.3h1M206.31 431.3h1M190.41 427.3h1M230.71 417.3h1M197.87 437.3h1M191.92 441.3h1M195.84 444.3h1M222.59 451.3h1M207.51 410.3h1M196.01 451.3h1M198.91 414.3h1M221.45 409.3h1M234.83 432.3h1M231.45 417.3h1M235.3 407.3h1M193.89 445.3h1M211.6 405.3h1M225.49 408.3h1M196.94 434.3h1M209.39 431.3h1M207.08 408.3h1M187.51 448.3h1M199.35 411.3h1M236.19 454.3h1M202.8 443.3h1M234.66 419.3h1M232.45 419.3h1M201.29 420.3h1M191.77 438.3h1M215.08 427.3h1M216.24 451.3h1M211.61 424.3h1M199.55 421.3h1M203.79 452.3h1M225.54 454.3h1M189.54 433.3h1M235.01 427.3h1M192.57 417.3h1M193.82 413.3h1M201.28 444.3h1M222.13 406.3h1M234.73 421.3h1M217.58 418.3h1M204.3 454.3h1M211.19 420.3h1M193.51 408.3h1M235.44 409.3h1M234.35 439.3h1M224.83 418.3h1M201.41 445.3h1" stroke="#31688e" stroke-width="1" fill="none"/>
<path d="M197.86 428.3h1M196.89 417.3h1M232.93 447.3h1M194.7 449.3h1M236.55 447.3h1M197.75 419.3h1M229.02 409.3h1M229.77 415.3h1M192.9 421.3h1M200.42 433.3h1M227.76 409.3h1M222.11 448.3h1M213.66 451.3h1M227.62 429.3h1M197.34 413.3h1M230.16 428.3h1M188.26 409.3h1M215.08 435.3h1M200.92 435.3h1M210.5 406.3h1M209.99 445.3h1M197.47 450.3h1M213.62 452.3h1M208.82 437.3h1M219.8 437.3h1M207.81 419.3h1M193.86 417.3h1M191.58 413.3h1M216.18 407.3h1M229.65 417.3h1M194.82 451.3h1M202.04 432.3h1M232.56 451.3h1M228.31 426.3h1M197.18 433.3h1M195.13 411.3h1M217.63 451.3h1M235.34 416.3h1M189.58 443.3h1M197.09 437.3h1M211.12 434.3h1M224.75 424.3h1M235.63 416.3h1M192.48 435.3h1M200.78 445.3h1M192.39 423.3h1M195.91 439.3h1M200.49 454.3h1M193.71 421.3h1M234.6 406.3h1M217.49 449.3h1M195.17 425.3h1M206.51 434.3h1M194.27 406.3h1M201.04 419.3h1M200.08 438.3h1M227.5 432.3h1M200.59 437.3h1M194.88 403.3h1M233.67 406.3h1M206.44 448.3h1M194.02 429.3h1M195.2 431.3h1M208.95 415.3h1M219.93 433.3h1M200.28 449.3h1M213.92 417.3h1M199.87 442.3h1M187.23 448.3h1M202.44 448.3h1M203.07 432.3h1M205.9 412.3h1M231 449.3h1M188.48 429.3h1M212.08 447.3h1M191.67 454.3h1M206.05 446.3h1M202.9 408.3h1M236.01 442.3h1M208.85 423.3h1M236.05 419.3h1M220.25 429.3h1M209.77 422.3h1M193.66 412.3h1M192.71 428.3h1M211.84 419.3h1M206.38 447.3h1M200.35 432.3h1M185.42 427.3h1M184.32 409.3h1M183.09 443.3h1M186.09 420.3h1M186.08 441.3h1M186.21 430.3h1M184.16 454.3h1M186.26 428.3h1M184.89 407.3h1M186.44 403.3h1M182.73 420.3h1M182.57 435.3h1M186.08 426.3h1M185.69 434.3h1M184.96 424.3h1M184.49 418.3h1M185.37 403.3h1M182.41 440.3h1M185.06 451.3h1M185.34 442.3h1M184.42 435.3h1M184.15 404.3h1M183.35 425.3h1M185.19 451.3h1M186.15 405.3h1M182.89 420.3h1M185.54 452.3h1M184.65 420.3h1M185.36 424.3h1M182.27 417.3h1M184.64 411.3h1M184.17 408.3h1M182.5 415.3h1M183.44 454.3h1M182.47 438.3h1M185.01 446.3h1M186.36 438.3h1M182.4 437.3h1M182.88 447.3h1M183.26 430.3h1M182.97 406.3h1M182.9 405.3h1M183.5 432.3h1M186.14 420.3h1M183.59 454.3h1M183.7 443.3h1M182.81 436.3h1M184.26 444.3h1M184.6 411.3h1M183.8 427.3h1M185.07 403.3h1M183.55 409.3h1M185.92 440.3h1M184.95 422.3h1M186.5 415.3h1M183.19 412.3h1M183.68 440.3h1M184.45 412.3h1M185.09 424.3h1M184.9 441.3h1" stroke="#3f3f85" stroke-width="1" fill="none"/>
<path d="M228.35 411.3h1M206.2 412.3h1M200.71 426.3h1M230.88 436.3h1M230.7 417.3h1M193.88 420.3h1M204.68 414.3h1M226.91 406.3h1M214.78 415.3h1M213 409.3h1M202.59 438.3h1M196.71 422.3h1M200.13 438.3h1M217.15 424.3h1M207.13 414.3h1M205.45 452.3h1M197.71 414.3h1M205.25 451.3h1M188.31 422.3h1M232.36 452.3h1M197.03 449.3h1M204 415.3h1M198.73 453.3h1M214.05 424.3h1M196.32 409.3h1M231.23 426.3h1M191.55 419.3h1M217.36 409.3h1M199.31 450.3h1M198.93 426.3h1M211.03 403.3h1M210.84 446.3h1M209.96 412.3h1M229.66 441.3h1M202.35 447.3h1M194.83 419.3h1M222.17 446.3h1M207.27 443.3h1M188.75 449.3h1M211.37 404.3h1M191.74 408.3h1M210.72 449.3h1M226.4 413.3h1M218.11 426.3h1M224.73 437.3h1M207.26 410.3h1M219.98 439.3h1M201.7 453.3h1M206.95 427.3h1M209.76 450.3h1M215.81 444.3h1M192.88 440.3h1M207.63 407.3h1M200.98 413.3h1M204.32 417.3h1M224.7 403.3h1M192.21 446.3h1M216.22 411.3h1M223.2 440.3h1M223.52 409.3h1M221.92 426.3h1M200.21 428.3h1M227.97 410.3h1" stroke="#7a9a50" stroke-width="1" fill="none"/>
<polyline points="196.06,402.8 196.62,403.8 196.6,404.8 196.04,405.8 195.48,406.8 195.37,407.8 195.6,408.8 195.64,409.8 195.16,410.8 194.41,411.8 193.98,412.8 194.18,413.8 194.72,414.8 195.04,415.8 194.9,416.8 194.65,417.8 194.82,418.8 195.51,419.8 196.26,420.8 196.49,421.8 196.17,422.8 195.75,423.8 195.73,424.8 196.05,425.8 196.21,426.8 195.81,427.8 195,428.8 194.39,429.8 194.36,430.8 194.71,431.8 194.9,432.8 194.65,433.8 194.24,434.8 194.24,435.8 194.85,436.8 195.64,437.8 196.05,438.8 195.91,439.8 195.63,440.8 195.73,441.8 196.21,442.8 196.58,443.8 196.37,444.8 195.66,445.8 194.99,446.8 194.83,447.8 195.05,448.8 195.15,449.8 194.77,450.8 194.17,451.8 193.92,452.8 194.32,453.8 195.03,454.8" fill="none" stroke="#e3a92c" stroke-width="6" opacity="0.45"/>
<polyline points="196.06,402.8 196.62,403.8 196.6,404.8 196.04,405.8 195.48,406.8 195.37,407.8 195.6,408.8 195.64,409.8 195.16,410.8 194.41,411.8 193.98,412.8 194.18,413.8 194.72,414.8 195.04,415.8 194.9,416.8 194.65,417.8 194.82,418.8 195.51,419.8 196.26,420.8 196.49,421.8 196.17,422.8 195.75,423.8 195.73,424.8 196.05,425.8 196.21,426.8 195.81,427.8 195,428.8 194.39,429.8 194.36,430.8 194.71,431.8 194.9,432.8 194.65,433.8 194.24,434.8 194.24,435.8 194.85,436.8 195.64,437.8 196.05,438.8 195.91,439.8 195.63,440.8 195.73,441.8 196.21,442.8 196.58,443.8 196.37,444.8 195.66,445.8 194.99,446.8 194.83,447.8 195.05,448.8 195.15,449.8 194.77,450.8 194.17,451.8 193.92,452.8 194.32,453.8 195.03,454.8" fill="none" stroke="#f1d026" stroke-width="3.3" opacity="0.92" stroke-dasharray="6 0.7 3 0.5 4.5 0.8"/>
<polyline points="206.7,402.8 206.98,403.8 207.17,404.8 207.19,405.8 207.04,406.8 206.77,407.8 206.48,408.8 206.26,409.8 206.2,410.8 206.31,411.8 206.56,412.8 206.86,413.8 207.1,414.8 207.2,415.8 207.13,416.8 206.91,417.8 206.61,418.8 206.35,419.8 206.21,420.8 206.24,421.8 206.43,422.8 206.72,423.8 207,424.8 207.17,425.8 207.18,426.8 207.03,427.8 206.75,428.8 206.46,429.8 206.26,430.8 206.2,431.8 206.32,432.8 206.58,433.8 206.87,434.8 207.11,435.8 207.2,436.8 207.12,437.8 206.89,438.8 206.6,439.8 206.34,440.8 206.21,441.8 206.25,442.8 206.45,443.8 206.73,444.8 207.01,445.8 207.18,446.8 207.18,447.8 207.01,448.8 206.74,449.8 206.45,450.8 206.25,451.8 206.21,452.8 206.34,453.8 206.59,454.8" fill="none" stroke="#e3a92c" stroke-width="1.7" opacity="0.75" stroke-dasharray="1.8 1.4 3 1.2"/>
<path d="M197.12 404.3h1M196.19 443.3h1M196.2 438.3h1M193.84 444.3h1M197.49 453.3h1M197.23 428.3h1M195.05 446.3h1M193.41 451.3h1M196.28 425.3h1M196.93 438.3h1M193.44 418.3h1M194.65 446.3h1M195.01 416.3h1M195.91 426.3h1M196.59 443.3h1M196.77 447.3h1M194.25 415.3h1M196.03 445.3h1M197.35 404.3h1M194.42 410.3h1M196.86 411.3h1M196.5 420.3h1M196.91 419.3h1M193.48 423.3h1M193.95 434.3h1M194.1 408.3h1M196.94 435.3h1M195.02 453.3h1M196.07 454.3h1M195.74 449.3h1M193.42 417.3h1M194.41 445.3h1M194.96 412.3h1M195.27 446.3h1M196.98 419.3h1M195.66 421.3h1M195.51 417.3h1M196.93 438.3h1M193.38 437.3h1M194.4 424.3h1M197.1 435.3h1M193.79 431.3h1M195.9 436.3h1M194.8 426.3h1M193.52 452.3h1M196.99 422.3h1M194.26 416.3h1M197.26 427.3h1M193.5 453.3h1M196.08 446.3h1M195.45 444.3h1M194.22 422.3h1M194.03 421.3h1M195.97 427.3h1M196.95 437.3h1" stroke="#5a2a60" stroke-width="1" fill="none"/>
<polygon points="216.98,402.8 217.22,404.08 217.47,405.36 217.74,406.64 218.01,407.92 218.31,409.2 218.62,410.48 218.94,411.76 219.29,413.04 219.65,414.32 220.03,415.6 220.43,416.88 220.86,418.16 221.3,419.44 221.77,420.72 222.26,422 222.78,423.28 223.33,424.56 223.91,425.84 224.51,427.12 225.15,428.4 225.83,429.68 226.55,430.96 227.3,432.24 228.1,433.52 228.95,434.8 229.85,436.08 230.8,437.36 231.81,438.64 232.89,439.92 234.03,441.2 235.26,442.48 236.56,443.76 237.96,445.04 239.46,446.32 241.07,447.6 242.81,448.88 244.68,450.16 246.71,451.44 248.91,452.72 251.31,454 266.37,454 263.45,452.72 260.77,451.44 258.3,450.16 256.01,448.88 253.9,447.6 251.94,446.32 250.11,445.04 248.41,443.76 246.81,442.48 245.32,441.2 243.93,439.92 242.62,438.64 241.39,437.36 240.23,436.08 239.13,434.8 238.1,433.52 237.13,432.24 236.21,430.96 235.34,429.68 234.51,428.4 233.73,427.12 232.99,425.84 232.29,424.56 231.62,423.28 230.99,422 230.39,420.72 229.82,419.44 229.28,418.16 228.76,416.88 228.27,415.6 227.81,414.32 227.37,413.04 226.95,411.76 226.55,410.48 226.17,409.2 225.82,407.92 225.48,406.64 225.16,405.36 224.85,404.08 224.56,402.8" fill="#440154" opacity="0.45"/>
<polyline points="216.2,402.8 216.43,404.08 216.67,405.36 216.93,406.64 217.2,407.92 217.49,409.2 217.79,410.48 218.11,411.76 218.45,413.04 218.8,414.32 219.17,415.6 219.57,416.88 219.98,418.16 220.41,419.44 220.87,420.72 221.35,422 221.86,423.28 222.4,424.56 222.96,425.84 223.55,427.12 224.18,428.4 224.84,429.68 225.54,430.96 226.28,432.24 227.06,433.52 227.89,434.8 228.76,436.08 229.7,437.36 230.68,438.64 231.74,439.92 232.86,441.2 234.05,442.48 235.33,443.76 236.7,445.04 238.16,446.32 239.74,447.6 241.43,448.88 243.27,450.16 245.25,451.44 247.4,452.72 249.74,454" fill="none" stroke="#f3d426" stroke-width="1.6" stroke-dasharray="5 0.4 2.5 0.3" stroke-dashoffset="3.4"/>
<polyline points="225.35,402.8 225.65,404.08 225.96,405.36 226.28,406.64 226.63,407.92 226.99,409.2 227.38,410.48 227.78,411.76 228.21,413.04 228.66,414.32 229.13,415.6 229.63,416.88 230.16,418.16 230.71,419.44 231.29,420.72 231.9,422 232.54,423.28 233.22,424.56 233.94,425.84 234.69,427.12 235.49,428.4 236.33,429.68 237.21,430.96 238.15,432.24 239.14,433.52 240.19,434.8 241.31,436.08 242.49,437.36 243.74,438.64 245.08,439.92 246.5,441.2 248.02,442.48 249.64,443.76 251.37,445.04 253.24,446.32 255.23,447.6 257.39,448.88 259.71,450.16 262.23,451.44 264.96,452.72 267.93,454" fill="none" stroke="#f3d426" stroke-width="1.6" stroke-dasharray="5 0.4 2.5 0.3" stroke-dashoffset="1.0"/>
<rect x="186.9" y="402.8" width="1.25" height="51.2" fill="#f5d926"/>
</g>
<linearGradient id="lg2" x1="0" y1="0" x2="1" y2="0"><stop offset="0" stop-color="#443a83"/><stop offset="0.05" stop-color="#45327e"/><stop offset="0.10" stop-color="#472575"/><stop offset="0.17" stop-color="#471365"/><stop offset="0.28" stop-color="#450558"/><stop offset="1" stop-color="#440154"/></linearGradient>
<rect x="44.2" y="458.2" width="132.9" height="51.2" fill="#440154"/>
<clipPath id="c15"><rect x="44.2" y="458.2" width="132.9" height="51.2"/></clipPath>
<g clip-path="url(#c15)">
<rect x="71.2" y="458.2" width="105.9" height="51.2" fill="url(#lg2)"/>
<rect x="44.2" y="458.2" width="6.6" height="51.2" fill="#423c84"/>
<rect x="50.6" y="458.2" width="1" height="51.2" fill="#35b07c"/>
<rect x="51.5" y="458.2" width="0.9" height="51.2" fill="#7ad151"/>
<rect x="52.4" y="458.2" width="0.8" height="51.2" fill="#c8e020"/>
<rect x="53.1" y="458.2" width="10.9" height="51.2" fill="#fde725"/>
<rect x="64" y="458.2" width="2.5" height="51.2" fill="#22a884"/>
<rect x="63.8" y="458.2" width="0.5" height="51.2" fill="#8fd744"/>
<rect x="66.3" y="458.2" width="0.5" height="51.2" fill="#8fd744"/>
<rect x="66.6" y="458.2" width="3.2" height="51.2" fill="#fde725"/>
<rect x="69.7" y="458.2" width="0.9" height="51.2" fill="#a5db36"/>
<rect x="70.5" y="458.2" width="0.9" height="51.2" fill="#35b779"/>
<rect x="84.2" y="458.2" width="6" height="51.2" fill="#4c1d70" opacity="0.22"/>
<rect x="96.2" y="458.2" width="5" height="51.2" fill="#4c1d70" opacity="0.22"/>
<rect x="107.2" y="458.2" width="5" height="51.2" fill="#4c1d70" opacity="0.22"/>
<rect x="121.2" y="458.2" width="6" height="51.2" fill="#4c1d70" opacity="0.22"/>
<rect x="139.2" y="458.2" width="5" height="51.2" fill="#4c1d70" opacity="0.22"/>
<rect x="156.2" y="458.2" width="6" height="51.2" fill="#4c1d70" opacity="0.22"/>
</g>
<rect x="182.2" y="458.2" width="132.9" height="51.2" fill="#440154"/>
<clipPath id="c16"><rect x="182.2" y="458.2" width="132.9" height="51.2"/></clipPath>
<g clip-path="url(#c16)">
<rect x="209.2" y="458.2" width="105.9" height="51.2" fill="url(#lg2)"/>
<rect x="182.2" y="458.2" width="6.6" height="51.2" fill="#423c84"/>
<rect x="188.6" y="458.2" width="1" height="51.2" fill="#35b07c"/>
<rect x="189.5" y="458.2" width="0.9" height="51.2" fill="#7ad151"/>
<rect x="190.4" y="458.2" width="0.8" height="51.2" fill="#c8e020"/>
<rect x="191.1" y="458.2" width="10.9" height="51.2" fill="#fde725"/>
<rect x="202" y="458.2" width="2.5" height="51.2" fill="#22a884"/>
<rect x="201.8" y="458.2" width="0.5" height="51.2" fill="#8fd744"/>
<rect x="204.3" y="458.2" width="0.5" height="51.2" fill="#8fd744"/>
<rect x="204.6" y="458.2" width="3.2" height="51.2" fill="#fde725"/>
<rect x="207.7" y="458.2" width="0.9" height="51.2" fill="#a5db36"/>
<rect x="208.5" y="458.2" width="0.9" height="51.2" fill="#35b779"/>
<rect x="222.2" y="458.2" width="6" height="51.2" fill="#4c1d70" opacity="0.22"/>
<rect x="234.2" y="458.2" width="5" height="51.2" fill="#4c1d70" opacity="0.22"/>
<rect x="245.2" y="458.2" width="5" height="51.2" fill="#4c1d70" opacity="0.22"/>
<rect x="259.2" y="458.2" width="6" height="51.2" fill="#4c1d70" opacity="0.22"/>
<rect x="277.2" y="458.2" width="5" height="51.2" fill="#4c1d70" opacity="0.22"/>
<rect x="294.2" y="458.2" width="6" height="51.2" fill="#4c1d70" opacity="0.22"/>
</g>
<text x="111.05" y="8.9" font-size="7" text-anchor="middle" letter-spacing="-0.1" style="stroke-width:0.32px">Cut-Off</text>
<text x="249.15" y="8.9" font-size="7" text-anchor="middle" letter-spacing="-0.1" style="stroke-width:0.32px">Normal</text>
<text transform="translate(12.3 37.6) rotate(-90) scale(0.92 1)" font-size="6.1" text-anchor="middle">Input</text>
<text transform="translate(18.8 37.6) rotate(-90) scale(0.92 1)" font-size="6.1" text-anchor="middle">Rot. Speed [rpm]</text>
<text transform="translate(40.6 30.7) scale(0.92 1)" font-size="6.1" text-anchor="end">500.00</text>
<line x1="43" y1="28.5" x2="44.2" y2="28.5" stroke="#333333" stroke-width="0.4"/>
<line x1="181" y1="28.5" x2="182.2" y2="28.5" stroke="#333333" stroke-width="0.4"/>
<text transform="translate(40.6 48.4) scale(0.92 1)" font-size="6.1" text-anchor="end">400.00</text>
<line x1="43" y1="46.2" x2="44.2" y2="46.2" stroke="#333333" stroke-width="0.4"/>
<line x1="181" y1="46.2" x2="182.2" y2="46.2" stroke="#333333" stroke-width="0.4"/>
<line x1="44.2" y1="63.2" x2="44.2" y2="64.4" stroke="#333333" stroke-width="0.4"/>
<line x1="70.6" y1="63.2" x2="70.6" y2="64.4" stroke="#333333" stroke-width="0.4"/>
<line x1="97" y1="63.2" x2="97" y2="64.4" stroke="#333333" stroke-width="0.4"/>
<line x1="123.4" y1="63.2" x2="123.4" y2="64.4" stroke="#333333" stroke-width="0.4"/>
<line x1="149.8" y1="63.2" x2="149.8" y2="64.4" stroke="#333333" stroke-width="0.4"/>
<line x1="182.2" y1="63.2" x2="182.2" y2="64.4" stroke="#333333" stroke-width="0.4"/>
<line x1="208.6" y1="63.2" x2="208.6" y2="64.4" stroke="#333333" stroke-width="0.4"/>
<line x1="235" y1="63.2" x2="235" y2="64.4" stroke="#333333" stroke-width="0.4"/>
<line x1="261.4" y1="63.2" x2="261.4" y2="64.4" stroke="#333333" stroke-width="0.4"/>
<line x1="287.8" y1="63.2" x2="287.8" y2="64.4" stroke="#333333" stroke-width="0.4"/>
<text transform="translate(12.3 93) rotate(-90) scale(0.92 1)" font-size="6.1" text-anchor="middle">GradCAM</text>
<text transform="translate(18.8 93) rotate(-90) scale(0.92 1)" font-size="6.1" text-anchor="middle">Rot. Speed [rpm]</text>
<text transform="translate(40.6 86.1) scale(0.92 1)" font-size="6.1" text-anchor="end">500.00</text>
<line x1="43" y1="83.9" x2="44.2" y2="83.9" stroke="#333333" stroke-width="0.4"/>
<line x1="181" y1="83.9" x2="182.2" y2="83.9" stroke="#333333" stroke-width="0.4"/>
<text transform="translate(40.6 103.8) scale(0.92 1)" font-size="6.1" text-anchor="end">400.00</text>
<line x1="43" y1="101.6" x2="44.2" y2="101.6" stroke="#333333" stroke-width="0.4"/>
<line x1="181" y1="101.6" x2="182.2" y2="101.6" stroke="#333333" stroke-width="0.4"/>
<line x1="44.2" y1="118.6" x2="44.2" y2="119.8" stroke="#333333" stroke-width="0.4"/>
<line x1="70.6" y1="118.6" x2="70.6" y2="119.8" stroke="#333333" stroke-width="0.4"/>
<line x1="97" y1="118.6" x2="97" y2="119.8" stroke="#333333" stroke-width="0.4"/>
<line x1="123.4" y1="118.6" x2="123.4" y2="119.8" stroke="#333333" stroke-width="0.4"/>
<line x1="149.8" y1="118.6" x2="149.8" y2="119.8" stroke="#333333" stroke-width="0.4"/>
<line x1="182.2" y1="118.6" x2="182.2" y2="119.8" stroke="#333333" stroke-width="0.4"/>
<line x1="208.6" y1="118.6" x2="208.6" y2="119.8" stroke="#333333" stroke-width="0.4"/>
<line x1="235" y1="118.6" x2="235" y2="119.8" stroke="#333333" stroke-width="0.4"/>
<line x1="261.4" y1="118.6" x2="261.4" y2="119.8" stroke="#333333" stroke-width="0.4"/>
<line x1="287.8" y1="118.6" x2="287.8" y2="119.8" stroke="#333333" stroke-width="0.4"/>
<text transform="translate(12.3 148.4) rotate(-90) scale(0.92 1)" font-size="6.1" text-anchor="middle">LRP-Z</text>
<text transform="translate(18.8 148.4) rotate(-90) scale(0.92 1)" font-size="6.1" text-anchor="middle">Rot. Speed [rpm]</text>
<text transform="translate(40.6 141.5) scale(0.92 1)" font-size="6.1" text-anchor="end">500.00</text>
<line x1="43" y1="139.3" x2="44.2" y2="139.3" stroke="#333333" stroke-width="0.4"/>
<line x1="181" y1="139.3" x2="182.2" y2="139.3" stroke="#333333" stroke-width="0.4"/>
<text transform="translate(40.6 159.2) scale(0.92 1)" font-size="6.1" text-anchor="end">400.00</text>
<line x1="43" y1="157" x2="44.2" y2="157" stroke="#333333" stroke-width="0.4"/>
<line x1="181" y1="157" x2="182.2" y2="157" stroke="#333333" stroke-width="0.4"/>
<line x1="44.2" y1="174" x2="44.2" y2="175.2" stroke="#333333" stroke-width="0.4"/>
<line x1="70.6" y1="174" x2="70.6" y2="175.2" stroke="#333333" stroke-width="0.4"/>
<line x1="97" y1="174" x2="97" y2="175.2" stroke="#333333" stroke-width="0.4"/>
<line x1="123.4" y1="174" x2="123.4" y2="175.2" stroke="#333333" stroke-width="0.4"/>
<line x1="149.8" y1="174" x2="149.8" y2="175.2" stroke="#333333" stroke-width="0.4"/>
<line x1="182.2" y1="174" x2="182.2" y2="175.2" stroke="#333333" stroke-width="0.4"/>
<line x1="208.6" y1="174" x2="208.6" y2="175.2" stroke="#333333" stroke-width="0.4"/>
<line x1="235" y1="174" x2="235" y2="175.2" stroke="#333333" stroke-width="0.4"/>
<line x1="261.4" y1="174" x2="261.4" y2="175.2" stroke="#333333" stroke-width="0.4"/>
<line x1="287.8" y1="174" x2="287.8" y2="175.2" stroke="#333333" stroke-width="0.4"/>
<text transform="translate(12.3 203.8) rotate(-90) scale(0.92 1)" font-size="6.1" text-anchor="middle">(Global) LIME</text>
<text transform="translate(18.8 203.8) rotate(-90) scale(0.92 1)" font-size="6.1" text-anchor="middle">Rot. Speed [rpm]</text>
<text transform="translate(40.6 196.9) scale(0.92 1)" font-size="6.1" text-anchor="end">500.00</text>
<line x1="43" y1="194.7" x2="44.2" y2="194.7" stroke="#333333" stroke-width="0.4"/>
<line x1="181" y1="194.7" x2="182.2" y2="194.7" stroke="#333333" stroke-width="0.4"/>
<text transform="translate(40.6 214.6) scale(0.92 1)" font-size="6.1" text-anchor="end">400.00</text>
<line x1="43" y1="212.4" x2="44.2" y2="212.4" stroke="#333333" stroke-width="0.4"/>
<line x1="181" y1="212.4" x2="182.2" y2="212.4" stroke="#333333" stroke-width="0.4"/>
<line x1="44.2" y1="229.4" x2="44.2" y2="230.6" stroke="#333333" stroke-width="0.4"/>
<line x1="70.6" y1="229.4" x2="70.6" y2="230.6" stroke="#333333" stroke-width="0.4"/>
<line x1="97" y1="229.4" x2="97" y2="230.6" stroke="#333333" stroke-width="0.4"/>
<line x1="123.4" y1="229.4" x2="123.4" y2="230.6" stroke="#333333" stroke-width="0.4"/>
<line x1="149.8" y1="229.4" x2="149.8" y2="230.6" stroke="#333333" stroke-width="0.4"/>
<line x1="182.2" y1="229.4" x2="182.2" y2="230.6" stroke="#333333" stroke-width="0.4"/>
<line x1="208.6" y1="229.4" x2="208.6" y2="230.6" stroke="#333333" stroke-width="0.4"/>
<line x1="235" y1="229.4" x2="235" y2="230.6" stroke="#333333" stroke-width="0.4"/>
<line x1="261.4" y1="229.4" x2="261.4" y2="230.6" stroke="#333333" stroke-width="0.4"/>
<line x1="287.8" y1="229.4" x2="287.8" y2="230.6" stroke="#333333" stroke-width="0.4"/>
<text transform="translate(44.2 236.6) scale(0.92 1)" font-size="6.1" text-anchor="middle">0</text>
<text transform="translate(70.6 236.6) scale(0.92 1)" font-size="6.1" text-anchor="middle">50</text>
<text transform="translate(97 236.6) scale(0.92 1)" font-size="6.1" text-anchor="middle">100</text>
<text transform="translate(123.4 236.6) scale(0.92 1)" font-size="6.1" text-anchor="middle">150</text>
<text transform="translate(149.8 236.6) scale(0.92 1)" font-size="6.1" text-anchor="middle">200</text>
<text transform="translate(110.65 245.8) scale(0.92 1)" font-size="6.1" text-anchor="middle">Frequency [Hz]</text>
<text transform="translate(182.2 236.6) scale(0.92 1)" font-size="6.1" text-anchor="middle">0</text>
<text transform="translate(208.6 236.6) scale(0.92 1)" font-size="6.1" text-anchor="middle">50</text>
<text transform="translate(235 236.6) scale(0.92 1)" font-size="6.1" text-anchor="middle">100</text>
<text transform="translate(261.4 236.6) scale(0.92 1)" font-size="6.1" text-anchor="middle">150</text>
<text transform="translate(287.8 236.6) scale(0.92 1)" font-size="6.1" text-anchor="middle">200</text>
<text transform="translate(248.65 245.8) scale(0.92 1)" font-size="6.1" text-anchor="middle">Frequency [Hz]</text>
<rect x="318.6" y="12" width="6.9" height="217.4" fill="url(#vir)" stroke="#222" stroke-width="0.5"/>
<line x1="325.5" y1="12" x2="326.9" y2="12" stroke="#333333" stroke-width="0.4"/>
<line x1="325.5" y1="229.4" x2="326.9" y2="229.4" stroke="#333333" stroke-width="0.4"/>
<text transform="translate(329.6 14) scale(0.92 1)" font-size="6.1" text-anchor="start">High</text>
<text transform="translate(329.6 231.4) scale(0.92 1)" font-size="6.1" text-anchor="start">Low</text>
<text x="111.05" y="288.9" font-size="7" text-anchor="middle" letter-spacing="-0.1" style="stroke-width:0.32px">Cut-Off</text>
<text x="249.15" y="288.9" font-size="7" text-anchor="middle" letter-spacing="-0.1" style="stroke-width:0.32px">Normal</text>
<text transform="translate(12.3 317.6) rotate(-90) scale(0.92 1)" font-size="6.1" text-anchor="middle">Input</text>
<text transform="translate(18.8 317.6) rotate(-90) scale(0.92 1)" font-size="6.1" text-anchor="middle">Rot. Speed [rpm]</text>
<text transform="translate(40.6 310.7) scale(0.92 1)" font-size="6.1" text-anchor="end">500.00</text>
<line x1="43" y1="308.5" x2="44.2" y2="308.5" stroke="#333333" stroke-width="0.4"/>
<line x1="181" y1="308.5" x2="182.2" y2="308.5" stroke="#333333" stroke-width="0.4"/>
<text transform="translate(40.6 328.4) scale(0.92 1)" font-size="6.1" text-anchor="end">400.00</text>
<line x1="43" y1="326.2" x2="44.2" y2="326.2" stroke="#333333" stroke-width="0.4"/>
<line x1="181" y1="326.2" x2="182.2" y2="326.2" stroke="#333333" stroke-width="0.4"/>
<line x1="44.2" y1="343.2" x2="44.2" y2="344.4" stroke="#333333" stroke-width="0.4"/>
<line x1="70.6" y1="343.2" x2="70.6" y2="344.4" stroke="#333333" stroke-width="0.4"/>
<line x1="97" y1="343.2" x2="97" y2="344.4" stroke="#333333" stroke-width="0.4"/>
<line x1="123.4" y1="343.2" x2="123.4" y2="344.4" stroke="#333333" stroke-width="0.4"/>
<line x1="149.8" y1="343.2" x2="149.8" y2="344.4" stroke="#333333" stroke-width="0.4"/>
<line x1="176.2" y1="343.2" x2="176.2" y2="344.4" stroke="#333333" stroke-width="0.4"/>
<line x1="182.2" y1="343.2" x2="182.2" y2="344.4" stroke="#333333" stroke-width="0.4"/>
<line x1="208.6" y1="343.2" x2="208.6" y2="344.4" stroke="#333333" stroke-width="0.4"/>
<line x1="235" y1="343.2" x2="235" y2="344.4" stroke="#333333" stroke-width="0.4"/>
<line x1="261.4" y1="343.2" x2="261.4" y2="344.4" stroke="#333333" stroke-width="0.4"/>
<line x1="287.8" y1="343.2" x2="287.8" y2="344.4" stroke="#333333" stroke-width="0.4"/>
<line x1="314.2" y1="343.2" x2="314.2" y2="344.4" stroke="#333333" stroke-width="0.4"/>
<text transform="translate(12.3 373) rotate(-90) scale(0.92 1)" font-size="6.1" text-anchor="middle">GradCAM</text>
<text transform="translate(18.8 373) rotate(-90) scale(0.92 1)" font-size="6.1" text-anchor="middle">Rot. Speed [rpm]</text>
<text transform="translate(40.6 366.1) scale(0.92 1)" font-size="6.1" text-anchor="end">500.00</text>
<line x1="43" y1="363.9" x2="44.2" y2="363.9" stroke="#333333" stroke-width="0.4"/>
<line x1="181" y1="363.9" x2="182.2" y2="363.9" stroke="#333333" stroke-width="0.4"/>
<text transform="translate(40.6 383.8) scale(0.92 1)" font-size="6.1" text-anchor="end">400.00</text>
<line x1="43" y1="381.6" x2="44.2" y2="381.6" stroke="#333333" stroke-width="0.4"/>
<line x1="181" y1="381.6" x2="182.2" y2="381.6" stroke="#333333" stroke-width="0.4"/>
<line x1="44.2" y1="398.6" x2="44.2" y2="399.8" stroke="#333333" stroke-width="0.4"/>
<line x1="70.6" y1="398.6" x2="70.6" y2="399.8" stroke="#333333" stroke-width="0.4"/>
<line x1="97" y1="398.6" x2="97" y2="399.8" stroke="#333333" stroke-width="0.4"/>
<line x1="123.4" y1="398.6" x2="123.4" y2="399.8" stroke="#333333" stroke-width="0.4"/>
<line x1="149.8" y1="398.6" x2="149.8" y2="399.8" stroke="#333333" stroke-width="0.4"/>
<line x1="176.2" y1="398.6" x2="176.2" y2="399.8" stroke="#333333" stroke-width="0.4"/>
<line x1="182.2" y1="398.6" x2="182.2" y2="399.8" stroke="#333333" stroke-width="0.4"/>
<line x1="208.6" y1="398.6" x2="208.6" y2="399.8" stroke="#333333" stroke-width="0.4"/>
<line x1="235" y1="398.6" x2="235" y2="399.8" stroke="#333333" stroke-width="0.4"/>
<line x1="261.4" y1="398.6" x2="261.4" y2="399.8" stroke="#333333" stroke-width="0.4"/>
<line x1="287.8" y1="398.6" x2="287.8" y2="399.8" stroke="#333333" stroke-width="0.4"/>
<line x1="314.2" y1="398.6" x2="314.2" y2="399.8" stroke="#333333" stroke-width="0.4"/>
<text transform="translate(12.3 428.4) rotate(-90) scale(0.92 1)" font-size="6.1" text-anchor="middle">LRP-Z</text>
<text transform="translate(18.8 428.4) rotate(-90) scale(0.92 1)" font-size="6.1" text-anchor="middle">Rot. Speed [rpm]</text>
<text transform="translate(40.6 421.5) scale(0.92 1)" font-size="6.1" text-anchor="end">500.00</text>
<line x1="43" y1="419.3" x2="44.2" y2="419.3" stroke="#333333" stroke-width="0.4"/>
<line x1="181" y1="419.3" x2="182.2" y2="419.3" stroke="#333333" stroke-width="0.4"/>
<text transform="translate(40.6 439.2) scale(0.92 1)" font-size="6.1" text-anchor="end">400.00</text>
<line x1="43" y1="437" x2="44.2" y2="437" stroke="#333333" stroke-width="0.4"/>
<line x1="181" y1="437" x2="182.2" y2="437" stroke="#333333" stroke-width="0.4"/>
<line x1="44.2" y1="454" x2="44.2" y2="455.2" stroke="#333333" stroke-width="0.4"/>
<line x1="70.6" y1="454" x2="70.6" y2="455.2" stroke="#333333" stroke-width="0.4"/>
<line x1="97" y1="454" x2="97" y2="455.2" stroke="#333333" stroke-width="0.4"/>
<line x1="123.4" y1="454" x2="123.4" y2="455.2" stroke="#333333" stroke-width="0.4"/>
<line x1="149.8" y1="454" x2="149.8" y2="455.2" stroke="#333333" stroke-width="0.4"/>
<line x1="176.2" y1="454" x2="176.2" y2="455.2" stroke="#333333" stroke-width="0.4"/>
<line x1="182.2" y1="454" x2="182.2" y2="455.2" stroke="#333333" stroke-width="0.4"/>
<line x1="208.6" y1="454" x2="208.6" y2="455.2" stroke="#333333" stroke-width="0.4"/>
<line x1="235" y1="454" x2="235" y2="455.2" stroke="#333333" stroke-width="0.4"/>
<line x1="261.4" y1="454" x2="261.4" y2="455.2" stroke="#333333" stroke-width="0.4"/>
<line x1="287.8" y1="454" x2="287.8" y2="455.2" stroke="#333333" stroke-width="0.4"/>
<line x1="314.2" y1="454" x2="314.2" y2="455.2" stroke="#333333" stroke-width="0.4"/>
<text transform="translate(12.3 483.8) rotate(-90) scale(0.92 1)" font-size="6.1" text-anchor="middle">(Global) LIME</text>
<text transform="translate(18.8 483.8) rotate(-90) scale(0.92 1)" font-size="6.1" text-anchor="middle">Rot. Speed [rpm]</text>
<text transform="translate(40.6 476.9) scale(0.92 1)" font-size="6.1" text-anchor="end">500.00</text>
<line x1="43" y1="474.7" x2="44.2" y2="474.7" stroke="#333333" stroke-width="0.4"/>
<line x1="181" y1="474.7" x2="182.2" y2="474.7" stroke="#333333" stroke-width="0.4"/>
<text transform="translate(40.6 494.6) scale(0.92 1)" font-size="6.1" text-anchor="end">400.00</text>
<line x1="43" y1="492.4" x2="44.2" y2="492.4" stroke="#333333" stroke-width="0.4"/>
<line x1="181" y1="492.4" x2="182.2" y2="492.4" stroke="#333333" stroke-width="0.4"/>
<line x1="44.2" y1="509.4" x2="44.2" y2="510.6" stroke="#333333" stroke-width="0.4"/>
<line x1="70.6" y1="509.4" x2="70.6" y2="510.6" stroke="#333333" stroke-width="0.4"/>
<line x1="97" y1="509.4" x2="97" y2="510.6" stroke="#333333" stroke-width="0.4"/>
<line x1="123.4" y1="509.4" x2="123.4" y2="510.6" stroke="#333333" stroke-width="0.4"/>
<line x1="149.8" y1="509.4" x2="149.8" y2="510.6" stroke="#333333" stroke-width="0.4"/>
<line x1="176.2" y1="509.4" x2="176.2" y2="510.6" stroke="#333333" stroke-width="0.4"/>
<line x1="182.2" y1="509.4" x2="182.2" y2="510.6" stroke="#333333" stroke-width="0.4"/>
<line x1="208.6" y1="509.4" x2="208.6" y2="510.6" stroke="#333333" stroke-width="0.4"/>
<line x1="235" y1="509.4" x2="235" y2="510.6" stroke="#333333" stroke-width="0.4"/>
<line x1="261.4" y1="509.4" x2="261.4" y2="510.6" stroke="#333333" stroke-width="0.4"/>
<line x1="287.8" y1="509.4" x2="287.8" y2="510.6" stroke="#333333" stroke-width="0.4"/>
<line x1="314.2" y1="509.4" x2="314.2" y2="510.6" stroke="#333333" stroke-width="0.4"/>
<text transform="translate(44.2 516.6) scale(0.92 1)" font-size="6.1" text-anchor="middle">0</text>
<text transform="translate(70.6 516.6) scale(0.92 1)" font-size="6.1" text-anchor="middle">5</text>
<text transform="translate(97 516.6) scale(0.92 1)" font-size="6.1" text-anchor="middle">10</text>
<text transform="translate(123.4 516.6) scale(0.92 1)" font-size="6.1" text-anchor="middle">15</text>
<text transform="translate(149.8 516.6) scale(0.92 1)" font-size="6.1" text-anchor="middle">20</text>
<text transform="translate(176.2 516.6) scale(0.92 1)" font-size="6.1" text-anchor="middle">25</text>
<text transform="translate(110.65 525.8) scale(0.92 1)" font-size="6.1" text-anchor="middle">Orders</text>
<text transform="translate(182.2 516.6) scale(0.92 1)" font-size="6.1" text-anchor="middle">0</text>
<text transform="translate(208.6 516.6) scale(0.92 1)" font-size="6.1" text-anchor="middle">5</text>
<text transform="translate(235 516.6) scale(0.92 1)" font-size="6.1" text-anchor="middle">10</text>
<text transform="translate(261.4 516.6) scale(0.92 1)" font-size="6.1" text-anchor="middle">15</text>
<text transform="translate(287.8 516.6) scale(0.92 1)" font-size="6.1" text-anchor="middle">20</text>
<text transform="translate(314.2 516.6) scale(0.92 1)" font-size="6.1" text-anchor="middle">25</text>
<text transform="translate(248.65 525.8) scale(0.92 1)" font-size="6.1" text-anchor="middle">Orders</text>
<rect x="318.6" y="292" width="6.9" height="217.4" fill="url(#vir)" stroke="#222" stroke-width="0.5"/>
<line x1="325.5" y1="292" x2="326.9" y2="292" stroke="#333333" stroke-width="0.4"/>
<line x1="325.5" y1="509.4" x2="326.9" y2="509.4" stroke="#333333" stroke-width="0.4"/>
<text transform="translate(329.6 294) scale(0.92 1)" font-size="6.1" text-anchor="start">High</text>
<text transform="translate(329.6 511.4) scale(0.92 1)" font-size="6.1" text-anchor="start">Low</text>
<text x="174.5" y="266.5" font-size="8.6" text-anchor="middle" style="font-weight:normal;stroke-width:0.12px">(<tspan style="font-weight:bold;stroke-width:0.3px">a</tspan>)</text>
<text x="174.5" y="547.4" font-size="8.6" text-anchor="middle" style="font-weight:normal;stroke-width:0.12px">(<tspan style="font-weight:bold;stroke-width:0.3px">b</tspan>)</text>
</svg>
</body></html>
